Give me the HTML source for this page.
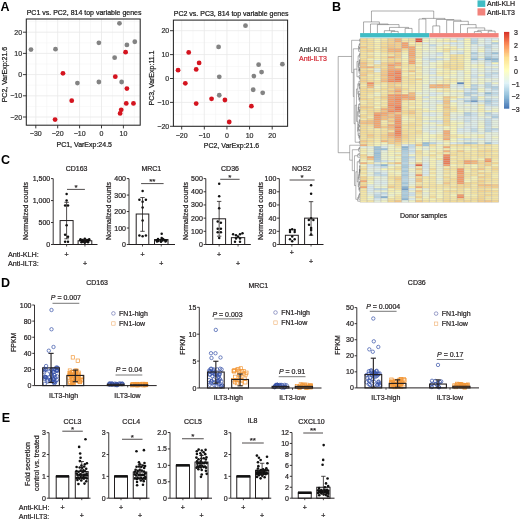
<!DOCTYPE html>
<html><head><meta charset="utf-8"><style>
html,body{margin:0;padding:0;background:#fff;}
svg{display:block;}
text{font-family:"Liberation Sans",Arial,sans-serif;stroke-width:0.22px;paint-order:stroke;}
</style></head><body>
<svg width="520" height="521" viewBox="0 0 520 521">
<rect width="520" height="521" fill="#fff"/>
<text x="0.5" y="11.4" font-size="12.5" text-anchor="start" fill="#000" stroke="#000" font-weight="bold" style="stroke-width:0">A</text>
<text x="332.1" y="10.8" font-size="12.5" text-anchor="start" fill="#000" stroke="#000" font-weight="bold" style="stroke-width:0">B</text>
<text x="0.9" y="163.8" font-size="12.5" text-anchor="start" fill="#000" stroke="#000" font-weight="bold" style="stroke-width:0">C</text>
<text x="0.9" y="286.5" font-size="12.5" text-anchor="start" fill="#000" stroke="#000" font-weight="bold" style="stroke-width:0">D</text>
<text x="1.7" y="421.6" font-size="12.5" text-anchor="start" fill="#000" stroke="#000" font-weight="bold" style="stroke-width:0">E</text>
<line x1="46.75" y1="19" x2="46.75" y2="125.2" stroke="#f2f2f2" stroke-width="0.5"/>
<line x1="68.65" y1="19" x2="68.65" y2="125.2" stroke="#f2f2f2" stroke-width="0.5"/>
<line x1="90.55" y1="19" x2="90.55" y2="125.2" stroke="#f2f2f2" stroke-width="0.5"/>
<line x1="112.45" y1="19" x2="112.45" y2="125.2" stroke="#f2f2f2" stroke-width="0.5"/>
<line x1="134.35" y1="19" x2="134.35" y2="125.2" stroke="#f2f2f2" stroke-width="0.5"/>
<line x1="26.3" y1="106.4" x2="140.2" y2="106.4" stroke="#f2f2f2" stroke-width="0.5"/>
<line x1="26.3" y1="85.2" x2="140.2" y2="85.2" stroke="#f2f2f2" stroke-width="0.5"/>
<line x1="26.3" y1="64" x2="140.2" y2="64" stroke="#f2f2f2" stroke-width="0.5"/>
<line x1="26.3" y1="42.8" x2="140.2" y2="42.8" stroke="#f2f2f2" stroke-width="0.5"/>
<line x1="26.3" y1="21.6" x2="140.2" y2="21.6" stroke="#f2f2f2" stroke-width="0.5"/>
<line x1="35.8" y1="19" x2="35.8" y2="125.2" stroke="#e8e8e8" stroke-width="0.8"/>
<line x1="57.7" y1="19" x2="57.7" y2="125.2" stroke="#e8e8e8" stroke-width="0.8"/>
<line x1="79.6" y1="19" x2="79.6" y2="125.2" stroke="#e8e8e8" stroke-width="0.8"/>
<line x1="101.5" y1="19" x2="101.5" y2="125.2" stroke="#e8e8e8" stroke-width="0.8"/>
<line x1="123.4" y1="19" x2="123.4" y2="125.2" stroke="#e8e8e8" stroke-width="0.8"/>
<line x1="26.3" y1="117" x2="140.2" y2="117" stroke="#e8e8e8" stroke-width="0.8"/>
<line x1="26.3" y1="95.8" x2="140.2" y2="95.8" stroke="#e8e8e8" stroke-width="0.8"/>
<line x1="26.3" y1="74.6" x2="140.2" y2="74.6" stroke="#e8e8e8" stroke-width="0.8"/>
<line x1="26.3" y1="53.4" x2="140.2" y2="53.4" stroke="#e8e8e8" stroke-width="0.8"/>
<line x1="26.3" y1="32.2" x2="140.2" y2="32.2" stroke="#e8e8e8" stroke-width="0.8"/>
<circle cx="30.98" cy="49.58" r="2.4" fill="#838383" stroke="none" stroke-width="1"/>
<circle cx="55.51" cy="49.16" r="2.4" fill="#838383" stroke="none" stroke-width="1"/>
<circle cx="77.41" cy="83.08" r="2.4" fill="#838383" stroke="none" stroke-width="1"/>
<circle cx="98.87" cy="42.8" r="2.4" fill="#838383" stroke="none" stroke-width="1"/>
<circle cx="98.87" cy="82.02" r="2.4" fill="#838383" stroke="none" stroke-width="1"/>
<circle cx="114.64" cy="57.64" r="2.4" fill="#838383" stroke="none" stroke-width="1"/>
<circle cx="119.46" cy="23.3" r="2.4" fill="#838383" stroke="none" stroke-width="1"/>
<circle cx="121.65" cy="82.02" r="2.4" fill="#838383" stroke="none" stroke-width="1"/>
<circle cx="126.9" cy="44.92" r="2.4" fill="#838383" stroke="none" stroke-width="1"/>
<circle cx="134.79" cy="41.74" r="2.4" fill="#838383" stroke="none" stroke-width="1"/>
<circle cx="55.07" cy="119.54" r="2.4" fill="#d4141f" stroke="none" stroke-width="1"/>
<circle cx="62.96" cy="73.33" r="2.4" fill="#d4141f" stroke="none" stroke-width="1"/>
<circle cx="71.72" cy="100.68" r="2.4" fill="#d4141f" stroke="none" stroke-width="1"/>
<circle cx="115.3" cy="76.72" r="2.4" fill="#d4141f" stroke="none" stroke-width="1"/>
<circle cx="125.59" cy="52.13" r="2.4" fill="#d4141f" stroke="none" stroke-width="1"/>
<circle cx="126.9" cy="88.59" r="2.4" fill="#d4141f" stroke="none" stroke-width="1"/>
<circle cx="126.25" cy="103.43" r="2.4" fill="#d4141f" stroke="none" stroke-width="1"/>
<circle cx="133.47" cy="103.43" r="2.4" fill="#d4141f" stroke="none" stroke-width="1"/>
<circle cx="121.21" cy="109.79" r="2.4" fill="#d4141f" stroke="none" stroke-width="1"/>
<circle cx="120.11" cy="113.4" r="2.4" fill="#d4141f" stroke="none" stroke-width="1"/>
<rect x="26.3" y="19" width="113.9" height="106.2" fill="none" stroke="#262626" stroke-width="1.05"/>
<line x1="35.8" y1="125.2" x2="35.8" y2="128.4" stroke="#262626" stroke-width="0.9"/>
<text x="35.8" y="136.4" font-size="7" text-anchor="middle" fill="#333" stroke="#333">−30</text>
<line x1="57.7" y1="125.2" x2="57.7" y2="128.4" stroke="#262626" stroke-width="0.9"/>
<text x="57.7" y="136.4" font-size="7" text-anchor="middle" fill="#333" stroke="#333">−20</text>
<line x1="79.6" y1="125.2" x2="79.6" y2="128.4" stroke="#262626" stroke-width="0.9"/>
<text x="79.6" y="136.4" font-size="7" text-anchor="middle" fill="#333" stroke="#333">−10</text>
<line x1="101.5" y1="125.2" x2="101.5" y2="128.4" stroke="#262626" stroke-width="0.9"/>
<text x="101.5" y="136.4" font-size="7" text-anchor="middle" fill="#333" stroke="#333">0</text>
<line x1="123.4" y1="125.2" x2="123.4" y2="128.4" stroke="#262626" stroke-width="0.9"/>
<text x="123.4" y="136.4" font-size="7" text-anchor="middle" fill="#333" stroke="#333">10</text>
<line x1="22.9" y1="117" x2="26.3" y2="117" stroke="#262626" stroke-width="0.9"/>
<text x="22.1" y="119.5" font-size="7" text-anchor="end" fill="#333" stroke="#333">−20</text>
<line x1="22.9" y1="95.8" x2="26.3" y2="95.8" stroke="#262626" stroke-width="0.9"/>
<text x="22.1" y="98.3" font-size="7" text-anchor="end" fill="#333" stroke="#333">−10</text>
<line x1="22.9" y1="74.6" x2="26.3" y2="74.6" stroke="#262626" stroke-width="0.9"/>
<text x="22.1" y="77.1" font-size="7" text-anchor="end" fill="#333" stroke="#333">0</text>
<line x1="22.9" y1="53.4" x2="26.3" y2="53.4" stroke="#262626" stroke-width="0.9"/>
<text x="22.1" y="55.9" font-size="7" text-anchor="end" fill="#333" stroke="#333">10</text>
<line x1="22.9" y1="32.2" x2="26.3" y2="32.2" stroke="#262626" stroke-width="0.9"/>
<text x="22.1" y="34.7" font-size="7" text-anchor="end" fill="#333" stroke="#333">20</text>
<text x="26.7" y="14.5" font-size="7" text-anchor="start" fill="#1a1a1a" stroke="#1a1a1a">PC1 vs. PC2, 814 top variable genes</text>
<text x="84.25" y="146.9" font-size="7" text-anchor="middle" fill="#1a1a1a" stroke="#1a1a1a">PC1, VarExp:24.5</text>
<text x="7.4" y="74.6" font-size="7" text-anchor="middle" fill="#1a1a1a" stroke="#1a1a1a" transform="rotate(-90 7.4 74.6)">PC2, VarExp:21.6</text>
<line x1="170.39" y1="20.1" x2="170.39" y2="126.3" stroke="#f2f2f2" stroke-width="0.5"/>
<line x1="193.01" y1="20.1" x2="193.01" y2="126.3" stroke="#f2f2f2" stroke-width="0.5"/>
<line x1="215.64" y1="20.1" x2="215.64" y2="126.3" stroke="#f2f2f2" stroke-width="0.5"/>
<line x1="238.26" y1="20.1" x2="238.26" y2="126.3" stroke="#f2f2f2" stroke-width="0.5"/>
<line x1="260.89" y1="20.1" x2="260.89" y2="126.3" stroke="#f2f2f2" stroke-width="0.5"/>
<line x1="283.51" y1="20.1" x2="283.51" y2="126.3" stroke="#f2f2f2" stroke-width="0.5"/>
<line x1="173.4" y1="114.35" x2="287.6" y2="114.35" stroke="#f2f2f2" stroke-width="0.5"/>
<line x1="173.4" y1="90.45" x2="287.6" y2="90.45" stroke="#f2f2f2" stroke-width="0.5"/>
<line x1="173.4" y1="66.55" x2="287.6" y2="66.55" stroke="#f2f2f2" stroke-width="0.5"/>
<line x1="173.4" y1="42.65" x2="287.6" y2="42.65" stroke="#f2f2f2" stroke-width="0.5"/>
<line x1="181.7" y1="20.1" x2="181.7" y2="126.3" stroke="#e8e8e8" stroke-width="0.8"/>
<line x1="204.32" y1="20.1" x2="204.32" y2="126.3" stroke="#e8e8e8" stroke-width="0.8"/>
<line x1="226.95" y1="20.1" x2="226.95" y2="126.3" stroke="#e8e8e8" stroke-width="0.8"/>
<line x1="249.57" y1="20.1" x2="249.57" y2="126.3" stroke="#e8e8e8" stroke-width="0.8"/>
<line x1="272.2" y1="20.1" x2="272.2" y2="126.3" stroke="#e8e8e8" stroke-width="0.8"/>
<line x1="173.4" y1="126.3" x2="287.6" y2="126.3" stroke="#e8e8e8" stroke-width="0.8"/>
<line x1="173.4" y1="102.4" x2="287.6" y2="102.4" stroke="#e8e8e8" stroke-width="0.8"/>
<line x1="173.4" y1="78.5" x2="287.6" y2="78.5" stroke="#e8e8e8" stroke-width="0.8"/>
<line x1="173.4" y1="54.6" x2="287.6" y2="54.6" stroke="#e8e8e8" stroke-width="0.8"/>
<line x1="173.4" y1="30.7" x2="287.6" y2="30.7" stroke="#e8e8e8" stroke-width="0.8"/>
<circle cx="245.5" cy="25.68" r="2.4" fill="#838383" stroke="none" stroke-width="1"/>
<circle cx="218.58" cy="46.95" r="2.4" fill="#838383" stroke="none" stroke-width="1"/>
<circle cx="219.26" cy="76.83" r="2.4" fill="#838383" stroke="none" stroke-width="1"/>
<circle cx="219.26" cy="95.23" r="2.4" fill="#838383" stroke="none" stroke-width="1"/>
<circle cx="253.87" cy="76.11" r="2.4" fill="#838383" stroke="none" stroke-width="1"/>
<circle cx="258.62" cy="64.64" r="2.4" fill="#838383" stroke="none" stroke-width="1"/>
<circle cx="261.57" cy="72.05" r="2.4" fill="#838383" stroke="none" stroke-width="1"/>
<circle cx="253.19" cy="89.73" r="2.4" fill="#838383" stroke="none" stroke-width="1"/>
<circle cx="262.7" cy="92.84" r="2.4" fill="#838383" stroke="none" stroke-width="1"/>
<circle cx="282.38" cy="64.16" r="2.4" fill="#838383" stroke="none" stroke-width="1"/>
<circle cx="188.71" cy="52.45" r="2.4" fill="#d4141f" stroke="none" stroke-width="1"/>
<circle cx="199.12" cy="62.97" r="2.4" fill="#d4141f" stroke="none" stroke-width="1"/>
<circle cx="178.08" cy="70.14" r="2.4" fill="#d4141f" stroke="none" stroke-width="1"/>
<circle cx="196.18" cy="69.42" r="2.4" fill="#d4141f" stroke="none" stroke-width="1"/>
<circle cx="185.32" cy="83.28" r="2.4" fill="#d4141f" stroke="none" stroke-width="1"/>
<circle cx="196.18" cy="103.59" r="2.4" fill="#d4141f" stroke="none" stroke-width="1"/>
<circle cx="211.56" cy="98.81" r="2.4" fill="#d4141f" stroke="none" stroke-width="1"/>
<circle cx="224.91" cy="100.01" r="2.4" fill="#d4141f" stroke="none" stroke-width="1"/>
<circle cx="229.21" cy="122" r="2.4" fill="#d4141f" stroke="none" stroke-width="1"/>
<circle cx="251.38" cy="106.22" r="2.4" fill="#d4141f" stroke="none" stroke-width="1"/>
<rect x="173.4" y="20.1" width="114.2" height="106.2" fill="none" stroke="#262626" stroke-width="1.05"/>
<line x1="181.7" y1="126.3" x2="181.7" y2="129.5" stroke="#262626" stroke-width="0.9"/>
<text x="181.7" y="137.6" font-size="7" text-anchor="middle" fill="#333" stroke="#333">−20</text>
<line x1="204.32" y1="126.3" x2="204.32" y2="129.5" stroke="#262626" stroke-width="0.9"/>
<text x="204.32" y="137.6" font-size="7" text-anchor="middle" fill="#333" stroke="#333">−10</text>
<line x1="226.95" y1="126.3" x2="226.95" y2="129.5" stroke="#262626" stroke-width="0.9"/>
<text x="226.95" y="137.6" font-size="7" text-anchor="middle" fill="#333" stroke="#333">0</text>
<line x1="249.57" y1="126.3" x2="249.57" y2="129.5" stroke="#262626" stroke-width="0.9"/>
<text x="249.57" y="137.6" font-size="7" text-anchor="middle" fill="#333" stroke="#333">10</text>
<line x1="272.2" y1="126.3" x2="272.2" y2="129.5" stroke="#262626" stroke-width="0.9"/>
<text x="272.2" y="137.6" font-size="7" text-anchor="middle" fill="#333" stroke="#333">20</text>
<line x1="170" y1="126.3" x2="173.4" y2="126.3" stroke="#262626" stroke-width="0.9"/>
<text x="169.2" y="128.8" font-size="7" text-anchor="end" fill="#333" stroke="#333">−20</text>
<line x1="170" y1="102.4" x2="173.4" y2="102.4" stroke="#262626" stroke-width="0.9"/>
<text x="169.2" y="104.9" font-size="7" text-anchor="end" fill="#333" stroke="#333">−10</text>
<line x1="170" y1="78.5" x2="173.4" y2="78.5" stroke="#262626" stroke-width="0.9"/>
<text x="169.2" y="81" font-size="7" text-anchor="end" fill="#333" stroke="#333">0</text>
<line x1="170" y1="54.6" x2="173.4" y2="54.6" stroke="#262626" stroke-width="0.9"/>
<text x="169.2" y="57.1" font-size="7" text-anchor="end" fill="#333" stroke="#333">10</text>
<line x1="170" y1="30.7" x2="173.4" y2="30.7" stroke="#262626" stroke-width="0.9"/>
<text x="169.2" y="33.2" font-size="7" text-anchor="end" fill="#333" stroke="#333">20</text>
<text x="173.8" y="16.3" font-size="7" text-anchor="start" fill="#1a1a1a" stroke="#1a1a1a">PC2 vs. PC3, 814 top variable genes</text>
<text x="231.5" y="148" font-size="7" text-anchor="middle" fill="#1a1a1a" stroke="#1a1a1a">PC2, VarExp:21.6</text>
<text x="153.6" y="78" font-size="7" text-anchor="middle" fill="#1a1a1a" stroke="#1a1a1a" transform="rotate(-90 153.6 78)">PC3, VarExp:11.1</text>
<text x="299" y="52.2" font-size="7" text-anchor="start" fill="#383838" stroke="#383838">Anti-KLH</text>
<text x="299" y="60.5" font-size="7" text-anchor="start" fill="#d42a35" stroke="#d42a35">Anti-ILT3</text>
<g><rect x="360.1" y="38.3" width="6.92" height="2" fill="#fee090"/><rect x="367.03" y="38.3" width="6.92" height="2" fill="#fee99e"/><rect x="373.95" y="38.3" width="6.92" height="2" fill="#fff8b4"/><rect x="380.88" y="38.3" width="6.92" height="2" fill="#feefa6"/><rect x="387.8" y="38.3" width="6.92" height="2" fill="#fed387"/><rect x="394.73" y="38.3" width="6.92" height="2" fill="#fdb372"/><rect x="401.65" y="38.3" width="6.92" height="2" fill="#feefa7"/><rect x="408.58" y="38.3" width="6.92" height="2" fill="#fee598"/><rect x="415.5" y="38.3" width="6.92" height="2" fill="#e5533a"/><rect x="422.43" y="38.3" width="6.92" height="2" fill="#f8fccb"/><rect x="429.35" y="38.3" width="6.92" height="2" fill="#f7fcce"/><rect x="436.28" y="38.3" width="6.92" height="2" fill="#f7fcce"/><rect x="443.2" y="38.3" width="6.92" height="2" fill="#fff8b4"/><rect x="450.12" y="38.3" width="6.92" height="2" fill="#e9f6e8"/><rect x="457.05" y="38.3" width="6.92" height="2" fill="#d2eaf3"/><rect x="463.98" y="38.3" width="6.92" height="2" fill="#fff9b6"/><rect x="470.9" y="38.3" width="6.92" height="2" fill="#c4e0ee"/><rect x="477.83" y="38.3" width="6.92" height="2" fill="#eaf7e6"/><rect x="484.75" y="38.3" width="6.92" height="2" fill="#ddf1f7"/><rect x="491.68" y="38.3" width="6.92" height="2" fill="#e2f4f4"/><rect x="360.1" y="40.3" width="6.92" height="2" fill="#fedc8e"/><rect x="367.03" y="40.3" width="6.92" height="2" fill="#fee89c"/><rect x="373.95" y="40.3" width="6.92" height="2" fill="#fffbb9"/><rect x="380.88" y="40.3" width="6.92" height="2" fill="#fee99e"/><rect x="387.8" y="40.3" width="6.92" height="2" fill="#fed78a"/><rect x="394.73" y="40.3" width="6.92" height="2" fill="#fdae6f"/><rect x="401.65" y="40.3" width="6.92" height="2" fill="#feeca2"/><rect x="408.58" y="40.3" width="6.92" height="2" fill="#fee99d"/><rect x="415.5" y="40.3" width="6.92" height="2" fill="#df4532"/><rect x="422.43" y="40.3" width="6.92" height="2" fill="#fffebd"/><rect x="429.35" y="40.3" width="6.92" height="2" fill="#f2fad7"/><rect x="436.28" y="40.3" width="6.92" height="2" fill="#fff9b5"/><rect x="443.2" y="40.3" width="6.92" height="2" fill="#fff7b3"/><rect x="450.12" y="40.3" width="6.92" height="2" fill="#fff2ab"/><rect x="457.05" y="40.3" width="6.92" height="2" fill="#eff9dc"/><rect x="463.98" y="40.3" width="6.92" height="2" fill="#fffebe"/><rect x="470.9" y="40.3" width="6.92" height="2" fill="#bcdceb"/><rect x="477.83" y="40.3" width="6.92" height="2" fill="#eff9dc"/><rect x="484.75" y="40.3" width="6.92" height="2" fill="#dcf0f6"/><rect x="491.68" y="40.3" width="6.92" height="2" fill="#fbfec6"/><rect x="360.1" y="42.3" width="6.92" height="2" fill="#fee395"/><rect x="367.03" y="42.3" width="6.92" height="2" fill="#fee79b"/><rect x="373.95" y="42.3" width="6.92" height="2" fill="#fff3ad"/><rect x="380.88" y="42.3" width="6.92" height="2" fill="#fee192"/><rect x="387.8" y="42.3" width="6.92" height="2" fill="#fed589"/><rect x="394.73" y="42.3" width="6.92" height="2" fill="#fed689"/><rect x="401.65" y="42.3" width="6.92" height="2" fill="#fca267"/><rect x="408.58" y="42.3" width="6.92" height="2" fill="#fff7b4"/><rect x="415.5" y="42.3" width="6.92" height="2" fill="#fff1aa"/><rect x="422.43" y="42.3" width="6.92" height="2" fill="#e4f4f1"/><rect x="429.35" y="42.3" width="6.92" height="2" fill="#f2fad7"/><rect x="436.28" y="42.3" width="6.92" height="2" fill="#f0f9db"/><rect x="443.2" y="42.3" width="6.92" height="2" fill="#e6f5ee"/><rect x="450.12" y="42.3" width="6.92" height="2" fill="#daeff6"/><rect x="457.05" y="42.3" width="6.92" height="2" fill="#d8eef5"/><rect x="463.98" y="42.3" width="6.92" height="2" fill="#fffdbc"/><rect x="470.9" y="42.3" width="6.92" height="2" fill="#b7d8e9"/><rect x="477.83" y="42.3" width="6.92" height="2" fill="#eaf7e6"/><rect x="484.75" y="42.3" width="6.92" height="2" fill="#e2f4f5"/><rect x="491.68" y="42.3" width="6.92" height="2" fill="#b5d7e8"/><rect x="360.1" y="44.3" width="6.92" height="2" fill="#fee89d"/><rect x="367.03" y="44.3" width="6.92" height="2" fill="#fee699"/><rect x="373.95" y="44.3" width="6.92" height="2" fill="#fff3ad"/><rect x="380.88" y="44.3" width="6.92" height="2" fill="#fee598"/><rect x="387.8" y="44.3" width="6.92" height="2" fill="#fecc83"/><rect x="394.73" y="44.3" width="6.92" height="2" fill="#fed488"/><rect x="401.65" y="44.3" width="6.92" height="2" fill="#fda267"/><rect x="408.58" y="44.3" width="6.92" height="2" fill="#fee598"/><rect x="415.5" y="44.3" width="6.92" height="2" fill="#feefa7"/><rect x="422.43" y="44.3" width="6.92" height="2" fill="#f6fbd0"/><rect x="429.35" y="44.3" width="6.92" height="2" fill="#c8e3ef"/><rect x="436.28" y="44.3" width="6.92" height="2" fill="#eff9dd"/><rect x="443.2" y="44.3" width="6.92" height="2" fill="#fff4af"/><rect x="450.12" y="44.3" width="6.92" height="2" fill="#e9f6e8"/><rect x="457.05" y="44.3" width="6.92" height="2" fill="#e7f6ea"/><rect x="463.98" y="44.3" width="6.92" height="2" fill="#fdfec2"/><rect x="470.9" y="44.3" width="6.92" height="2" fill="#e8f6ea"/><rect x="477.83" y="44.3" width="6.92" height="2" fill="#e1f3f7"/><rect x="484.75" y="44.3" width="6.92" height="2" fill="#c0deec"/><rect x="491.68" y="44.3" width="6.92" height="2" fill="#e2f4f5"/><rect x="360.1" y="46.3" width="6.92" height="2" fill="#fecf85"/><rect x="367.03" y="46.3" width="6.92" height="2" fill="#feeba0"/><rect x="373.95" y="46.3" width="6.92" height="2" fill="#fff7b3"/><rect x="380.88" y="46.3" width="6.92" height="2" fill="#feda8c"/><rect x="387.8" y="46.3" width="6.92" height="2" fill="#fdc981"/><rect x="394.73" y="46.3" width="6.92" height="2" fill="#fed88b"/><rect x="401.65" y="46.3" width="6.92" height="2" fill="#fc9f65"/><rect x="408.58" y="46.3" width="6.92" height="2" fill="#fdaa6c"/><rect x="415.5" y="46.3" width="6.92" height="2" fill="#fffebd"/><rect x="422.43" y="46.3" width="6.92" height="2" fill="#f2fad7"/><rect x="429.35" y="46.3" width="6.92" height="2" fill="#e7f6ec"/><rect x="436.28" y="46.3" width="6.92" height="2" fill="#fffcbb"/><rect x="443.2" y="46.3" width="6.92" height="2" fill="#ffffc0"/><rect x="450.12" y="46.3" width="6.92" height="2" fill="#fffab8"/><rect x="457.05" y="46.3" width="6.92" height="2" fill="#e2f4f4"/><rect x="463.98" y="46.3" width="6.92" height="2" fill="#fafdc8"/><rect x="470.9" y="46.3" width="6.92" height="2" fill="#e2f4f5"/><rect x="477.83" y="46.3" width="6.92" height="2" fill="#eff9dc"/><rect x="484.75" y="46.3" width="6.92" height="2" fill="#bbdaea"/><rect x="491.68" y="46.3" width="6.92" height="2" fill="#e2f4f3"/><rect x="360.1" y="48.29" width="6.92" height="2" fill="#fee293"/><rect x="367.03" y="48.29" width="6.92" height="2" fill="#fee292"/><rect x="373.95" y="48.29" width="6.92" height="2" fill="#feeda4"/><rect x="380.88" y="48.29" width="6.92" height="2" fill="#fee496"/><rect x="387.8" y="48.29" width="6.92" height="2" fill="#fdb573"/><rect x="394.73" y="48.29" width="6.92" height="2" fill="#fdb573"/><rect x="401.65" y="48.29" width="6.92" height="2" fill="#fedd8e"/><rect x="408.58" y="48.29" width="6.92" height="2" fill="#fdaa6c"/><rect x="415.5" y="48.29" width="6.92" height="2" fill="#fff0a8"/><rect x="422.43" y="48.29" width="6.92" height="2" fill="#fafdc8"/><rect x="429.35" y="48.29" width="6.92" height="2" fill="#eaf7e6"/><rect x="436.28" y="48.29" width="6.92" height="2" fill="#fffcba"/><rect x="443.2" y="48.29" width="6.92" height="2" fill="#fee89c"/><rect x="450.12" y="48.29" width="6.92" height="2" fill="#fff4af"/><rect x="457.05" y="48.29" width="6.92" height="2" fill="#fafdc9"/><rect x="463.98" y="48.29" width="6.92" height="2" fill="#ffffbf"/><rect x="470.9" y="48.29" width="6.92" height="2" fill="#e5f5ef"/><rect x="477.83" y="48.29" width="6.92" height="2" fill="#f8fccd"/><rect x="484.75" y="48.29" width="6.92" height="2" fill="#d3eaf3"/><rect x="491.68" y="48.29" width="6.92" height="2" fill="#ebf7e3"/><rect x="360.1" y="50.29" width="6.92" height="2" fill="#fee192"/><rect x="367.03" y="50.29" width="6.92" height="2" fill="#fed78a"/><rect x="373.95" y="50.29" width="6.92" height="2" fill="#fff7b2"/><rect x="380.88" y="50.29" width="6.92" height="2" fill="#fee090"/><rect x="387.8" y="50.29" width="6.92" height="2" fill="#fdb574"/><rect x="394.73" y="50.29" width="6.92" height="2" fill="#fdad6e"/><rect x="401.65" y="50.29" width="6.92" height="2" fill="#feefa7"/><rect x="408.58" y="50.29" width="6.92" height="2" fill="#fda86b"/><rect x="415.5" y="50.29" width="6.92" height="2" fill="#fff7b3"/><rect x="422.43" y="50.29" width="6.92" height="2" fill="#f3fad6"/><rect x="429.35" y="50.29" width="6.92" height="2" fill="#f0f9da"/><rect x="436.28" y="50.29" width="6.92" height="2" fill="#fefec2"/><rect x="443.2" y="50.29" width="6.92" height="2" fill="#feeca2"/><rect x="450.12" y="50.29" width="6.92" height="2" fill="#edf8e0"/><rect x="457.05" y="50.29" width="6.92" height="2" fill="#e9f7e7"/><rect x="463.98" y="50.29" width="6.92" height="2" fill="#fffbb9"/><rect x="470.9" y="50.29" width="6.92" height="2" fill="#e1f4f5"/><rect x="477.83" y="50.29" width="6.92" height="2" fill="#fffebe"/><rect x="484.75" y="50.29" width="6.92" height="2" fill="#d0e8f2"/><rect x="491.68" y="50.29" width="6.92" height="2" fill="#e6f5ed"/><rect x="360.1" y="52.29" width="6.92" height="2" fill="#feeba1"/><rect x="367.03" y="52.29" width="6.92" height="2" fill="#fff3ad"/><rect x="373.95" y="52.29" width="6.92" height="2" fill="#fbfdc6"/><rect x="380.88" y="52.29" width="6.92" height="2" fill="#feefa6"/><rect x="387.8" y="52.29" width="6.92" height="2" fill="#fedb8c"/><rect x="394.73" y="52.29" width="6.92" height="2" fill="#feda8c"/><rect x="401.65" y="52.29" width="6.92" height="2" fill="#fffab7"/><rect x="408.58" y="52.29" width="6.92" height="2" fill="#fda86b"/><rect x="415.5" y="52.29" width="6.92" height="2" fill="#fff5b0"/><rect x="422.43" y="52.29" width="6.92" height="2" fill="#e9f6e8"/><rect x="429.35" y="52.29" width="6.92" height="2" fill="#eaf7e5"/><rect x="436.28" y="52.29" width="6.92" height="2" fill="#d1e9f2"/><rect x="443.2" y="52.29" width="6.92" height="2" fill="#f9fdc9"/><rect x="450.12" y="52.29" width="6.92" height="2" fill="#e4f5f1"/><rect x="457.05" y="52.29" width="6.92" height="2" fill="#cee7f2"/><rect x="463.98" y="52.29" width="6.92" height="2" fill="#fbfec6"/><rect x="470.9" y="52.29" width="6.92" height="2" fill="#acd1e5"/><rect x="477.83" y="52.29" width="6.92" height="2" fill="#e7f6eb"/><rect x="484.75" y="52.29" width="6.92" height="2" fill="#bfddec"/><rect x="491.68" y="52.29" width="6.92" height="2" fill="#9ac5de"/><rect x="360.1" y="54.29" width="6.92" height="2" fill="#fee89c"/><rect x="367.03" y="54.29" width="6.92" height="2" fill="#feeba1"/><rect x="373.95" y="54.29" width="6.92" height="2" fill="#fffebd"/><rect x="380.88" y="54.29" width="6.92" height="2" fill="#fff6b1"/><rect x="387.8" y="54.29" width="6.92" height="2" fill="#feeda4"/><rect x="394.73" y="54.29" width="6.92" height="2" fill="#fed186"/><rect x="401.65" y="54.29" width="6.92" height="2" fill="#fafdc8"/><rect x="408.58" y="54.29" width="6.92" height="2" fill="#fda569"/><rect x="415.5" y="54.29" width="6.92" height="2" fill="#fffbb9"/><rect x="422.43" y="54.29" width="6.92" height="2" fill="#eff9dc"/><rect x="429.35" y="54.29" width="6.92" height="2" fill="#e4f5f0"/><rect x="436.28" y="54.29" width="6.92" height="2" fill="#e0f3f8"/><rect x="443.2" y="54.29" width="6.92" height="2" fill="#fafdc8"/><rect x="450.12" y="54.29" width="6.92" height="2" fill="#feeaa0"/><rect x="457.05" y="54.29" width="6.92" height="2" fill="#feeea5"/><rect x="463.98" y="54.29" width="6.92" height="2" fill="#fffbb9"/><rect x="470.9" y="54.29" width="6.92" height="2" fill="#cfe8f2"/><rect x="477.83" y="54.29" width="6.92" height="2" fill="#e9f6e8"/><rect x="484.75" y="54.29" width="6.92" height="2" fill="#c6e2ee"/><rect x="491.68" y="54.29" width="6.92" height="2" fill="#d5ecf4"/><rect x="360.1" y="56.29" width="6.92" height="2" fill="#feea9f"/><rect x="367.03" y="56.29" width="6.92" height="2" fill="#fede8e"/><rect x="373.95" y="56.29" width="6.92" height="2" fill="#fff4ae"/><rect x="380.88" y="56.29" width="6.92" height="2" fill="#fee699"/><rect x="387.8" y="56.29" width="6.92" height="2" fill="#fdb070"/><rect x="394.73" y="56.29" width="6.92" height="2" fill="#fecf85"/><rect x="401.65" y="56.29" width="6.92" height="2" fill="#fafdc8"/><rect x="408.58" y="56.29" width="6.92" height="2" fill="#fdb070"/><rect x="415.5" y="56.29" width="6.92" height="2" fill="#feeca3"/><rect x="422.43" y="56.29" width="6.92" height="2" fill="#e7f6ea"/><rect x="429.35" y="56.29" width="6.92" height="2" fill="#e7f6eb"/><rect x="436.28" y="56.29" width="6.92" height="2" fill="#f9fdc9"/><rect x="443.2" y="56.29" width="6.92" height="2" fill="#fffcbb"/><rect x="450.12" y="56.29" width="6.92" height="2" fill="#fee598"/><rect x="457.05" y="56.29" width="6.92" height="2" fill="#feeea5"/><rect x="463.98" y="56.29" width="6.92" height="2" fill="#fffab7"/><rect x="470.9" y="56.29" width="6.92" height="2" fill="#c2dfed"/><rect x="477.83" y="56.29" width="6.92" height="2" fill="#f4fbd3"/><rect x="484.75" y="56.29" width="6.92" height="2" fill="#a6cde3"/><rect x="491.68" y="56.29" width="6.92" height="2" fill="#c6e2ee"/><rect x="360.1" y="58.29" width="6.92" height="2" fill="#fee395"/><rect x="367.03" y="58.29" width="6.92" height="2" fill="#fff8b5"/><rect x="373.95" y="58.29" width="6.92" height="2" fill="#fffdbc"/><rect x="380.88" y="58.29" width="6.92" height="2" fill="#fff0a9"/><rect x="387.8" y="58.29" width="6.92" height="2" fill="#fee192"/><rect x="394.73" y="58.29" width="6.92" height="2" fill="#fee496"/><rect x="401.65" y="58.29" width="6.92" height="2" fill="#fff8b4"/><rect x="408.58" y="58.29" width="6.92" height="2" fill="#fdb976"/><rect x="415.5" y="58.29" width="6.92" height="2" fill="#fffebd"/><rect x="422.43" y="58.29" width="6.92" height="2" fill="#daeff6"/><rect x="429.35" y="58.29" width="6.92" height="2" fill="#c3e0ed"/><rect x="436.28" y="58.29" width="6.92" height="2" fill="#d1e9f2"/><rect x="443.2" y="58.29" width="6.92" height="2" fill="#eef8df"/><rect x="450.12" y="58.29" width="6.92" height="2" fill="#fee394"/><rect x="457.05" y="58.29" width="6.92" height="2" fill="#feeea6"/><rect x="463.98" y="58.29" width="6.92" height="2" fill="#fcfec4"/><rect x="470.9" y="58.29" width="6.92" height="2" fill="#98c4de"/><rect x="477.83" y="58.29" width="6.92" height="2" fill="#d5ebf4"/><rect x="484.75" y="58.29" width="6.92" height="2" fill="#83b2d4"/><rect x="491.68" y="58.29" width="6.92" height="2" fill="#8bb9d8"/><rect x="360.1" y="60.29" width="6.92" height="2" fill="#fedd8e"/><rect x="367.03" y="60.29" width="6.92" height="2" fill="#feeda4"/><rect x="373.95" y="60.29" width="6.92" height="2" fill="#e6f5ec"/><rect x="380.88" y="60.29" width="6.92" height="2" fill="#feefa7"/><rect x="387.8" y="60.29" width="6.92" height="2" fill="#fedb8c"/><rect x="394.73" y="60.29" width="6.92" height="2" fill="#fee192"/><rect x="401.65" y="60.29" width="6.92" height="2" fill="#fffcbb"/><rect x="408.58" y="60.29" width="6.92" height="2" fill="#fca065"/><rect x="415.5" y="60.29" width="6.92" height="2" fill="#fffdbd"/><rect x="422.43" y="60.29" width="6.92" height="2" fill="#ecf8e3"/><rect x="429.35" y="60.29" width="6.92" height="2" fill="#e0f3f8"/><rect x="436.28" y="60.29" width="6.92" height="2" fill="#f9fdcb"/><rect x="443.2" y="60.29" width="6.92" height="2" fill="#fff2ab"/><rect x="450.12" y="60.29" width="6.92" height="2" fill="#feeba0"/><rect x="457.05" y="60.29" width="6.92" height="2" fill="#feefa6"/><rect x="463.98" y="60.29" width="6.92" height="2" fill="#fcfec5"/><rect x="470.9" y="60.29" width="6.92" height="2" fill="#ddf1f7"/><rect x="477.83" y="60.29" width="6.92" height="2" fill="#eef8df"/><rect x="484.75" y="60.29" width="6.92" height="2" fill="#c7e3ef"/><rect x="491.68" y="60.29" width="6.92" height="2" fill="#a5cce2"/><rect x="360.1" y="62.29" width="6.92" height="2" fill="#fdc37d"/><rect x="367.03" y="62.29" width="6.92" height="2" fill="#fee597"/><rect x="373.95" y="62.29" width="6.92" height="2" fill="#ebf7e4"/><rect x="380.88" y="62.29" width="6.92" height="2" fill="#fed88b"/><rect x="387.8" y="62.29" width="6.92" height="2" fill="#fdc47d"/><rect x="394.73" y="62.29" width="6.92" height="2" fill="#fda96b"/><rect x="401.65" y="62.29" width="6.92" height="2" fill="#feefa7"/><rect x="408.58" y="62.29" width="6.92" height="2" fill="#fda368"/><rect x="415.5" y="62.29" width="6.92" height="2" fill="#fff0a8"/><rect x="422.43" y="62.29" width="6.92" height="2" fill="#e6f5ec"/><rect x="429.35" y="62.29" width="6.92" height="2" fill="#f8fccb"/><rect x="436.28" y="62.29" width="6.92" height="2" fill="#fdfec3"/><rect x="443.2" y="62.29" width="6.92" height="2" fill="#feeba0"/><rect x="450.12" y="62.29" width="6.92" height="2" fill="#feeca2"/><rect x="457.05" y="62.29" width="6.92" height="2" fill="#fee99d"/><rect x="463.98" y="62.29" width="6.92" height="2" fill="#fdfec3"/><rect x="470.9" y="62.29" width="6.92" height="2" fill="#e6f5ee"/><rect x="477.83" y="62.29" width="6.92" height="2" fill="#f3fad6"/><rect x="484.75" y="62.29" width="6.92" height="2" fill="#d8eef5"/><rect x="491.68" y="62.29" width="6.92" height="2" fill="#feffc0"/><rect x="360.1" y="64.28" width="6.92" height="2" fill="#fece84"/><rect x="367.03" y="64.28" width="6.92" height="2" fill="#fff5b0"/><rect x="373.95" y="64.28" width="6.92" height="2" fill="#feeaa0"/><rect x="380.88" y="64.28" width="6.92" height="2" fill="#fed98c"/><rect x="387.8" y="64.28" width="6.92" height="2" fill="#fc9b62"/><rect x="394.73" y="64.28" width="6.92" height="2" fill="#fdb171"/><rect x="401.65" y="64.28" width="6.92" height="2" fill="#feeda3"/><rect x="408.58" y="64.28" width="6.92" height="2" fill="#fee395"/><rect x="415.5" y="64.28" width="6.92" height="2" fill="#feffc1"/><rect x="422.43" y="64.28" width="6.92" height="2" fill="#eaf7e5"/><rect x="429.35" y="64.28" width="6.92" height="2" fill="#f4fbd3"/><rect x="436.28" y="64.28" width="6.92" height="2" fill="#fff8b4"/><rect x="443.2" y="64.28" width="6.92" height="2" fill="#fee495"/><rect x="450.12" y="64.28" width="6.92" height="2" fill="#fee496"/><rect x="457.05" y="64.28" width="6.92" height="2" fill="#fee79b"/><rect x="463.98" y="64.28" width="6.92" height="2" fill="#feffc1"/><rect x="470.9" y="64.28" width="6.92" height="2" fill="#f8fccc"/><rect x="477.83" y="64.28" width="6.92" height="2" fill="#fffab8"/><rect x="484.75" y="64.28" width="6.92" height="2" fill="#d8eef5"/><rect x="491.68" y="64.28" width="6.92" height="2" fill="#e2f4f4"/><rect x="360.1" y="66.28" width="6.92" height="2" fill="#fdc07b"/><rect x="367.03" y="66.28" width="6.92" height="2" fill="#fdb775"/><rect x="373.95" y="66.28" width="6.92" height="2" fill="#fee69a"/><rect x="380.88" y="66.28" width="6.92" height="2" fill="#fee698"/><rect x="387.8" y="66.28" width="6.92" height="2" fill="#fdb272"/><rect x="394.73" y="66.28" width="6.92" height="2" fill="#fee090"/><rect x="401.65" y="66.28" width="6.92" height="2" fill="#feefa7"/><rect x="408.58" y="66.28" width="6.92" height="2" fill="#fee598"/><rect x="415.5" y="66.28" width="6.92" height="2" fill="#feeaa0"/><rect x="422.43" y="66.28" width="6.92" height="2" fill="#f4fbd3"/><rect x="429.35" y="66.28" width="6.92" height="2" fill="#f9fdca"/><rect x="436.28" y="66.28" width="6.92" height="2" fill="#fff2ac"/><rect x="443.2" y="66.28" width="6.92" height="2" fill="#fee395"/><rect x="450.12" y="66.28" width="6.92" height="2" fill="#fee698"/><rect x="457.05" y="66.28" width="6.92" height="2" fill="#fee699"/><rect x="463.98" y="66.28" width="6.92" height="2" fill="#fbfdc6"/><rect x="470.9" y="66.28" width="6.92" height="2" fill="#f7fcce"/><rect x="477.83" y="66.28" width="6.92" height="2" fill="#fffdbc"/><rect x="484.75" y="66.28" width="6.92" height="2" fill="#edf8df"/><rect x="491.68" y="66.28" width="6.92" height="2" fill="#f2fad6"/><rect x="360.1" y="68.28" width="6.92" height="2" fill="#fee395"/><rect x="367.03" y="68.28" width="6.92" height="2" fill="#feefa7"/><rect x="373.95" y="68.28" width="6.92" height="2" fill="#ecf7e3"/><rect x="380.88" y="68.28" width="6.92" height="2" fill="#fed98b"/><rect x="387.8" y="68.28" width="6.92" height="2" fill="#fdab6d"/><rect x="394.73" y="68.28" width="6.92" height="2" fill="#fdad6e"/><rect x="401.65" y="68.28" width="6.92" height="2" fill="#fff9b5"/><rect x="408.58" y="68.28" width="6.92" height="2" fill="#fee89c"/><rect x="415.5" y="68.28" width="6.92" height="2" fill="#fff1aa"/><rect x="422.43" y="68.28" width="6.92" height="2" fill="#edf8e1"/><rect x="429.35" y="68.28" width="6.92" height="2" fill="#dbeff6"/><rect x="436.28" y="68.28" width="6.92" height="2" fill="#f7fcce"/><rect x="443.2" y="68.28" width="6.92" height="2" fill="#fff0a8"/><rect x="450.12" y="68.28" width="6.92" height="2" fill="#fee191"/><rect x="457.05" y="68.28" width="6.92" height="2" fill="#feeba1"/><rect x="463.98" y="68.28" width="6.92" height="2" fill="#f9fdc9"/><rect x="470.9" y="68.28" width="6.92" height="2" fill="#def2f7"/><rect x="477.83" y="68.28" width="6.92" height="2" fill="#f4fbd4"/><rect x="484.75" y="68.28" width="6.92" height="2" fill="#d4ebf4"/><rect x="491.68" y="68.28" width="6.92" height="2" fill="#d6ecf4"/><rect x="360.1" y="70.28" width="6.92" height="2" fill="#fede8f"/><rect x="367.03" y="70.28" width="6.92" height="2" fill="#fed78a"/><rect x="373.95" y="70.28" width="6.92" height="2" fill="#e8f6e9"/><rect x="380.88" y="70.28" width="6.92" height="2" fill="#fece84"/><rect x="387.8" y="70.28" width="6.92" height="2" fill="#fc975f"/><rect x="394.73" y="70.28" width="6.92" height="2" fill="#fc8d59"/><rect x="401.65" y="70.28" width="6.92" height="2" fill="#fee99e"/><rect x="408.58" y="70.28" width="6.92" height="2" fill="#fdc980"/><rect x="415.5" y="70.28" width="6.92" height="2" fill="#fffab7"/><rect x="422.43" y="70.28" width="6.92" height="2" fill="#eef8de"/><rect x="429.35" y="70.28" width="6.92" height="2" fill="#e8f6e9"/><rect x="436.28" y="70.28" width="6.92" height="2" fill="#ffffc0"/><rect x="443.2" y="70.28" width="6.92" height="2" fill="#fff8b4"/><rect x="450.12" y="70.28" width="6.92" height="2" fill="#fbfdc6"/><rect x="457.05" y="70.28" width="6.92" height="2" fill="#edf8df"/><rect x="463.98" y="70.28" width="6.92" height="2" fill="#ffffbf"/><rect x="470.9" y="70.28" width="6.92" height="2" fill="#e4f4f1"/><rect x="477.83" y="70.28" width="6.92" height="2" fill="#f5fbd2"/><rect x="484.75" y="70.28" width="6.92" height="2" fill="#e5f5ef"/><rect x="491.68" y="70.28" width="6.92" height="2" fill="#e8f6e8"/><rect x="360.1" y="72.28" width="6.92" height="2" fill="#fed68a"/><rect x="367.03" y="72.28" width="6.92" height="2" fill="#fee293"/><rect x="373.95" y="72.28" width="6.92" height="2" fill="#fff2ac"/><rect x="380.88" y="72.28" width="6.92" height="2" fill="#fece84"/><rect x="387.8" y="72.28" width="6.92" height="2" fill="#fc945e"/><rect x="394.73" y="72.28" width="6.92" height="2" fill="#f57a4f"/><rect x="401.65" y="72.28" width="6.92" height="2" fill="#fff8b4"/><rect x="408.58" y="72.28" width="6.92" height="2" fill="#fff7b2"/><rect x="415.5" y="72.28" width="6.92" height="2" fill="#fff0a8"/><rect x="422.43" y="72.28" width="6.92" height="2" fill="#edf8df"/><rect x="429.35" y="72.28" width="6.92" height="2" fill="#daeff6"/><rect x="436.28" y="72.28" width="6.92" height="2" fill="#fff4af"/><rect x="443.2" y="72.28" width="6.92" height="2" fill="#fff1aa"/><rect x="450.12" y="72.28" width="6.92" height="2" fill="#fffbb9"/><rect x="457.05" y="72.28" width="6.92" height="2" fill="#eaf7e6"/><rect x="463.98" y="72.28" width="6.92" height="2" fill="#fffbb9"/><rect x="470.9" y="72.28" width="6.92" height="2" fill="#e4f5f0"/><rect x="477.83" y="72.28" width="6.92" height="2" fill="#e9f6e8"/><rect x="484.75" y="72.28" width="6.92" height="2" fill="#cde7f1"/><rect x="491.68" y="72.28" width="6.92" height="2" fill="#bddceb"/><rect x="360.1" y="74.28" width="6.92" height="2" fill="#fecc83"/><rect x="367.03" y="74.28" width="6.92" height="2" fill="#fff2ab"/><rect x="373.95" y="74.28" width="6.92" height="2" fill="#fff1aa"/><rect x="380.88" y="74.28" width="6.92" height="2" fill="#fdc47e"/><rect x="387.8" y="74.28" width="6.92" height="2" fill="#fa8856"/><rect x="394.73" y="74.28" width="6.92" height="2" fill="#fc8e59"/><rect x="401.65" y="74.28" width="6.92" height="2" fill="#fff9b5"/><rect x="408.58" y="74.28" width="6.92" height="2" fill="#fee598"/><rect x="415.5" y="74.28" width="6.92" height="2" fill="#fff2ab"/><rect x="422.43" y="74.28" width="6.92" height="2" fill="#f4fbd4"/><rect x="429.35" y="74.28" width="6.92" height="2" fill="#f3fad5"/><rect x="436.28" y="74.28" width="6.92" height="2" fill="#fffbb9"/><rect x="443.2" y="74.28" width="6.92" height="2" fill="#fff9b6"/><rect x="450.12" y="74.28" width="6.92" height="2" fill="#fafdc9"/><rect x="457.05" y="74.28" width="6.92" height="2" fill="#ebf7e3"/><rect x="463.98" y="74.28" width="6.92" height="2" fill="#f9fdca"/><rect x="470.9" y="74.28" width="6.92" height="2" fill="#d5ecf4"/><rect x="477.83" y="74.28" width="6.92" height="2" fill="#fcfec5"/><rect x="484.75" y="74.28" width="6.92" height="2" fill="#c6e2ef"/><rect x="491.68" y="74.28" width="6.92" height="2" fill="#ddf1f7"/><rect x="360.1" y="76.28" width="6.92" height="2" fill="#fee597"/><rect x="367.03" y="76.28" width="6.92" height="2" fill="#fee99d"/><rect x="373.95" y="76.28" width="6.92" height="2" fill="#fff5af"/><rect x="380.88" y="76.28" width="6.92" height="2" fill="#fed589"/><rect x="387.8" y="76.28" width="6.92" height="2" fill="#fc9f65"/><rect x="394.73" y="76.28" width="6.92" height="2" fill="#f57b4f"/><rect x="401.65" y="76.28" width="6.92" height="2" fill="#fee89c"/><rect x="408.58" y="76.28" width="6.92" height="2" fill="#feeea5"/><rect x="415.5" y="76.28" width="6.92" height="2" fill="#fffcbb"/><rect x="422.43" y="76.28" width="6.92" height="2" fill="#f8fccb"/><rect x="429.35" y="76.28" width="6.92" height="2" fill="#e2f4f4"/><rect x="436.28" y="76.28" width="6.92" height="2" fill="#e9f7e7"/><rect x="443.2" y="76.28" width="6.92" height="2" fill="#fdfec3"/><rect x="450.12" y="76.28" width="6.92" height="2" fill="#f1fad9"/><rect x="457.05" y="76.28" width="6.92" height="2" fill="#eef9dd"/><rect x="463.98" y="76.28" width="6.92" height="2" fill="#fcfec5"/><rect x="470.9" y="76.28" width="6.92" height="2" fill="#d3eaf3"/><rect x="477.83" y="76.28" width="6.92" height="2" fill="#e9f6e8"/><rect x="484.75" y="76.28" width="6.92" height="2" fill="#cde6f1"/><rect x="491.68" y="76.28" width="6.92" height="2" fill="#def2f7"/><rect x="360.1" y="78.28" width="6.92" height="2" fill="#feda8c"/><rect x="367.03" y="78.28" width="6.92" height="2" fill="#fee99d"/><rect x="373.95" y="78.28" width="6.92" height="2" fill="#fffbba"/><rect x="380.88" y="78.28" width="6.92" height="2" fill="#fdc77f"/><rect x="387.8" y="78.28" width="6.92" height="2" fill="#fc965f"/><rect x="394.73" y="78.28" width="6.92" height="2" fill="#f2754c"/><rect x="401.65" y="78.28" width="6.92" height="2" fill="#feeda4"/><rect x="408.58" y="78.28" width="6.92" height="2" fill="#fee294"/><rect x="415.5" y="78.28" width="6.92" height="2" fill="#fedb8d"/><rect x="422.43" y="78.28" width="6.92" height="2" fill="#f7fccd"/><rect x="429.35" y="78.28" width="6.92" height="2" fill="#eff9dc"/><rect x="436.28" y="78.28" width="6.92" height="2" fill="#f0f9db"/><rect x="443.2" y="78.28" width="6.92" height="2" fill="#feeda4"/><rect x="450.12" y="78.28" width="6.92" height="2" fill="#fff5b0"/><rect x="457.05" y="78.28" width="6.92" height="2" fill="#f1fad8"/><rect x="463.98" y="78.28" width="6.92" height="2" fill="#fff9b7"/><rect x="470.9" y="78.28" width="6.92" height="2" fill="#e9f6e8"/><rect x="477.83" y="78.28" width="6.92" height="2" fill="#fafdc8"/><rect x="484.75" y="78.28" width="6.92" height="2" fill="#ecf8e3"/><rect x="491.68" y="78.28" width="6.92" height="2" fill="#eef8de"/><rect x="360.1" y="80.27" width="6.92" height="2" fill="#fed387"/><rect x="367.03" y="80.27" width="6.92" height="2" fill="#fee395"/><rect x="373.95" y="80.27" width="6.92" height="2" fill="#feeca2"/><rect x="380.88" y="80.27" width="6.92" height="2" fill="#fdba77"/><rect x="387.8" y="80.27" width="6.92" height="2" fill="#fa8856"/><rect x="394.73" y="80.27" width="6.92" height="2" fill="#f98454"/><rect x="401.65" y="80.27" width="6.92" height="2" fill="#feeca3"/><rect x="408.58" y="80.27" width="6.92" height="2" fill="#fee89c"/><rect x="415.5" y="80.27" width="6.92" height="2" fill="#fffab8"/><rect x="422.43" y="80.27" width="6.92" height="2" fill="#f7fccd"/><rect x="429.35" y="80.27" width="6.92" height="2" fill="#f1f9d9"/><rect x="436.28" y="80.27" width="6.92" height="2" fill="#fffab7"/><rect x="443.2" y="80.27" width="6.92" height="2" fill="#fff2ac"/><rect x="450.12" y="80.27" width="6.92" height="2" fill="#fff5b0"/><rect x="457.05" y="80.27" width="6.92" height="2" fill="#f5fbd1"/><rect x="463.98" y="80.27" width="6.92" height="2" fill="#fffcba"/><rect x="470.9" y="80.27" width="6.92" height="2" fill="#e8f6ea"/><rect x="477.83" y="80.27" width="6.92" height="2" fill="#f6fccf"/><rect x="484.75" y="80.27" width="6.92" height="2" fill="#eff9dc"/><rect x="491.68" y="80.27" width="6.92" height="2" fill="#e5f5ef"/><rect x="360.1" y="82.27" width="6.92" height="2" fill="#fee496"/><rect x="367.03" y="82.27" width="6.92" height="2" fill="#fc8d59"/><rect x="373.95" y="82.27" width="6.92" height="2" fill="#feeca2"/><rect x="380.88" y="82.27" width="6.92" height="2" fill="#fee99e"/><rect x="387.8" y="82.27" width="6.92" height="2" fill="#fece84"/><rect x="394.73" y="82.27" width="6.92" height="2" fill="#fece84"/><rect x="401.65" y="82.27" width="6.92" height="2" fill="#feeba1"/><rect x="408.58" y="82.27" width="6.92" height="2" fill="#fee699"/><rect x="415.5" y="82.27" width="6.92" height="2" fill="#fff2ab"/><rect x="422.43" y="82.27" width="6.92" height="2" fill="#f9fdca"/><rect x="429.35" y="82.27" width="6.92" height="2" fill="#eaf7e6"/><rect x="436.28" y="82.27" width="6.92" height="2" fill="#fffcba"/><rect x="443.2" y="82.27" width="6.92" height="2" fill="#fff4ae"/><rect x="450.12" y="82.27" width="6.92" height="2" fill="#ffffbf"/><rect x="457.05" y="82.27" width="6.92" height="2" fill="#5a89bf"/><rect x="463.98" y="82.27" width="6.92" height="2" fill="#fffab8"/><rect x="470.9" y="82.27" width="6.92" height="2" fill="#f1f9da"/><rect x="477.83" y="82.27" width="6.92" height="2" fill="#fbfdc6"/><rect x="484.75" y="82.27" width="6.92" height="2" fill="#c9e4f0"/><rect x="491.68" y="82.27" width="6.92" height="2" fill="#f7fcce"/><rect x="360.1" y="84.27" width="6.92" height="2" fill="#fff4af"/><rect x="367.03" y="84.27" width="6.92" height="2" fill="#fdad6e"/><rect x="373.95" y="84.27" width="6.92" height="2" fill="#fffab8"/><rect x="380.88" y="84.27" width="6.92" height="2" fill="#fff4ae"/><rect x="387.8" y="84.27" width="6.92" height="2" fill="#fed98b"/><rect x="394.73" y="84.27" width="6.92" height="2" fill="#fee79b"/><rect x="401.65" y="84.27" width="6.92" height="2" fill="#fff7b3"/><rect x="408.58" y="84.27" width="6.92" height="2" fill="#feefa7"/><rect x="415.5" y="84.27" width="6.92" height="2" fill="#fff7b4"/><rect x="422.43" y="84.27" width="6.92" height="2" fill="#ebf7e3"/><rect x="429.35" y="84.27" width="6.92" height="2" fill="#fdbd79"/><rect x="436.28" y="84.27" width="6.92" height="2" fill="#fdaf6f"/><rect x="443.2" y="84.27" width="6.92" height="2" fill="#fdba77"/><rect x="450.12" y="84.27" width="6.92" height="2" fill="#ebf7e5"/><rect x="457.05" y="84.27" width="6.92" height="2" fill="#d2eaf3"/><rect x="463.98" y="84.27" width="6.92" height="2" fill="#fefec1"/><rect x="470.9" y="84.27" width="6.92" height="2" fill="#b8d9e9"/><rect x="477.83" y="84.27" width="6.92" height="2" fill="#e6f5ed"/><rect x="484.75" y="84.27" width="6.92" height="2" fill="#b9daea"/><rect x="491.68" y="84.27" width="6.92" height="2" fill="#e3f4f3"/><rect x="360.1" y="86.27" width="6.92" height="2" fill="#fee699"/><rect x="367.03" y="86.27" width="6.92" height="2" fill="#fdbf7a"/><rect x="373.95" y="86.27" width="6.92" height="2" fill="#f8fccb"/><rect x="380.88" y="86.27" width="6.92" height="2" fill="#feeda4"/><rect x="387.8" y="86.27" width="6.92" height="2" fill="#fed085"/><rect x="394.73" y="86.27" width="6.92" height="2" fill="#fecc83"/><rect x="401.65" y="86.27" width="6.92" height="2" fill="#fff1aa"/><rect x="408.58" y="86.27" width="6.92" height="2" fill="#fff1aa"/><rect x="415.5" y="86.27" width="6.92" height="2" fill="#fff6b1"/><rect x="422.43" y="86.27" width="6.92" height="2" fill="#f0f9db"/><rect x="429.35" y="86.27" width="6.92" height="2" fill="#fdb473"/><rect x="436.28" y="86.27" width="6.92" height="2" fill="#fdb976"/><rect x="443.2" y="86.27" width="6.92" height="2" fill="#fdc27c"/><rect x="450.12" y="86.27" width="6.92" height="2" fill="#eaf7e6"/><rect x="457.05" y="86.27" width="6.92" height="2" fill="#e2f4f4"/><rect x="463.98" y="86.27" width="6.92" height="2" fill="#fcfec4"/><rect x="470.9" y="86.27" width="6.92" height="2" fill="#c7e2ef"/><rect x="477.83" y="86.27" width="6.92" height="2" fill="#ecf8e2"/><rect x="484.75" y="86.27" width="6.92" height="2" fill="#bbdaea"/><rect x="491.68" y="86.27" width="6.92" height="2" fill="#b1d4e7"/><rect x="360.1" y="88.27" width="6.92" height="2" fill="#fedf8f"/><rect x="367.03" y="88.27" width="6.92" height="2" fill="#feeaa0"/><rect x="373.95" y="88.27" width="6.92" height="2" fill="#fff5b0"/><rect x="380.88" y="88.27" width="6.92" height="2" fill="#fee191"/><rect x="387.8" y="88.27" width="6.92" height="2" fill="#fede8f"/><rect x="394.73" y="88.27" width="6.92" height="2" fill="#fdba77"/><rect x="401.65" y="88.27" width="6.92" height="2" fill="#fee394"/><rect x="408.58" y="88.27" width="6.92" height="2" fill="#fff1aa"/><rect x="415.5" y="88.27" width="6.92" height="2" fill="#fff5af"/><rect x="422.43" y="88.27" width="6.92" height="2" fill="#f1fad8"/><rect x="429.35" y="88.27" width="6.92" height="2" fill="#f3fad4"/><rect x="436.28" y="88.27" width="6.92" height="2" fill="#f8fccc"/><rect x="443.2" y="88.27" width="6.92" height="2" fill="#fff2ac"/><rect x="450.12" y="88.27" width="6.92" height="2" fill="#f3fad5"/><rect x="457.05" y="88.27" width="6.92" height="2" fill="#eaf7e5"/><rect x="463.98" y="88.27" width="6.92" height="2" fill="#d7edf5"/><rect x="470.9" y="88.27" width="6.92" height="2" fill="#b0d4e6"/><rect x="477.83" y="88.27" width="6.92" height="2" fill="#fafdc8"/><rect x="484.75" y="88.27" width="6.92" height="2" fill="#e0f3f7"/><rect x="491.68" y="88.27" width="6.92" height="2" fill="#bddceb"/><rect x="360.1" y="90.27" width="6.92" height="2" fill="#fee191"/><rect x="367.03" y="90.27" width="6.92" height="2" fill="#fedf8f"/><rect x="373.95" y="90.27" width="6.92" height="2" fill="#feeea5"/><rect x="380.88" y="90.27" width="6.92" height="2" fill="#feefa6"/><rect x="387.8" y="90.27" width="6.92" height="2" fill="#fdc77f"/><rect x="394.73" y="90.27" width="6.92" height="2" fill="#fc9f65"/><rect x="401.65" y="90.27" width="6.92" height="2" fill="#fff2ac"/><rect x="408.58" y="90.27" width="6.92" height="2" fill="#fff1aa"/><rect x="415.5" y="90.27" width="6.92" height="2" fill="#fffdbc"/><rect x="422.43" y="90.27" width="6.92" height="2" fill="#ecf8e1"/><rect x="429.35" y="90.27" width="6.92" height="2" fill="#f2fad6"/><rect x="436.28" y="90.27" width="6.92" height="2" fill="#fff3ad"/><rect x="443.2" y="90.27" width="6.92" height="2" fill="#feeda4"/><rect x="450.12" y="90.27" width="6.92" height="2" fill="#fffbb9"/><rect x="457.05" y="90.27" width="6.92" height="2" fill="#fffab7"/><rect x="463.98" y="90.27" width="6.92" height="2" fill="#e1f3f6"/><rect x="470.9" y="90.27" width="6.92" height="2" fill="#dbf0f6"/><rect x="477.83" y="90.27" width="6.92" height="2" fill="#fcfec5"/><rect x="484.75" y="90.27" width="6.92" height="2" fill="#e6f5ed"/><rect x="491.68" y="90.27" width="6.92" height="2" fill="#e0f3f8"/><rect x="360.1" y="92.27" width="6.92" height="2" fill="#fee699"/><rect x="367.03" y="92.27" width="6.92" height="2" fill="#fee99e"/><rect x="373.95" y="92.27" width="6.92" height="2" fill="#fbfdc7"/><rect x="380.88" y="92.27" width="6.92" height="2" fill="#feeda3"/><rect x="387.8" y="92.27" width="6.92" height="2" fill="#fee292"/><rect x="394.73" y="92.27" width="6.92" height="2" fill="#fdcb82"/><rect x="401.65" y="92.27" width="6.92" height="2" fill="#fff7b3"/><rect x="408.58" y="92.27" width="6.92" height="2" fill="#fdbd79"/><rect x="415.5" y="92.27" width="6.92" height="2" fill="#f0f9da"/><rect x="422.43" y="92.27" width="6.92" height="2" fill="#ebf7e4"/><rect x="429.35" y="92.27" width="6.92" height="2" fill="#e2f4f5"/><rect x="436.28" y="92.27" width="6.92" height="2" fill="#e3f4f2"/><rect x="443.2" y="92.27" width="6.92" height="2" fill="#f9fdca"/><rect x="450.12" y="92.27" width="6.92" height="2" fill="#f2fad7"/><rect x="457.05" y="92.27" width="6.92" height="2" fill="#eaf7e6"/><rect x="463.98" y="92.27" width="6.92" height="2" fill="#b0d4e6"/><rect x="470.9" y="92.27" width="6.92" height="2" fill="#b2d5e7"/><rect x="477.83" y="92.27" width="6.92" height="2" fill="#e4f5f0"/><rect x="484.75" y="92.27" width="6.92" height="2" fill="#92c0db"/><rect x="491.68" y="92.27" width="6.92" height="2" fill="#c0deec"/><rect x="360.1" y="94.27" width="6.92" height="2" fill="#fee395"/><rect x="367.03" y="94.27" width="6.92" height="2" fill="#fff2ab"/><rect x="373.95" y="94.27" width="6.92" height="2" fill="#f8fccd"/><rect x="380.88" y="94.27" width="6.92" height="2" fill="#fee99d"/><rect x="387.8" y="94.27" width="6.92" height="2" fill="#fc9b62"/><rect x="394.73" y="94.27" width="6.92" height="2" fill="#fc8f5a"/><rect x="401.65" y="94.27" width="6.92" height="2" fill="#fda468"/><rect x="408.58" y="94.27" width="6.92" height="2" fill="#fdc07b"/><rect x="415.5" y="94.27" width="6.92" height="2" fill="#fcfec4"/><rect x="422.43" y="94.27" width="6.92" height="2" fill="#f6fccf"/><rect x="429.35" y="94.27" width="6.92" height="2" fill="#def2f7"/><rect x="436.28" y="94.27" width="6.92" height="2" fill="#f1f9d9"/><rect x="443.2" y="94.27" width="6.92" height="2" fill="#f9fdca"/><rect x="450.12" y="94.27" width="6.92" height="2" fill="#f4fbd4"/><rect x="457.05" y="94.27" width="6.92" height="2" fill="#f0f9da"/><rect x="463.98" y="94.27" width="6.92" height="2" fill="#b8d9e9"/><rect x="470.9" y="94.27" width="6.92" height="2" fill="#e6f5ec"/><rect x="477.83" y="94.27" width="6.92" height="2" fill="#e3f4f2"/><rect x="484.75" y="94.27" width="6.92" height="2" fill="#beddeb"/><rect x="491.68" y="94.27" width="6.92" height="2" fill="#d1e9f2"/><rect x="360.1" y="96.26" width="6.92" height="2" fill="#fee89c"/><rect x="367.03" y="96.26" width="6.92" height="2" fill="#fff2ab"/><rect x="373.95" y="96.26" width="6.92" height="2" fill="#feeba1"/><rect x="380.88" y="96.26" width="6.92" height="2" fill="#fed488"/><rect x="387.8" y="96.26" width="6.92" height="2" fill="#fca166"/><rect x="394.73" y="96.26" width="6.92" height="2" fill="#fc945d"/><rect x="401.65" y="96.26" width="6.92" height="2" fill="#fca166"/><rect x="408.58" y="96.26" width="6.92" height="2" fill="#fdaa6c"/><rect x="415.5" y="96.26" width="6.92" height="2" fill="#fff4af"/><rect x="422.43" y="96.26" width="6.92" height="2" fill="#d7edf5"/><rect x="429.35" y="96.26" width="6.92" height="2" fill="#f9fdca"/><rect x="436.28" y="96.26" width="6.92" height="2" fill="#feffc1"/><rect x="443.2" y="96.26" width="6.92" height="2" fill="#fecb82"/><rect x="450.12" y="96.26" width="6.92" height="2" fill="#fee99e"/><rect x="457.05" y="96.26" width="6.92" height="2" fill="#fffdbc"/><rect x="463.98" y="96.26" width="6.92" height="2" fill="#eaf7e5"/><rect x="470.9" y="96.26" width="6.92" height="2" fill="#bbdbea"/><rect x="477.83" y="96.26" width="6.92" height="2" fill="#fffebe"/><rect x="484.75" y="96.26" width="6.92" height="2" fill="#e5f5ee"/><rect x="491.68" y="96.26" width="6.92" height="2" fill="#ecf8e3"/><rect x="360.1" y="98.26" width="6.92" height="2" fill="#fed78a"/><rect x="367.03" y="98.26" width="6.92" height="2" fill="#fee395"/><rect x="373.95" y="98.26" width="6.92" height="2" fill="#fff6b1"/><rect x="380.88" y="98.26" width="6.92" height="2" fill="#fee293"/><rect x="387.8" y="98.26" width="6.92" height="2" fill="#fc9a62"/><rect x="394.73" y="98.26" width="6.92" height="2" fill="#f98655"/><rect x="401.65" y="98.26" width="6.92" height="2" fill="#fdbd79"/><rect x="408.58" y="98.26" width="6.92" height="2" fill="#fda96b"/><rect x="415.5" y="98.26" width="6.92" height="2" fill="#fff5b0"/><rect x="422.43" y="98.26" width="6.92" height="2" fill="#f4fbd2"/><rect x="429.35" y="98.26" width="6.92" height="2" fill="#edf8e1"/><rect x="436.28" y="98.26" width="6.92" height="2" fill="#f5fbd1"/><rect x="443.2" y="98.26" width="6.92" height="2" fill="#fed78a"/><rect x="450.12" y="98.26" width="6.92" height="2" fill="#fcfec5"/><rect x="457.05" y="98.26" width="6.92" height="2" fill="#d8eef5"/><rect x="463.98" y="98.26" width="6.92" height="2" fill="#d8eef5"/><rect x="470.9" y="98.26" width="6.92" height="2" fill="#b3d5e7"/><rect x="477.83" y="98.26" width="6.92" height="2" fill="#f3fad5"/><rect x="484.75" y="98.26" width="6.92" height="2" fill="#c4e1ee"/><rect x="491.68" y="98.26" width="6.92" height="2" fill="#daeff6"/><rect x="360.1" y="100.26" width="6.92" height="2" fill="#fff0a8"/><rect x="367.03" y="100.26" width="6.92" height="2" fill="#feeaa0"/><rect x="373.95" y="100.26" width="6.92" height="2" fill="#fff3ad"/><rect x="380.88" y="100.26" width="6.92" height="2" fill="#fff2ac"/><rect x="387.8" y="100.26" width="6.92" height="2" fill="#fc9b63"/><rect x="394.73" y="100.26" width="6.92" height="2" fill="#fc8c58"/><rect x="401.65" y="100.26" width="6.92" height="2" fill="#feeda4"/><rect x="408.58" y="100.26" width="6.92" height="2" fill="#fff5b0"/><rect x="415.5" y="100.26" width="6.92" height="2" fill="#fff5b1"/><rect x="422.43" y="100.26" width="6.92" height="2" fill="#e4f4f1"/><rect x="429.35" y="100.26" width="6.92" height="2" fill="#e9f7e7"/><rect x="436.28" y="100.26" width="6.92" height="2" fill="#dbeff6"/><rect x="443.2" y="100.26" width="6.92" height="2" fill="#fdc47e"/><rect x="450.12" y="100.26" width="6.92" height="2" fill="#e5f5f0"/><rect x="457.05" y="100.26" width="6.92" height="2" fill="#ecf7e3"/><rect x="463.98" y="100.26" width="6.92" height="2" fill="#a7cde3"/><rect x="470.9" y="100.26" width="6.92" height="2" fill="#6d9cc9"/><rect x="477.83" y="100.26" width="6.92" height="2" fill="#cee7f1"/><rect x="484.75" y="100.26" width="6.92" height="2" fill="#a4cbe2"/><rect x="491.68" y="100.26" width="6.92" height="2" fill="#c5e1ee"/><rect x="360.1" y="102.26" width="6.92" height="2" fill="#fff2ab"/><rect x="367.03" y="102.26" width="6.92" height="2" fill="#fee598"/><rect x="373.95" y="102.26" width="6.92" height="2" fill="#ffffbf"/><rect x="380.88" y="102.26" width="6.92" height="2" fill="#feea9f"/><rect x="387.8" y="102.26" width="6.92" height="2" fill="#fc9a62"/><rect x="394.73" y="102.26" width="6.92" height="2" fill="#fc8f5a"/><rect x="401.65" y="102.26" width="6.92" height="2" fill="#fff5af"/><rect x="408.58" y="102.26" width="6.92" height="2" fill="#feeda4"/><rect x="415.5" y="102.26" width="6.92" height="2" fill="#fffcbb"/><rect x="422.43" y="102.26" width="6.92" height="2" fill="#f4fbd3"/><rect x="429.35" y="102.26" width="6.92" height="2" fill="#edf8e0"/><rect x="436.28" y="102.26" width="6.92" height="2" fill="#eaf7e5"/><rect x="443.2" y="102.26" width="6.92" height="2" fill="#fdc77f"/><rect x="450.12" y="102.26" width="6.92" height="2" fill="#fdfec2"/><rect x="457.05" y="102.26" width="6.92" height="2" fill="#e7f6eb"/><rect x="463.98" y="102.26" width="6.92" height="2" fill="#e3f4f3"/><rect x="470.9" y="102.26" width="6.92" height="2" fill="#def1f7"/><rect x="477.83" y="102.26" width="6.92" height="2" fill="#ecf8e2"/><rect x="484.75" y="102.26" width="6.92" height="2" fill="#b8d8e9"/><rect x="491.68" y="102.26" width="6.92" height="2" fill="#def2f7"/><rect x="360.1" y="104.26" width="6.92" height="2" fill="#fee79b"/><rect x="367.03" y="104.26" width="6.92" height="2" fill="#feea9f"/><rect x="373.95" y="104.26" width="6.92" height="2" fill="#fff0a8"/><rect x="380.88" y="104.26" width="6.92" height="2" fill="#fff1a9"/><rect x="387.8" y="104.26" width="6.92" height="2" fill="#fb8a57"/><rect x="394.73" y="104.26" width="6.92" height="2" fill="#fb8b58"/><rect x="401.65" y="104.26" width="6.92" height="2" fill="#fff3ad"/><rect x="408.58" y="104.26" width="6.92" height="2" fill="#feeba1"/><rect x="415.5" y="104.26" width="6.92" height="2" fill="#fff2ab"/><rect x="422.43" y="104.26" width="6.92" height="2" fill="#f2fad7"/><rect x="429.35" y="104.26" width="6.92" height="2" fill="#e8f6e9"/><rect x="436.28" y="104.26" width="6.92" height="2" fill="#fff7b3"/><rect x="443.2" y="104.26" width="6.92" height="2" fill="#fed98c"/><rect x="450.12" y="104.26" width="6.92" height="2" fill="#fdfec2"/><rect x="457.05" y="104.26" width="6.92" height="2" fill="#ecf8e1"/><rect x="463.98" y="104.26" width="6.92" height="2" fill="#f7fcce"/><rect x="470.9" y="104.26" width="6.92" height="2" fill="#e8f6e9"/><rect x="477.83" y="104.26" width="6.92" height="2" fill="#fff5b0"/><rect x="484.75" y="104.26" width="6.92" height="2" fill="#cae5f0"/><rect x="491.68" y="104.26" width="6.92" height="2" fill="#cbe5f0"/><rect x="360.1" y="106.26" width="6.92" height="2" fill="#fed085"/><rect x="367.03" y="106.26" width="6.92" height="2" fill="#fed589"/><rect x="373.95" y="106.26" width="6.92" height="2" fill="#fffebd"/><rect x="380.88" y="106.26" width="6.92" height="2" fill="#fee091"/><rect x="387.8" y="106.26" width="6.92" height="2" fill="#fc9c63"/><rect x="394.73" y="106.26" width="6.92" height="2" fill="#f1724b"/><rect x="401.65" y="106.26" width="6.92" height="2" fill="#feea9f"/><rect x="408.58" y="106.26" width="6.92" height="2" fill="#fff8b4"/><rect x="415.5" y="106.26" width="6.92" height="2" fill="#fffbb8"/><rect x="422.43" y="106.26" width="6.92" height="2" fill="#ecf8e2"/><rect x="429.35" y="106.26" width="6.92" height="2" fill="#ecf8e2"/><rect x="436.28" y="106.26" width="6.92" height="2" fill="#ffffc0"/><rect x="443.2" y="106.26" width="6.92" height="2" fill="#fdc57e"/><rect x="450.12" y="106.26" width="6.92" height="2" fill="#fff3ad"/><rect x="457.05" y="106.26" width="6.92" height="2" fill="#eef8de"/><rect x="463.98" y="106.26" width="6.92" height="2" fill="#e8f6e9"/><rect x="470.9" y="106.26" width="6.92" height="2" fill="#ecf8e1"/><rect x="477.83" y="106.26" width="6.92" height="2" fill="#fdfec3"/><rect x="484.75" y="106.26" width="6.92" height="2" fill="#e8f6ea"/><rect x="491.68" y="106.26" width="6.92" height="2" fill="#eaf7e6"/><rect x="360.1" y="108.26" width="6.92" height="2" fill="#fee090"/><rect x="367.03" y="108.26" width="6.92" height="2" fill="#fee597"/><rect x="373.95" y="108.26" width="6.92" height="2" fill="#fee79b"/><rect x="380.88" y="108.26" width="6.92" height="2" fill="#fdb171"/><rect x="387.8" y="108.26" width="6.92" height="2" fill="#fc9f65"/><rect x="394.73" y="108.26" width="6.92" height="2" fill="#f4794e"/><rect x="401.65" y="108.26" width="6.92" height="2" fill="#feeea5"/><rect x="408.58" y="108.26" width="6.92" height="2" fill="#fee79b"/><rect x="415.5" y="108.26" width="6.92" height="2" fill="#feea9f"/><rect x="422.43" y="108.26" width="6.92" height="2" fill="#fdfec3"/><rect x="429.35" y="108.26" width="6.92" height="2" fill="#e7f6eb"/><rect x="436.28" y="108.26" width="6.92" height="2" fill="#fffdbc"/><rect x="443.2" y="108.26" width="6.92" height="2" fill="#fed78a"/><rect x="450.12" y="108.26" width="6.92" height="2" fill="#feeca3"/><rect x="457.05" y="108.26" width="6.92" height="2" fill="#f2fad7"/><rect x="463.98" y="108.26" width="6.92" height="2" fill="#f2fad7"/><rect x="470.9" y="108.26" width="6.92" height="2" fill="#e6f5ed"/><rect x="477.83" y="108.26" width="6.92" height="2" fill="#fff7b2"/><rect x="484.75" y="108.26" width="6.92" height="2" fill="#e3f4f2"/><rect x="491.68" y="108.26" width="6.92" height="2" fill="#f5fbd1"/><rect x="360.1" y="110.26" width="6.92" height="2" fill="#feeda4"/><rect x="367.03" y="110.26" width="6.92" height="2" fill="#fee090"/><rect x="373.95" y="110.26" width="6.92" height="2" fill="#fee79a"/><rect x="380.88" y="110.26" width="6.92" height="2" fill="#fdc77f"/><rect x="387.8" y="110.26" width="6.92" height="2" fill="#fa8756"/><rect x="394.73" y="110.26" width="6.92" height="2" fill="#fa8756"/><rect x="401.65" y="110.26" width="6.92" height="2" fill="#fee191"/><rect x="408.58" y="110.26" width="6.92" height="2" fill="#fed287"/><rect x="415.5" y="110.26" width="6.92" height="2" fill="#fff2ab"/><rect x="422.43" y="110.26" width="6.92" height="2" fill="#fff8b4"/><rect x="429.35" y="110.26" width="6.92" height="2" fill="#fffdbc"/><rect x="436.28" y="110.26" width="6.92" height="2" fill="#fffbb9"/><rect x="443.2" y="110.26" width="6.92" height="2" fill="#fee091"/><rect x="450.12" y="110.26" width="6.92" height="2" fill="#fff2ac"/><rect x="457.05" y="110.26" width="6.92" height="2" fill="#feffc1"/><rect x="463.98" y="110.26" width="6.92" height="2" fill="#f1f9d9"/><rect x="470.9" y="110.26" width="6.92" height="2" fill="#f3fad5"/><rect x="477.83" y="110.26" width="6.92" height="2" fill="#fff8b5"/><rect x="484.75" y="110.26" width="6.92" height="2" fill="#fbfdc6"/><rect x="491.68" y="110.26" width="6.92" height="2" fill="#fbfec6"/><rect x="360.1" y="112.25" width="6.92" height="2" fill="#fff2ab"/><rect x="367.03" y="112.25" width="6.92" height="2" fill="#fee69a"/><rect x="373.95" y="112.25" width="6.92" height="2" fill="#fdaa6c"/><rect x="380.88" y="112.25" width="6.92" height="2" fill="#fda86b"/><rect x="387.8" y="112.25" width="6.92" height="2" fill="#fdb674"/><rect x="394.73" y="112.25" width="6.92" height="2" fill="#fecd84"/><rect x="401.65" y="112.25" width="6.92" height="2" fill="#fee192"/><rect x="408.58" y="112.25" width="6.92" height="2" fill="#fdcb82"/><rect x="415.5" y="112.25" width="6.92" height="2" fill="#feeea5"/><rect x="422.43" y="112.25" width="6.92" height="2" fill="#ecf7e3"/><rect x="429.35" y="112.25" width="6.92" height="2" fill="#e7f6ea"/><rect x="436.28" y="112.25" width="6.92" height="2" fill="#eff9dc"/><rect x="443.2" y="112.25" width="6.92" height="2" fill="#fed78a"/><rect x="450.12" y="112.25" width="6.92" height="2" fill="#f1fad9"/><rect x="457.05" y="112.25" width="6.92" height="2" fill="#f1fad9"/><rect x="463.98" y="112.25" width="6.92" height="2" fill="#b4d6e8"/><rect x="470.9" y="112.25" width="6.92" height="2" fill="#d4ebf4"/><rect x="477.83" y="112.25" width="6.92" height="2" fill="#f2fad7"/><rect x="484.75" y="112.25" width="6.92" height="2" fill="#b7d8e9"/><rect x="491.68" y="112.25" width="6.92" height="2" fill="#e3f4f2"/><rect x="360.1" y="114.25" width="6.92" height="2" fill="#fee293"/><rect x="367.03" y="114.25" width="6.92" height="2" fill="#fee89c"/><rect x="373.95" y="114.25" width="6.92" height="2" fill="#fc905b"/><rect x="380.88" y="114.25" width="6.92" height="2" fill="#fdae6f"/><rect x="387.8" y="114.25" width="6.92" height="2" fill="#fdc981"/><rect x="394.73" y="114.25" width="6.92" height="2" fill="#fda569"/><rect x="401.65" y="114.25" width="6.92" height="2" fill="#feefa7"/><rect x="408.58" y="114.25" width="6.92" height="2" fill="#fee69a"/><rect x="415.5" y="114.25" width="6.92" height="2" fill="#fff0a9"/><rect x="422.43" y="114.25" width="6.92" height="2" fill="#e7f6ec"/><rect x="429.35" y="114.25" width="6.92" height="2" fill="#e0f3f8"/><rect x="436.28" y="114.25" width="6.92" height="2" fill="#eff9dd"/><rect x="443.2" y="114.25" width="6.92" height="2" fill="#fed186"/><rect x="450.12" y="114.25" width="6.92" height="2" fill="#ebf7e5"/><rect x="457.05" y="114.25" width="6.92" height="2" fill="#ecf8e2"/><rect x="463.98" y="114.25" width="6.92" height="2" fill="#badaea"/><rect x="470.9" y="114.25" width="6.92" height="2" fill="#d1e9f2"/><rect x="477.83" y="114.25" width="6.92" height="2" fill="#f6fcd0"/><rect x="484.75" y="114.25" width="6.92" height="2" fill="#cae4f0"/><rect x="491.68" y="114.25" width="6.92" height="2" fill="#c7e3ef"/><rect x="360.1" y="116.25" width="6.92" height="2" fill="#fee293"/><rect x="367.03" y="116.25" width="6.92" height="2" fill="#fff3ad"/><rect x="373.95" y="116.25" width="6.92" height="2" fill="#fc9e65"/><rect x="380.88" y="116.25" width="6.92" height="2" fill="#fdc47d"/><rect x="387.8" y="116.25" width="6.92" height="2" fill="#fdbb78"/><rect x="394.73" y="116.25" width="6.92" height="2" fill="#fc9b62"/><rect x="401.65" y="116.25" width="6.92" height="2" fill="#fff9b7"/><rect x="408.58" y="116.25" width="6.92" height="2" fill="#fee99d"/><rect x="415.5" y="116.25" width="6.92" height="2" fill="#feeba0"/><rect x="422.43" y="116.25" width="6.92" height="2" fill="#f6fbd0"/><rect x="429.35" y="116.25" width="6.92" height="2" fill="#f3fad5"/><rect x="436.28" y="116.25" width="6.92" height="2" fill="#fcfec4"/><rect x="443.2" y="116.25" width="6.92" height="2" fill="#fee191"/><rect x="450.12" y="116.25" width="6.92" height="2" fill="#f0f9da"/><rect x="457.05" y="116.25" width="6.92" height="2" fill="#e4f4f1"/><rect x="463.98" y="116.25" width="6.92" height="2" fill="#d9eef5"/><rect x="470.9" y="116.25" width="6.92" height="2" fill="#e0f3f8"/><rect x="477.83" y="116.25" width="6.92" height="2" fill="#eff9dd"/><rect x="484.75" y="116.25" width="6.92" height="2" fill="#eaf7e5"/><rect x="491.68" y="116.25" width="6.92" height="2" fill="#aed2e6"/><rect x="360.1" y="118.25" width="6.92" height="2" fill="#fff2ac"/><rect x="367.03" y="118.25" width="6.92" height="2" fill="#fedf8f"/><rect x="373.95" y="118.25" width="6.92" height="2" fill="#fc9e64"/><rect x="380.88" y="118.25" width="6.92" height="2" fill="#fdc27c"/><rect x="387.8" y="118.25" width="6.92" height="2" fill="#feda8c"/><rect x="394.73" y="118.25" width="6.92" height="2" fill="#fc9b63"/><rect x="401.65" y="118.25" width="6.92" height="2" fill="#fbfdc7"/><rect x="408.58" y="118.25" width="6.92" height="2" fill="#fff5b0"/><rect x="415.5" y="118.25" width="6.92" height="2" fill="#feeca2"/><rect x="422.43" y="118.25" width="6.92" height="2" fill="#fbfdc7"/><rect x="429.35" y="118.25" width="6.92" height="2" fill="#f3fbd4"/><rect x="436.28" y="118.25" width="6.92" height="2" fill="#f1fad8"/><rect x="443.2" y="118.25" width="6.92" height="2" fill="#fedf90"/><rect x="450.12" y="118.25" width="6.92" height="2" fill="#e5f5ef"/><rect x="457.05" y="118.25" width="6.92" height="2" fill="#e8f6e9"/><rect x="463.98" y="118.25" width="6.92" height="2" fill="#d6edf4"/><rect x="470.9" y="118.25" width="6.92" height="2" fill="#ddf1f7"/><rect x="477.83" y="118.25" width="6.92" height="2" fill="#e6f6ec"/><rect x="484.75" y="118.25" width="6.92" height="2" fill="#cae4f0"/><rect x="491.68" y="118.25" width="6.92" height="2" fill="#e3f4f3"/><rect x="360.1" y="120.25" width="6.92" height="2" fill="#fecd83"/><rect x="367.03" y="120.25" width="6.92" height="2" fill="#fdc67e"/><rect x="373.95" y="120.25" width="6.92" height="2" fill="#fda96b"/><rect x="380.88" y="120.25" width="6.92" height="2" fill="#fff4af"/><rect x="387.8" y="120.25" width="6.92" height="2" fill="#fdc780"/><rect x="394.73" y="120.25" width="6.92" height="2" fill="#fc8c58"/><rect x="401.65" y="120.25" width="6.92" height="2" fill="#fff5b0"/><rect x="408.58" y="120.25" width="6.92" height="2" fill="#fff1aa"/><rect x="415.5" y="120.25" width="6.92" height="2" fill="#feeea6"/><rect x="422.43" y="120.25" width="6.92" height="2" fill="#ecf8e2"/><rect x="429.35" y="120.25" width="6.92" height="2" fill="#d4ebf4"/><rect x="436.28" y="120.25" width="6.92" height="2" fill="#dbf0f6"/><rect x="443.2" y="120.25" width="6.92" height="2" fill="#fed78a"/><rect x="450.12" y="120.25" width="6.92" height="2" fill="#fafdc8"/><rect x="457.05" y="120.25" width="6.92" height="2" fill="#eef9de"/><rect x="463.98" y="120.25" width="6.92" height="2" fill="#cde7f1"/><rect x="470.9" y="120.25" width="6.92" height="2" fill="#e7f6eb"/><rect x="477.83" y="120.25" width="6.92" height="2" fill="#f0f9da"/><rect x="484.75" y="120.25" width="6.92" height="2" fill="#c6e2ef"/><rect x="491.68" y="120.25" width="6.92" height="2" fill="#ecf8e2"/><rect x="360.1" y="122.25" width="6.92" height="2" fill="#fdc17c"/><rect x="367.03" y="122.25" width="6.92" height="2" fill="#fdc37d"/><rect x="373.95" y="122.25" width="6.92" height="2" fill="#fda669"/><rect x="380.88" y="122.25" width="6.92" height="2" fill="#fff1aa"/><rect x="387.8" y="122.25" width="6.92" height="2" fill="#fee699"/><rect x="394.73" y="122.25" width="6.92" height="2" fill="#fc935d"/><rect x="401.65" y="122.25" width="6.92" height="2" fill="#fff4ae"/><rect x="408.58" y="122.25" width="6.92" height="2" fill="#fee79b"/><rect x="415.5" y="122.25" width="6.92" height="2" fill="#fff2ac"/><rect x="422.43" y="122.25" width="6.92" height="2" fill="#fcfec4"/><rect x="429.35" y="122.25" width="6.92" height="2" fill="#f8fccb"/><rect x="436.28" y="122.25" width="6.92" height="2" fill="#e8f6e9"/><rect x="443.2" y="122.25" width="6.92" height="2" fill="#fee090"/><rect x="450.12" y="122.25" width="6.92" height="2" fill="#fffcba"/><rect x="457.05" y="122.25" width="6.92" height="2" fill="#feffc1"/><rect x="463.98" y="122.25" width="6.92" height="2" fill="#e5f5ee"/><rect x="470.9" y="122.25" width="6.92" height="2" fill="#e3f4f2"/><rect x="477.83" y="122.25" width="6.92" height="2" fill="#f5fbd1"/><rect x="484.75" y="122.25" width="6.92" height="2" fill="#c4e0ee"/><rect x="491.68" y="122.25" width="6.92" height="2" fill="#eaf7e6"/><rect x="360.1" y="124.25" width="6.92" height="2" fill="#fee293"/><rect x="367.03" y="124.25" width="6.92" height="2" fill="#fee395"/><rect x="373.95" y="124.25" width="6.92" height="2" fill="#fdaa6c"/><rect x="380.88" y="124.25" width="6.92" height="2" fill="#fee79a"/><rect x="387.8" y="124.25" width="6.92" height="2" fill="#fdae6f"/><rect x="394.73" y="124.25" width="6.92" height="2" fill="#fc9961"/><rect x="401.65" y="124.25" width="6.92" height="2" fill="#fee293"/><rect x="408.58" y="124.25" width="6.92" height="2" fill="#fee091"/><rect x="415.5" y="124.25" width="6.92" height="2" fill="#fee79a"/><rect x="422.43" y="124.25" width="6.92" height="2" fill="#eef9dd"/><rect x="429.35" y="124.25" width="6.92" height="2" fill="#f1fad9"/><rect x="436.28" y="124.25" width="6.92" height="2" fill="#fff7b2"/><rect x="443.2" y="124.25" width="6.92" height="2" fill="#fedf8f"/><rect x="450.12" y="124.25" width="6.92" height="2" fill="#fff6b2"/><rect x="457.05" y="124.25" width="6.92" height="2" fill="#f2fad6"/><rect x="463.98" y="124.25" width="6.92" height="2" fill="#e8f6e9"/><rect x="470.9" y="124.25" width="6.92" height="2" fill="#e4f5f0"/><rect x="477.83" y="124.25" width="6.92" height="2" fill="#f7fcce"/><rect x="484.75" y="124.25" width="6.92" height="2" fill="#c0deec"/><rect x="491.68" y="124.25" width="6.92" height="2" fill="#e9f7e7"/><rect x="360.1" y="126.25" width="6.92" height="2" fill="#fee395"/><rect x="367.03" y="126.25" width="6.92" height="2" fill="#feeda4"/><rect x="373.95" y="126.25" width="6.92" height="2" fill="#fda66a"/><rect x="380.88" y="126.25" width="6.92" height="2" fill="#fecc83"/><rect x="387.8" y="126.25" width="6.92" height="2" fill="#fdbb78"/><rect x="394.73" y="126.25" width="6.92" height="2" fill="#f57d50"/><rect x="401.65" y="126.25" width="6.92" height="2" fill="#feefa7"/><rect x="408.58" y="126.25" width="6.92" height="2" fill="#fee89c"/><rect x="415.5" y="126.25" width="6.92" height="2" fill="#fff1a9"/><rect x="422.43" y="126.25" width="6.92" height="2" fill="#ecf8e1"/><rect x="429.35" y="126.25" width="6.92" height="2" fill="#e5f5ef"/><rect x="436.28" y="126.25" width="6.92" height="2" fill="#eff9dc"/><rect x="443.2" y="126.25" width="6.92" height="2" fill="#fdfec3"/><rect x="450.12" y="126.25" width="6.92" height="2" fill="#ffffc0"/><rect x="457.05" y="126.25" width="6.92" height="2" fill="#f3fbd4"/><rect x="463.98" y="126.25" width="6.92" height="2" fill="#ddf1f7"/><rect x="470.9" y="126.25" width="6.92" height="2" fill="#e0f3f7"/><rect x="477.83" y="126.25" width="6.92" height="2" fill="#fdfec3"/><rect x="484.75" y="126.25" width="6.92" height="2" fill="#cfe8f2"/><rect x="491.68" y="126.25" width="6.92" height="2" fill="#f2fad8"/><rect x="360.1" y="128.25" width="6.92" height="2" fill="#fee395"/><rect x="367.03" y="128.25" width="6.92" height="2" fill="#feefa6"/><rect x="373.95" y="128.25" width="6.92" height="2" fill="#fff4af"/><rect x="380.88" y="128.25" width="6.92" height="2" fill="#feeea6"/><rect x="387.8" y="128.25" width="6.92" height="2" fill="#fdc981"/><rect x="394.73" y="128.25" width="6.92" height="2" fill="#fc965f"/><rect x="401.65" y="128.25" width="6.92" height="2" fill="#feea9f"/><rect x="408.58" y="128.25" width="6.92" height="2" fill="#feeaa0"/><rect x="415.5" y="128.25" width="6.92" height="2" fill="#fff5b0"/><rect x="422.43" y="128.25" width="6.92" height="2" fill="#e7f6eb"/><rect x="429.35" y="128.25" width="6.92" height="2" fill="#eff9dc"/><rect x="436.28" y="128.25" width="6.92" height="2" fill="#ecf8e1"/><rect x="443.2" y="128.25" width="6.92" height="2" fill="#fff9b6"/><rect x="450.12" y="128.25" width="6.92" height="2" fill="#fffbb8"/><rect x="457.05" y="128.25" width="6.92" height="2" fill="#def2f7"/><rect x="463.98" y="128.25" width="6.92" height="2" fill="#e3f4f2"/><rect x="470.9" y="128.25" width="6.92" height="2" fill="#c7e3ef"/><rect x="477.83" y="128.25" width="6.92" height="2" fill="#eff9dc"/><rect x="484.75" y="128.25" width="6.92" height="2" fill="#bfdeec"/><rect x="491.68" y="128.25" width="6.92" height="2" fill="#badaea"/><rect x="360.1" y="130.24" width="6.92" height="2" fill="#fee395"/><rect x="367.03" y="130.24" width="6.92" height="2" fill="#fee699"/><rect x="373.95" y="130.24" width="6.92" height="2" fill="#feeea5"/><rect x="380.88" y="130.24" width="6.92" height="2" fill="#fee69a"/><rect x="387.8" y="130.24" width="6.92" height="2" fill="#feeaa0"/><rect x="394.73" y="130.24" width="6.92" height="2" fill="#f67f51"/><rect x="401.65" y="130.24" width="6.92" height="2" fill="#fee293"/><rect x="408.58" y="130.24" width="6.92" height="2" fill="#feeba0"/><rect x="415.5" y="130.24" width="6.92" height="2" fill="#fee496"/><rect x="422.43" y="130.24" width="6.92" height="2" fill="#ebf7e4"/><rect x="429.35" y="130.24" width="6.92" height="2" fill="#e0f3f7"/><rect x="436.28" y="130.24" width="6.92" height="2" fill="#ecf8e2"/><rect x="443.2" y="130.24" width="6.92" height="2" fill="#fdaf70"/><rect x="450.12" y="130.24" width="6.92" height="2" fill="#fffdbd"/><rect x="457.05" y="130.24" width="6.92" height="2" fill="#e2f4f4"/><rect x="463.98" y="130.24" width="6.92" height="2" fill="#e3f4f2"/><rect x="470.9" y="130.24" width="6.92" height="2" fill="#c7e3ef"/><rect x="477.83" y="130.24" width="6.92" height="2" fill="#eff9dc"/><rect x="484.75" y="130.24" width="6.92" height="2" fill="#badaea"/><rect x="491.68" y="130.24" width="6.92" height="2" fill="#dff2f8"/><rect x="360.1" y="132.24" width="6.92" height="2" fill="#fee394"/><rect x="367.03" y="132.24" width="6.92" height="2" fill="#fee698"/><rect x="373.95" y="132.24" width="6.92" height="2" fill="#feeea5"/><rect x="380.88" y="132.24" width="6.92" height="2" fill="#fee699"/><rect x="387.8" y="132.24" width="6.92" height="2" fill="#fdba77"/><rect x="394.73" y="132.24" width="6.92" height="2" fill="#f67d50"/><rect x="401.65" y="132.24" width="6.92" height="2" fill="#fee699"/><rect x="408.58" y="132.24" width="6.92" height="2" fill="#fee699"/><rect x="415.5" y="132.24" width="6.92" height="2" fill="#fee79b"/><rect x="422.43" y="132.24" width="6.92" height="2" fill="#f8fccb"/><rect x="429.35" y="132.24" width="6.92" height="2" fill="#e7f6ec"/><rect x="436.28" y="132.24" width="6.92" height="2" fill="#f4fbd4"/><rect x="443.2" y="132.24" width="6.92" height="2" fill="#fdab6d"/><rect x="450.12" y="132.24" width="6.92" height="2" fill="#fdfec3"/><rect x="457.05" y="132.24" width="6.92" height="2" fill="#e9f6e8"/><rect x="463.98" y="132.24" width="6.92" height="2" fill="#eff9dd"/><rect x="470.9" y="132.24" width="6.92" height="2" fill="#e9f7e7"/><rect x="477.83" y="132.24" width="6.92" height="2" fill="#e8f6ea"/><rect x="484.75" y="132.24" width="6.92" height="2" fill="#eff9dc"/><rect x="491.68" y="132.24" width="6.92" height="2" fill="#edf8e0"/><rect x="360.1" y="134.24" width="6.92" height="2" fill="#fee496"/><rect x="367.03" y="134.24" width="6.92" height="2" fill="#fece84"/><rect x="373.95" y="134.24" width="6.92" height="2" fill="#fee89c"/><rect x="380.88" y="134.24" width="6.92" height="2" fill="#fed488"/><rect x="387.8" y="134.24" width="6.92" height="2" fill="#fdb070"/><rect x="394.73" y="134.24" width="6.92" height="2" fill="#fa8856"/><rect x="401.65" y="134.24" width="6.92" height="2" fill="#fed589"/><rect x="408.58" y="134.24" width="6.92" height="2" fill="#fee89c"/><rect x="415.5" y="134.24" width="6.92" height="2" fill="#fff1aa"/><rect x="422.43" y="134.24" width="6.92" height="2" fill="#feffc0"/><rect x="429.35" y="134.24" width="6.92" height="2" fill="#fffebd"/><rect x="436.28" y="134.24" width="6.92" height="2" fill="#fff2ab"/><rect x="443.2" y="134.24" width="6.92" height="2" fill="#fdb473"/><rect x="450.12" y="134.24" width="6.92" height="2" fill="#fff0a9"/><rect x="457.05" y="134.24" width="6.92" height="2" fill="#fffcba"/><rect x="463.98" y="134.24" width="6.92" height="2" fill="#f3fad5"/><rect x="470.9" y="134.24" width="6.92" height="2" fill="#f8fccc"/><rect x="477.83" y="134.24" width="6.92" height="2" fill="#fffab7"/><rect x="484.75" y="134.24" width="6.92" height="2" fill="#e9f6e8"/><rect x="491.68" y="134.24" width="6.92" height="2" fill="#eef8df"/><rect x="360.1" y="136.24" width="6.92" height="2" fill="#fee89c"/><rect x="367.03" y="136.24" width="6.92" height="2" fill="#fed78a"/><rect x="373.95" y="136.24" width="6.92" height="2" fill="#feeba1"/><rect x="380.88" y="136.24" width="6.92" height="2" fill="#fed98b"/><rect x="387.8" y="136.24" width="6.92" height="2" fill="#fdc37d"/><rect x="394.73" y="136.24" width="6.92" height="2" fill="#fca066"/><rect x="401.65" y="136.24" width="6.92" height="2" fill="#fed98b"/><rect x="408.58" y="136.24" width="6.92" height="2" fill="#fee99e"/><rect x="415.5" y="136.24" width="6.92" height="2" fill="#fff1aa"/><rect x="422.43" y="136.24" width="6.92" height="2" fill="#fbfec6"/><rect x="429.35" y="136.24" width="6.92" height="2" fill="#fffbb9"/><rect x="436.28" y="136.24" width="6.92" height="2" fill="#fff2ab"/><rect x="443.2" y="136.24" width="6.92" height="2" fill="#fdbf7a"/><rect x="450.12" y="136.24" width="6.92" height="2" fill="#fff0a9"/><rect x="457.05" y="136.24" width="6.92" height="2" fill="#fff6b1"/><rect x="463.98" y="136.24" width="6.92" height="2" fill="#fffbb9"/><rect x="470.9" y="136.24" width="6.92" height="2" fill="#f5fbd1"/><rect x="477.83" y="136.24" width="6.92" height="2" fill="#fff5b0"/><rect x="484.75" y="136.24" width="6.92" height="2" fill="#eaf7e6"/><rect x="491.68" y="136.24" width="6.92" height="2" fill="#fafdc9"/><rect x="360.1" y="138.24" width="6.92" height="2" fill="#fee79b"/><rect x="367.03" y="138.24" width="6.92" height="2" fill="#feeda3"/><rect x="373.95" y="138.24" width="6.92" height="2" fill="#fff3ad"/><rect x="380.88" y="138.24" width="6.92" height="2" fill="#fee294"/><rect x="387.8" y="138.24" width="6.92" height="2" fill="#fed78a"/><rect x="394.73" y="138.24" width="6.92" height="2" fill="#fdb574"/><rect x="401.65" y="138.24" width="6.92" height="2" fill="#fee495"/><rect x="408.58" y="138.24" width="6.92" height="2" fill="#feeea6"/><rect x="415.5" y="138.24" width="6.92" height="2" fill="#fffebd"/><rect x="422.43" y="138.24" width="6.92" height="2" fill="#fcfec5"/><rect x="429.35" y="138.24" width="6.92" height="2" fill="#f1f9d9"/><rect x="436.28" y="138.24" width="6.92" height="2" fill="#fffab8"/><rect x="443.2" y="138.24" width="6.92" height="2" fill="#fda86b"/><rect x="450.12" y="138.24" width="6.92" height="2" fill="#fdfec2"/><rect x="457.05" y="138.24" width="6.92" height="2" fill="#e2f4f4"/><rect x="463.98" y="138.24" width="6.92" height="2" fill="#d1e9f2"/><rect x="470.9" y="138.24" width="6.92" height="2" fill="#e4f4f1"/><rect x="477.83" y="138.24" width="6.92" height="2" fill="#e5f5ef"/><rect x="484.75" y="138.24" width="6.92" height="2" fill="#e6f5ed"/><rect x="491.68" y="138.24" width="6.92" height="2" fill="#f0f9db"/><rect x="360.1" y="140.24" width="6.92" height="2" fill="#fece84"/><rect x="367.03" y="140.24" width="6.92" height="2" fill="#fee191"/><rect x="373.95" y="140.24" width="6.92" height="2" fill="#fff1aa"/><rect x="380.88" y="140.24" width="6.92" height="2" fill="#fdb875"/><rect x="387.8" y="140.24" width="6.92" height="2" fill="#fed387"/><rect x="394.73" y="140.24" width="6.92" height="2" fill="#fdbb77"/><rect x="401.65" y="140.24" width="6.92" height="2" fill="#fee89c"/><rect x="408.58" y="140.24" width="6.92" height="2" fill="#feeba1"/><rect x="415.5" y="140.24" width="6.92" height="2" fill="#fffab8"/><rect x="422.43" y="140.24" width="6.92" height="2" fill="#fafdc9"/><rect x="429.35" y="140.24" width="6.92" height="2" fill="#f4fbd4"/><rect x="436.28" y="140.24" width="6.92" height="2" fill="#f4fbd2"/><rect x="443.2" y="140.24" width="6.92" height="2" fill="#fff1aa"/><rect x="450.12" y="140.24" width="6.92" height="2" fill="#ffffbf"/><rect x="457.05" y="140.24" width="6.92" height="2" fill="#f4fbd2"/><rect x="463.98" y="140.24" width="6.92" height="2" fill="#edf8e1"/><rect x="470.9" y="140.24" width="6.92" height="2" fill="#edf8df"/><rect x="477.83" y="140.24" width="6.92" height="2" fill="#f2fad7"/><rect x="484.75" y="140.24" width="6.92" height="2" fill="#e5f5ee"/><rect x="491.68" y="140.24" width="6.92" height="2" fill="#e7f6eb"/><rect x="360.1" y="142.24" width="6.92" height="2" fill="#fee598"/><rect x="367.03" y="142.24" width="6.92" height="2" fill="#fff1a9"/><rect x="373.95" y="142.24" width="6.92" height="2" fill="#fffdbc"/><rect x="380.88" y="142.24" width="6.92" height="2" fill="#fffdbc"/><rect x="387.8" y="142.24" width="6.92" height="2" fill="#fed488"/><rect x="394.73" y="142.24" width="6.92" height="2" fill="#fed98b"/><rect x="401.65" y="142.24" width="6.92" height="2" fill="#fff3ad"/><rect x="408.58" y="142.24" width="6.92" height="2" fill="#fff7b3"/><rect x="415.5" y="142.24" width="6.92" height="2" fill="#fff1aa"/><rect x="422.43" y="142.24" width="6.92" height="2" fill="#96c2dd"/><rect x="429.35" y="142.24" width="6.92" height="2" fill="#beddec"/><rect x="436.28" y="142.24" width="6.92" height="2" fill="#e4f5f0"/><rect x="443.2" y="142.24" width="6.92" height="2" fill="#fbfdc7"/><rect x="450.12" y="142.24" width="6.92" height="2" fill="#e3f4f3"/><rect x="457.05" y="142.24" width="6.92" height="2" fill="#cee7f1"/><rect x="463.98" y="142.24" width="6.92" height="2" fill="#a6cde3"/><rect x="470.9" y="142.24" width="6.92" height="2" fill="#b3d6e8"/><rect x="477.83" y="142.24" width="6.92" height="2" fill="#ebf7e5"/><rect x="484.75" y="142.24" width="6.92" height="2" fill="#9fc8e0"/><rect x="491.68" y="142.24" width="6.92" height="2" fill="#dcf1f7"/><rect x="360.1" y="144.24" width="6.92" height="2" fill="#fdb473"/><rect x="367.03" y="144.24" width="6.92" height="2" fill="#feeda4"/><rect x="373.95" y="144.24" width="6.92" height="2" fill="#fffdbb"/><rect x="380.88" y="144.24" width="6.92" height="2" fill="#f2fad6"/><rect x="387.8" y="144.24" width="6.92" height="2" fill="#f5fbd1"/><rect x="394.73" y="144.24" width="6.92" height="2" fill="#fee496"/><rect x="401.65" y="144.24" width="6.92" height="2" fill="#e2f4f5"/><rect x="408.58" y="144.24" width="6.92" height="2" fill="#c7e2ef"/><rect x="415.5" y="144.24" width="6.92" height="2" fill="#fdc880"/><rect x="422.43" y="144.24" width="6.92" height="2" fill="#9ec7e0"/><rect x="429.35" y="144.24" width="6.92" height="2" fill="#fee699"/><rect x="436.28" y="144.24" width="6.92" height="2" fill="#fffbb8"/><rect x="443.2" y="144.24" width="6.92" height="2" fill="#feeea5"/><rect x="450.12" y="144.24" width="6.92" height="2" fill="#fee699"/><rect x="457.05" y="144.24" width="6.92" height="2" fill="#fee496"/><rect x="463.98" y="144.24" width="6.92" height="2" fill="#fee597"/><rect x="470.9" y="144.24" width="6.92" height="2" fill="#feeca2"/><rect x="477.83" y="144.24" width="6.92" height="2" fill="#fee497"/><rect x="484.75" y="144.24" width="6.92" height="2" fill="#fee191"/><rect x="491.68" y="144.24" width="6.92" height="2" fill="#fff4ae"/><rect x="360.1" y="146.23" width="6.92" height="2" fill="#ecf8e1"/><rect x="367.03" y="146.23" width="6.92" height="2" fill="#eaf7e5"/><rect x="373.95" y="146.23" width="6.92" height="2" fill="#a0c9e0"/><rect x="380.88" y="146.23" width="6.92" height="2" fill="#e0f3f8"/><rect x="387.8" y="146.23" width="6.92" height="2" fill="#fbfec6"/><rect x="394.73" y="146.23" width="6.92" height="2" fill="#fff2ac"/><rect x="401.65" y="146.23" width="6.92" height="2" fill="#88b6d6"/><rect x="408.58" y="146.23" width="6.92" height="2" fill="#cae5f0"/><rect x="415.5" y="146.23" width="6.92" height="2" fill="#fffab7"/><rect x="422.43" y="146.23" width="6.92" height="2" fill="#f0f9db"/><rect x="429.35" y="146.23" width="6.92" height="2" fill="#fff7b3"/><rect x="436.28" y="146.23" width="6.92" height="2" fill="#f7fccd"/><rect x="443.2" y="146.23" width="6.92" height="2" fill="#fdaf70"/><rect x="450.12" y="146.23" width="6.92" height="2" fill="#fff6b1"/><rect x="457.05" y="146.23" width="6.92" height="2" fill="#fff0a8"/><rect x="463.98" y="146.23" width="6.92" height="2" fill="#fff9b6"/><rect x="470.9" y="146.23" width="6.92" height="2" fill="#feeea5"/><rect x="477.83" y="146.23" width="6.92" height="2" fill="#fff1aa"/><rect x="484.75" y="146.23" width="6.92" height="2" fill="#fff1aa"/><rect x="491.68" y="146.23" width="6.92" height="2" fill="#fff7b2"/><rect x="360.1" y="148.23" width="6.92" height="2" fill="#fff8b4"/><rect x="367.03" y="148.23" width="6.92" height="2" fill="#f0f9db"/><rect x="373.95" y="148.23" width="6.92" height="2" fill="#99c4de"/><rect x="380.88" y="148.23" width="6.92" height="2" fill="#9cc6df"/><rect x="387.8" y="148.23" width="6.92" height="2" fill="#f9fdc9"/><rect x="394.73" y="148.23" width="6.92" height="2" fill="#fbfdc6"/><rect x="401.65" y="148.23" width="6.92" height="2" fill="#9ac5de"/><rect x="408.58" y="148.23" width="6.92" height="2" fill="#def2f7"/><rect x="415.5" y="148.23" width="6.92" height="2" fill="#feffc1"/><rect x="422.43" y="148.23" width="6.92" height="2" fill="#e8f6e9"/><rect x="429.35" y="148.23" width="6.92" height="2" fill="#fdfec3"/><rect x="436.28" y="148.23" width="6.92" height="2" fill="#fbfdc6"/><rect x="443.2" y="148.23" width="6.92" height="2" fill="#fff4af"/><rect x="450.12" y="148.23" width="6.92" height="2" fill="#fffebe"/><rect x="457.05" y="148.23" width="6.92" height="2" fill="#fff8b5"/><rect x="463.98" y="148.23" width="6.92" height="2" fill="#fdfec2"/><rect x="470.9" y="148.23" width="6.92" height="2" fill="#fffdbc"/><rect x="477.83" y="148.23" width="6.92" height="2" fill="#fff0a9"/><rect x="484.75" y="148.23" width="6.92" height="2" fill="#feea9f"/><rect x="491.68" y="148.23" width="6.92" height="2" fill="#fff4ae"/><rect x="360.1" y="150.23" width="6.92" height="2" fill="#fff2ab"/><rect x="367.03" y="150.23" width="6.92" height="2" fill="#f8fccc"/><rect x="373.95" y="150.23" width="6.92" height="2" fill="#a8cee4"/><rect x="380.88" y="150.23" width="6.92" height="2" fill="#edf8e1"/><rect x="387.8" y="150.23" width="6.92" height="2" fill="#fff8b4"/><rect x="394.73" y="150.23" width="6.92" height="2" fill="#fff2ab"/><rect x="401.65" y="150.23" width="6.92" height="2" fill="#aed2e6"/><rect x="408.58" y="150.23" width="6.92" height="2" fill="#cce6f0"/><rect x="415.5" y="150.23" width="6.92" height="2" fill="#fee597"/><rect x="422.43" y="150.23" width="6.92" height="2" fill="#fafdc8"/><rect x="429.35" y="150.23" width="6.92" height="2" fill="#feeca2"/><rect x="436.28" y="150.23" width="6.92" height="2" fill="#fff8b5"/><rect x="443.2" y="150.23" width="6.92" height="2" fill="#fdb674"/><rect x="450.12" y="150.23" width="6.92" height="2" fill="#feeba1"/><rect x="457.05" y="150.23" width="6.92" height="2" fill="#fed186"/><rect x="463.98" y="150.23" width="6.92" height="2" fill="#fff2ac"/><rect x="470.9" y="150.23" width="6.92" height="2" fill="#feeba0"/><rect x="477.83" y="150.23" width="6.92" height="2" fill="#fedd8e"/><rect x="484.75" y="150.23" width="6.92" height="2" fill="#fedb8d"/><rect x="491.68" y="150.23" width="6.92" height="2" fill="#fee79b"/><rect x="360.1" y="152.23" width="6.92" height="2" fill="#fffebe"/><rect x="367.03" y="152.23" width="6.92" height="2" fill="#eff9dc"/><rect x="373.95" y="152.23" width="6.92" height="2" fill="#94c1dc"/><rect x="380.88" y="152.23" width="6.92" height="2" fill="#f1fad8"/><rect x="387.8" y="152.23" width="6.92" height="2" fill="#fffebe"/><rect x="394.73" y="152.23" width="6.92" height="2" fill="#f6fccf"/><rect x="401.65" y="152.23" width="6.92" height="2" fill="#b2d5e7"/><rect x="408.58" y="152.23" width="6.92" height="2" fill="#e2f4f3"/><rect x="415.5" y="152.23" width="6.92" height="2" fill="#feea9f"/><rect x="422.43" y="152.23" width="6.92" height="2" fill="#fbfdc6"/><rect x="429.35" y="152.23" width="6.92" height="2" fill="#fffebe"/><rect x="436.28" y="152.23" width="6.92" height="2" fill="#feefa7"/><rect x="443.2" y="152.23" width="6.92" height="2" fill="#fff0a8"/><rect x="450.12" y="152.23" width="6.92" height="2" fill="#feeba0"/><rect x="457.05" y="152.23" width="6.92" height="2" fill="#feeca2"/><rect x="463.98" y="152.23" width="6.92" height="2" fill="#feea9f"/><rect x="470.9" y="152.23" width="6.92" height="2" fill="#fff2ab"/><rect x="477.83" y="152.23" width="6.92" height="2" fill="#feeba1"/><rect x="484.75" y="152.23" width="6.92" height="2" fill="#feeda4"/><rect x="491.68" y="152.23" width="6.92" height="2" fill="#fff5b0"/><rect x="360.1" y="154.23" width="6.92" height="2" fill="#fede8f"/><rect x="367.03" y="154.23" width="6.92" height="2" fill="#f4fbd3"/><rect x="373.95" y="154.23" width="6.92" height="2" fill="#9dc7df"/><rect x="380.88" y="154.23" width="6.92" height="2" fill="#f5fbd2"/><rect x="387.8" y="154.23" width="6.92" height="2" fill="#fffcba"/><rect x="394.73" y="154.23" width="6.92" height="2" fill="#feeaa0"/><rect x="401.65" y="154.23" width="6.92" height="2" fill="#bbdbea"/><rect x="408.58" y="154.23" width="6.92" height="2" fill="#fbfdc6"/><rect x="415.5" y="154.23" width="6.92" height="2" fill="#feeda4"/><rect x="422.43" y="154.23" width="6.92" height="2" fill="#fff5b0"/><rect x="429.35" y="154.23" width="6.92" height="2" fill="#fee496"/><rect x="436.28" y="154.23" width="6.92" height="2" fill="#fff6b2"/><rect x="443.2" y="154.23" width="6.92" height="2" fill="#fc8d59"/><rect x="450.12" y="154.23" width="6.92" height="2" fill="#fee192"/><rect x="457.05" y="154.23" width="6.92" height="2" fill="#fee99e"/><rect x="463.98" y="154.23" width="6.92" height="2" fill="#feeca3"/><rect x="470.9" y="154.23" width="6.92" height="2" fill="#fee99d"/><rect x="477.83" y="154.23" width="6.92" height="2" fill="#fee394"/><rect x="484.75" y="154.23" width="6.92" height="2" fill="#fee293"/><rect x="491.68" y="154.23" width="6.92" height="2" fill="#fee89c"/><rect x="360.1" y="156.23" width="6.92" height="2" fill="#fee69a"/><rect x="367.03" y="156.23" width="6.92" height="2" fill="#fdad6e"/><rect x="373.95" y="156.23" width="6.92" height="2" fill="#9cc6df"/><rect x="380.88" y="156.23" width="6.92" height="2" fill="#f3fad5"/><rect x="387.8" y="156.23" width="6.92" height="2" fill="#f6fccf"/><rect x="394.73" y="156.23" width="6.92" height="2" fill="#f9fdc9"/><rect x="401.65" y="156.23" width="6.92" height="2" fill="#a7cee3"/><rect x="408.58" y="156.23" width="6.92" height="2" fill="#cae4f0"/><rect x="415.5" y="156.23" width="6.92" height="2" fill="#fff3ad"/><rect x="422.43" y="156.23" width="6.92" height="2" fill="#ecf8e2"/><rect x="429.35" y="156.23" width="6.92" height="2" fill="#fff4ae"/><rect x="436.28" y="156.23" width="6.92" height="2" fill="#fcfec4"/><rect x="443.2" y="156.23" width="6.92" height="2" fill="#f88354"/><rect x="450.12" y="156.23" width="6.92" height="2" fill="#fff7b3"/><rect x="457.05" y="156.23" width="6.92" height="2" fill="#feea9f"/><rect x="463.98" y="156.23" width="6.92" height="2" fill="#feeca2"/><rect x="470.9" y="156.23" width="6.92" height="2" fill="#fff3ad"/><rect x="477.83" y="156.23" width="6.92" height="2" fill="#feea9f"/><rect x="484.75" y="156.23" width="6.92" height="2" fill="#feeea6"/><rect x="491.68" y="156.23" width="6.92" height="2" fill="#feeca3"/><rect x="360.1" y="158.23" width="6.92" height="2" fill="#fff2ac"/><rect x="367.03" y="158.23" width="6.92" height="2" fill="#fdc77f"/><rect x="373.95" y="158.23" width="6.92" height="2" fill="#a4cbe2"/><rect x="380.88" y="158.23" width="6.92" height="2" fill="#f2fad8"/><rect x="387.8" y="158.23" width="6.92" height="2" fill="#fefec2"/><rect x="394.73" y="158.23" width="6.92" height="2" fill="#fff5b0"/><rect x="401.65" y="158.23" width="6.92" height="2" fill="#aed2e6"/><rect x="408.58" y="158.23" width="6.92" height="2" fill="#e6f5ed"/><rect x="415.5" y="158.23" width="6.92" height="2" fill="#fff4ae"/><rect x="422.43" y="158.23" width="6.92" height="2" fill="#ebf7e4"/><rect x="429.35" y="158.23" width="6.92" height="2" fill="#fffdbc"/><rect x="436.28" y="158.23" width="6.92" height="2" fill="#fff0a9"/><rect x="443.2" y="158.23" width="6.92" height="2" fill="#f2744b"/><rect x="450.12" y="158.23" width="6.92" height="2" fill="#feeba1"/><rect x="457.05" y="158.23" width="6.92" height="2" fill="#feeea6"/><rect x="463.98" y="158.23" width="6.92" height="2" fill="#fee89d"/><rect x="470.9" y="158.23" width="6.92" height="2" fill="#fff3ac"/><rect x="477.83" y="158.23" width="6.92" height="2" fill="#fffcba"/><rect x="484.75" y="158.23" width="6.92" height="2" fill="#fdad6e"/><rect x="491.68" y="158.23" width="6.92" height="2" fill="#fff1a9"/><rect x="360.1" y="160.23" width="6.92" height="2" fill="#fffdbc"/><rect x="367.03" y="160.23" width="6.92" height="2" fill="#fafdc8"/><rect x="373.95" y="160.23" width="6.92" height="2" fill="#b3d5e7"/><rect x="380.88" y="160.23" width="6.92" height="2" fill="#d3eaf3"/><rect x="387.8" y="160.23" width="6.92" height="2" fill="#ecf8e1"/><rect x="394.73" y="160.23" width="6.92" height="2" fill="#fffdbd"/><rect x="401.65" y="160.23" width="6.92" height="2" fill="#aed2e6"/><rect x="408.58" y="160.23" width="6.92" height="2" fill="#e9f6e8"/><rect x="415.5" y="160.23" width="6.92" height="2" fill="#fbfec6"/><rect x="422.43" y="160.23" width="6.92" height="2" fill="#ebf7e3"/><rect x="429.35" y="160.23" width="6.92" height="2" fill="#fff9b6"/><rect x="436.28" y="160.23" width="6.92" height="2" fill="#eef9de"/><rect x="443.2" y="160.23" width="6.92" height="2" fill="#f57a4f"/><rect x="450.12" y="160.23" width="6.92" height="2" fill="#fff3ac"/><rect x="457.05" y="160.23" width="6.92" height="2" fill="#fee192"/><rect x="463.98" y="160.23" width="6.92" height="2" fill="#fda569"/><rect x="470.9" y="160.23" width="6.92" height="2" fill="#fdb573"/><rect x="477.83" y="160.23" width="6.92" height="2" fill="#fee699"/><rect x="484.75" y="160.23" width="6.92" height="2" fill="#fc945e"/><rect x="491.68" y="160.23" width="6.92" height="2" fill="#fff5b0"/><rect x="360.1" y="162.22" width="6.92" height="2" fill="#fdbb78"/><rect x="367.03" y="162.22" width="6.92" height="2" fill="#feea9f"/><rect x="373.95" y="162.22" width="6.92" height="2" fill="#eef8df"/><rect x="380.88" y="162.22" width="6.92" height="2" fill="#fafdc8"/><rect x="387.8" y="162.22" width="6.92" height="2" fill="#fee394"/><rect x="394.73" y="162.22" width="6.92" height="2" fill="#fdc77f"/><rect x="401.65" y="162.22" width="6.92" height="2" fill="#beddeb"/><rect x="408.58" y="162.22" width="6.92" height="2" fill="#f8fccd"/><rect x="415.5" y="162.22" width="6.92" height="2" fill="#fed78a"/><rect x="422.43" y="162.22" width="6.92" height="2" fill="#e4f5f0"/><rect x="429.35" y="162.22" width="6.92" height="2" fill="#fff9b6"/><rect x="436.28" y="162.22" width="6.92" height="2" fill="#f2fad7"/><rect x="443.2" y="162.22" width="6.92" height="2" fill="#f3774d"/><rect x="450.12" y="162.22" width="6.92" height="2" fill="#fee89c"/><rect x="457.05" y="162.22" width="6.92" height="2" fill="#fee497"/><rect x="463.98" y="162.22" width="6.92" height="2" fill="#fda569"/><rect x="470.9" y="162.22" width="6.92" height="2" fill="#fdbb78"/><rect x="477.83" y="162.22" width="6.92" height="2" fill="#fedc8d"/><rect x="484.75" y="162.22" width="6.92" height="2" fill="#fed98c"/><rect x="491.68" y="162.22" width="6.92" height="2" fill="#fee090"/><rect x="360.1" y="164.22" width="6.92" height="2" fill="#fcfec5"/><rect x="367.03" y="164.22" width="6.92" height="2" fill="#dbf0f6"/><rect x="373.95" y="164.22" width="6.92" height="2" fill="#bbdaea"/><rect x="380.88" y="164.22" width="6.92" height="2" fill="#8cbbd9"/><rect x="387.8" y="164.22" width="6.92" height="2" fill="#ebf7e4"/><rect x="394.73" y="164.22" width="6.92" height="2" fill="#f8fccd"/><rect x="401.65" y="164.22" width="6.92" height="2" fill="#abd0e4"/><rect x="408.58" y="164.22" width="6.92" height="2" fill="#dff2f7"/><rect x="415.5" y="164.22" width="6.92" height="2" fill="#ea6141"/><rect x="422.43" y="164.22" width="6.92" height="2" fill="#daeff6"/><rect x="429.35" y="164.22" width="6.92" height="2" fill="#fffbb9"/><rect x="436.28" y="164.22" width="6.92" height="2" fill="#ebf7e4"/><rect x="443.2" y="164.22" width="6.92" height="2" fill="#fca066"/><rect x="450.12" y="164.22" width="6.92" height="2" fill="#ffffc0"/><rect x="457.05" y="164.22" width="6.92" height="2" fill="#fff1aa"/><rect x="463.98" y="164.22" width="6.92" height="2" fill="#fff5b1"/><rect x="470.9" y="164.22" width="6.92" height="2" fill="#fffebd"/><rect x="477.83" y="164.22" width="6.92" height="2" fill="#fee99e"/><rect x="484.75" y="164.22" width="6.92" height="2" fill="#fed488"/><rect x="491.68" y="164.22" width="6.92" height="2" fill="#fffbb9"/><rect x="360.1" y="166.22" width="6.92" height="2" fill="#fff0a8"/><rect x="367.03" y="166.22" width="6.92" height="2" fill="#e3f4f3"/><rect x="373.95" y="166.22" width="6.92" height="2" fill="#ddf1f7"/><rect x="380.88" y="166.22" width="6.92" height="2" fill="#cee7f1"/><rect x="387.8" y="166.22" width="6.92" height="2" fill="#feffc0"/><rect x="394.73" y="166.22" width="6.92" height="2" fill="#feeca2"/><rect x="401.65" y="166.22" width="6.92" height="2" fill="#a5cce2"/><rect x="408.58" y="166.22" width="6.92" height="2" fill="#e8f6ea"/><rect x="415.5" y="166.22" width="6.92" height="2" fill="#fff2ab"/><rect x="422.43" y="166.22" width="6.92" height="2" fill="#d9eef5"/><rect x="429.35" y="166.22" width="6.92" height="2" fill="#fff7b3"/><rect x="436.28" y="166.22" width="6.92" height="2" fill="#f2fad6"/><rect x="443.2" y="166.22" width="6.92" height="2" fill="#fff3ad"/><rect x="450.12" y="166.22" width="6.92" height="2" fill="#fff0a8"/><rect x="457.05" y="166.22" width="6.92" height="2" fill="#fee89d"/><rect x="463.98" y="166.22" width="6.92" height="2" fill="#feefa7"/><rect x="470.9" y="166.22" width="6.92" height="2" fill="#fffdbc"/><rect x="477.83" y="166.22" width="6.92" height="2" fill="#fee394"/><rect x="484.75" y="166.22" width="6.92" height="2" fill="#fff5af"/><rect x="491.68" y="166.22" width="6.92" height="2" fill="#fee497"/><rect x="360.1" y="168.22" width="6.92" height="2" fill="#fee191"/><rect x="367.03" y="168.22" width="6.92" height="2" fill="#ecf7e3"/><rect x="373.95" y="168.22" width="6.92" height="2" fill="#eaf7e5"/><rect x="380.88" y="168.22" width="6.92" height="2" fill="#ffffbf"/><rect x="387.8" y="168.22" width="6.92" height="2" fill="#feeea6"/><rect x="394.73" y="168.22" width="6.92" height="2" fill="#fee699"/><rect x="401.65" y="168.22" width="6.92" height="2" fill="#bbdaea"/><rect x="408.58" y="168.22" width="6.92" height="2" fill="#f8fccb"/><rect x="415.5" y="168.22" width="6.92" height="2" fill="#fecc83"/><rect x="422.43" y="168.22" width="6.92" height="2" fill="#e6f5ed"/><rect x="429.35" y="168.22" width="6.92" height="2" fill="#fee597"/><rect x="436.28" y="168.22" width="6.92" height="2" fill="#eff9dc"/><rect x="443.2" y="168.22" width="6.92" height="2" fill="#fede8f"/><rect x="450.12" y="168.22" width="6.92" height="2" fill="#fee79a"/><rect x="457.05" y="168.22" width="6.92" height="2" fill="#fc9860"/><rect x="463.98" y="168.22" width="6.92" height="2" fill="#feeda4"/><rect x="470.9" y="168.22" width="6.92" height="2" fill="#fee191"/><rect x="477.83" y="168.22" width="6.92" height="2" fill="#fdcb82"/><rect x="484.75" y="168.22" width="6.92" height="2" fill="#feeaa0"/><rect x="491.68" y="168.22" width="6.92" height="2" fill="#feda8c"/><rect x="360.1" y="170.22" width="6.92" height="2" fill="#fff4ae"/><rect x="367.03" y="170.22" width="6.92" height="2" fill="#eaf7e6"/><rect x="373.95" y="170.22" width="6.92" height="2" fill="#e4f5f0"/><rect x="380.88" y="170.22" width="6.92" height="2" fill="#e8f6e9"/><rect x="387.8" y="170.22" width="6.92" height="2" fill="#fcfec5"/><rect x="394.73" y="170.22" width="6.92" height="2" fill="#fffab7"/><rect x="401.65" y="170.22" width="6.92" height="2" fill="#a3cbe2"/><rect x="408.58" y="170.22" width="6.92" height="2" fill="#f4fbd4"/><rect x="415.5" y="170.22" width="6.92" height="2" fill="#fff0a8"/><rect x="422.43" y="170.22" width="6.92" height="2" fill="#e4f5f0"/><rect x="429.35" y="170.22" width="6.92" height="2" fill="#fff9b6"/><rect x="436.28" y="170.22" width="6.92" height="2" fill="#f1f9d9"/><rect x="443.2" y="170.22" width="6.92" height="2" fill="#feeea6"/><rect x="450.12" y="170.22" width="6.92" height="2" fill="#fff2ac"/><rect x="457.05" y="170.22" width="6.92" height="2" fill="#fc915b"/><rect x="463.98" y="170.22" width="6.92" height="2" fill="#fff8b4"/><rect x="470.9" y="170.22" width="6.92" height="2" fill="#fee79b"/><rect x="477.83" y="170.22" width="6.92" height="2" fill="#fff7b2"/><rect x="484.75" y="170.22" width="6.92" height="2" fill="#fff3ad"/><rect x="491.68" y="170.22" width="6.92" height="2" fill="#feea9f"/><rect x="360.1" y="172.22" width="6.92" height="2" fill="#fee89d"/><rect x="367.03" y="172.22" width="6.92" height="2" fill="#f4fbd4"/><rect x="373.95" y="172.22" width="6.92" height="2" fill="#bcdbeb"/><rect x="380.88" y="172.22" width="6.92" height="2" fill="#dff2f8"/><rect x="387.8" y="172.22" width="6.92" height="2" fill="#fff7b4"/><rect x="394.73" y="172.22" width="6.92" height="2" fill="#fafdc7"/><rect x="401.65" y="172.22" width="6.92" height="2" fill="#badaea"/><rect x="408.58" y="172.22" width="6.92" height="2" fill="#ebf7e4"/><rect x="415.5" y="172.22" width="6.92" height="2" fill="#fee89c"/><rect x="422.43" y="172.22" width="6.92" height="2" fill="#e0f3f7"/><rect x="429.35" y="172.22" width="6.92" height="2" fill="#feeaa0"/><rect x="436.28" y="172.22" width="6.92" height="2" fill="#f2fad7"/><rect x="443.2" y="172.22" width="6.92" height="2" fill="#fee69a"/><rect x="450.12" y="172.22" width="6.92" height="2" fill="#fff3ad"/><rect x="457.05" y="172.22" width="6.92" height="2" fill="#fc945d"/><rect x="463.98" y="172.22" width="6.92" height="2" fill="#feeba0"/><rect x="470.9" y="172.22" width="6.92" height="2" fill="#feeca2"/><rect x="477.83" y="172.22" width="6.92" height="2" fill="#fed98b"/><rect x="484.75" y="172.22" width="6.92" height="2" fill="#fee497"/><rect x="491.68" y="172.22" width="6.92" height="2" fill="#feefa7"/><rect x="360.1" y="174.22" width="6.92" height="2" fill="#fffab8"/><rect x="367.03" y="174.22" width="6.92" height="2" fill="#eaf7e6"/><rect x="373.95" y="174.22" width="6.92" height="2" fill="#cae5f0"/><rect x="380.88" y="174.22" width="6.92" height="2" fill="#c6e2ef"/><rect x="387.8" y="174.22" width="6.92" height="2" fill="#fff6b1"/><rect x="394.73" y="174.22" width="6.92" height="2" fill="#fff7b3"/><rect x="401.65" y="174.22" width="6.92" height="2" fill="#a4cbe2"/><rect x="408.58" y="174.22" width="6.92" height="2" fill="#e7f6ea"/><rect x="415.5" y="174.22" width="6.92" height="2" fill="#fc965f"/><rect x="422.43" y="174.22" width="6.92" height="2" fill="#e4f4f1"/><rect x="429.35" y="174.22" width="6.92" height="2" fill="#fffdbb"/><rect x="436.28" y="174.22" width="6.92" height="2" fill="#eff9dc"/><rect x="443.2" y="174.22" width="6.92" height="2" fill="#fff5af"/><rect x="450.12" y="174.22" width="6.92" height="2" fill="#fff6b1"/><rect x="457.05" y="174.22" width="6.92" height="2" fill="#fda86b"/><rect x="463.98" y="174.22" width="6.92" height="2" fill="#feeca3"/><rect x="470.9" y="174.22" width="6.92" height="2" fill="#fee79a"/><rect x="477.83" y="174.22" width="6.92" height="2" fill="#fff2ab"/><rect x="484.75" y="174.22" width="6.92" height="2" fill="#fee496"/><rect x="491.68" y="174.22" width="6.92" height="2" fill="#fff6b1"/><rect x="360.1" y="176.22" width="6.92" height="2" fill="#fed98b"/><rect x="367.03" y="176.22" width="6.92" height="2" fill="#fff9b5"/><rect x="373.95" y="176.22" width="6.92" height="2" fill="#f2fad7"/><rect x="380.88" y="176.22" width="6.92" height="2" fill="#eaf7e5"/><rect x="387.8" y="176.22" width="6.92" height="2" fill="#fee698"/><rect x="394.73" y="176.22" width="6.92" height="2" fill="#fedb8d"/><rect x="401.65" y="176.22" width="6.92" height="2" fill="#b4d6e8"/><rect x="408.58" y="176.22" width="6.92" height="2" fill="#f3fad6"/><rect x="415.5" y="176.22" width="6.92" height="2" fill="#fee496"/><rect x="422.43" y="176.22" width="6.92" height="2" fill="#fff0a8"/><rect x="429.35" y="176.22" width="6.92" height="2" fill="#feeaa0"/><rect x="436.28" y="176.22" width="6.92" height="2" fill="#f6fbd0"/><rect x="443.2" y="176.22" width="6.92" height="2" fill="#fee090"/><rect x="450.12" y="176.22" width="6.92" height="2" fill="#fff0a8"/><rect x="457.05" y="176.22" width="6.92" height="2" fill="#fc945e"/><rect x="463.98" y="176.22" width="6.92" height="2" fill="#feeca2"/><rect x="470.9" y="176.22" width="6.92" height="2" fill="#fffab8"/><rect x="477.83" y="176.22" width="6.92" height="2" fill="#fed287"/><rect x="484.75" y="176.22" width="6.92" height="2" fill="#fee292"/><rect x="491.68" y="176.22" width="6.92" height="2" fill="#fff5af"/><rect x="360.1" y="178.21" width="6.92" height="2" fill="#fedf8f"/><rect x="367.03" y="178.21" width="6.92" height="2" fill="#fff5b0"/><rect x="373.95" y="178.21" width="6.92" height="2" fill="#ecf8e1"/><rect x="380.88" y="178.21" width="6.92" height="2" fill="#edf8e1"/><rect x="387.8" y="178.21" width="6.92" height="2" fill="#feeba0"/><rect x="394.73" y="178.21" width="6.92" height="2" fill="#fed287"/><rect x="401.65" y="178.21" width="6.92" height="2" fill="#bcdceb"/><rect x="408.58" y="178.21" width="6.92" height="2" fill="#e5f5ee"/><rect x="415.5" y="178.21" width="6.92" height="2" fill="#fece84"/><rect x="422.43" y="178.21" width="6.92" height="2" fill="#fff5af"/><rect x="429.35" y="178.21" width="6.92" height="2" fill="#feeea5"/><rect x="436.28" y="178.21" width="6.92" height="2" fill="#ebf7e4"/><rect x="443.2" y="178.21" width="6.92" height="2" fill="#feeba0"/><rect x="450.12" y="178.21" width="6.92" height="2" fill="#fee395"/><rect x="457.05" y="178.21" width="6.92" height="2" fill="#fc9b63"/><rect x="463.98" y="178.21" width="6.92" height="2" fill="#fff5b1"/><rect x="470.9" y="178.21" width="6.92" height="2" fill="#fff8b5"/><rect x="477.83" y="178.21" width="6.92" height="2" fill="#fee79a"/><rect x="484.75" y="178.21" width="6.92" height="2" fill="#feea9f"/><rect x="491.68" y="178.21" width="6.92" height="2" fill="#feeaa0"/><rect x="360.1" y="180.21" width="6.92" height="2" fill="#fdac6e"/><rect x="367.03" y="180.21" width="6.92" height="2" fill="#f9fdca"/><rect x="373.95" y="180.21" width="6.92" height="2" fill="#e6f5ee"/><rect x="380.88" y="180.21" width="6.92" height="2" fill="#e7f6eb"/><rect x="387.8" y="180.21" width="6.92" height="2" fill="#fff4ae"/><rect x="394.73" y="180.21" width="6.92" height="2" fill="#fee395"/><rect x="401.65" y="180.21" width="6.92" height="2" fill="#bbdbeb"/><rect x="408.58" y="180.21" width="6.92" height="2" fill="#e8f6e9"/><rect x="415.5" y="180.21" width="6.92" height="2" fill="#fdc880"/><rect x="422.43" y="180.21" width="6.92" height="2" fill="#fff9b6"/><rect x="429.35" y="180.21" width="6.92" height="2" fill="#fff1ab"/><rect x="436.28" y="180.21" width="6.92" height="2" fill="#f6fbd0"/><rect x="443.2" y="180.21" width="6.92" height="2" fill="#fee497"/><rect x="450.12" y="180.21" width="6.92" height="2" fill="#feea9f"/><rect x="457.05" y="180.21" width="6.92" height="2" fill="#fc9860"/><rect x="463.98" y="180.21" width="6.92" height="2" fill="#fffebd"/><rect x="470.9" y="180.21" width="6.92" height="2" fill="#feefa6"/><rect x="477.83" y="180.21" width="6.92" height="2" fill="#fed488"/><rect x="484.75" y="180.21" width="6.92" height="2" fill="#fee598"/><rect x="491.68" y="180.21" width="6.92" height="2" fill="#feeca2"/><rect x="360.1" y="182.21" width="6.92" height="2" fill="#fee597"/><rect x="367.03" y="182.21" width="6.92" height="2" fill="#feffc0"/><rect x="373.95" y="182.21" width="6.92" height="2" fill="#e6f5ee"/><rect x="380.88" y="182.21" width="6.92" height="2" fill="#e2f4f4"/><rect x="387.8" y="182.21" width="6.92" height="2" fill="#fff4af"/><rect x="394.73" y="182.21" width="6.92" height="2" fill="#fee99d"/><rect x="401.65" y="182.21" width="6.92" height="2" fill="#a1cae1"/><rect x="408.58" y="182.21" width="6.92" height="2" fill="#ebf7e4"/><rect x="415.5" y="182.21" width="6.92" height="2" fill="#feefa7"/><rect x="422.43" y="182.21" width="6.92" height="2" fill="#fff1aa"/><rect x="429.35" y="182.21" width="6.92" height="2" fill="#feeda4"/><rect x="436.28" y="182.21" width="6.92" height="2" fill="#f4fbd3"/><rect x="443.2" y="182.21" width="6.92" height="2" fill="#fecd84"/><rect x="450.12" y="182.21" width="6.92" height="2" fill="#feeba0"/><rect x="457.05" y="182.21" width="6.92" height="2" fill="#fc9f65"/><rect x="463.98" y="182.21" width="6.92" height="2" fill="#fede8f"/><rect x="470.9" y="182.21" width="6.92" height="2" fill="#fee496"/><rect x="477.83" y="182.21" width="6.92" height="2" fill="#fee293"/><rect x="484.75" y="182.21" width="6.92" height="2" fill="#fff1aa"/><rect x="491.68" y="182.21" width="6.92" height="2" fill="#fff2ab"/><rect x="360.1" y="184.21" width="6.92" height="2" fill="#fede8f"/><rect x="367.03" y="184.21" width="6.92" height="2" fill="#e8f6ea"/><rect x="373.95" y="184.21" width="6.92" height="2" fill="#e9f7e7"/><rect x="380.88" y="184.21" width="6.92" height="2" fill="#eaf7e5"/><rect x="387.8" y="184.21" width="6.92" height="2" fill="#fee79b"/><rect x="394.73" y="184.21" width="6.92" height="2" fill="#fee598"/><rect x="401.65" y="184.21" width="6.92" height="2" fill="#bcdceb"/><rect x="408.58" y="184.21" width="6.92" height="2" fill="#f1fad9"/><rect x="415.5" y="184.21" width="6.92" height="2" fill="#fee496"/><rect x="422.43" y="184.21" width="6.92" height="2" fill="#fff4af"/><rect x="429.35" y="184.21" width="6.92" height="2" fill="#feeba1"/><rect x="436.28" y="184.21" width="6.92" height="2" fill="#feefa7"/><rect x="443.2" y="184.21" width="6.92" height="2" fill="#fee497"/><rect x="450.12" y="184.21" width="6.92" height="2" fill="#fff1aa"/><rect x="457.05" y="184.21" width="6.92" height="2" fill="#fee191"/><rect x="463.98" y="184.21" width="6.92" height="2" fill="#fee395"/><rect x="470.9" y="184.21" width="6.92" height="2" fill="#fff2ac"/><rect x="477.83" y="184.21" width="6.92" height="2" fill="#fdc57e"/><rect x="484.75" y="184.21" width="6.92" height="2" fill="#fdc27c"/><rect x="491.68" y="184.21" width="6.92" height="2" fill="#fed085"/><rect x="360.1" y="186.21" width="6.92" height="2" fill="#fda76a"/><rect x="367.03" y="186.21" width="6.92" height="2" fill="#e0f3f7"/><rect x="373.95" y="186.21" width="6.92" height="2" fill="#f4fbd3"/><rect x="380.88" y="186.21" width="6.92" height="2" fill="#f8fccb"/><rect x="387.8" y="186.21" width="6.92" height="2" fill="#fed287"/><rect x="394.73" y="186.21" width="6.92" height="2" fill="#fee69a"/><rect x="401.65" y="186.21" width="6.92" height="2" fill="#87b5d6"/><rect x="408.58" y="186.21" width="6.92" height="2" fill="#fff4ae"/><rect x="415.5" y="186.21" width="6.92" height="2" fill="#fdad6e"/><rect x="422.43" y="186.21" width="6.92" height="2" fill="#fee79b"/><rect x="429.35" y="186.21" width="6.92" height="2" fill="#fee89d"/><rect x="436.28" y="186.21" width="6.92" height="2" fill="#feeea5"/><rect x="443.2" y="186.21" width="6.92" height="2" fill="#fee79b"/><rect x="450.12" y="186.21" width="6.92" height="2" fill="#fee294"/><rect x="457.05" y="186.21" width="6.92" height="2" fill="#feda8c"/><rect x="463.98" y="186.21" width="6.92" height="2" fill="#fee192"/><rect x="470.9" y="186.21" width="6.92" height="2" fill="#feeaa0"/><rect x="477.83" y="186.21" width="6.92" height="2" fill="#fed98b"/><rect x="484.75" y="186.21" width="6.92" height="2" fill="#fed88b"/><rect x="491.68" y="186.21" width="6.92" height="2" fill="#fed589"/><rect x="360.1" y="188.21" width="6.92" height="2" fill="#feeea6"/><rect x="367.03" y="188.21" width="6.92" height="2" fill="#dff2f8"/><rect x="373.95" y="188.21" width="6.92" height="2" fill="#c1deed"/><rect x="380.88" y="188.21" width="6.92" height="2" fill="#c6e2ee"/><rect x="387.8" y="188.21" width="6.92" height="2" fill="#fffcba"/><rect x="394.73" y="188.21" width="6.92" height="2" fill="#feeca2"/><rect x="401.65" y="188.21" width="6.92" height="2" fill="#6e9dc9"/><rect x="408.58" y="188.21" width="6.92" height="2" fill="#ddf1f7"/><rect x="415.5" y="188.21" width="6.92" height="2" fill="#fff9b6"/><rect x="422.43" y="188.21" width="6.92" height="2" fill="#eef8df"/><rect x="429.35" y="188.21" width="6.92" height="2" fill="#fff5b0"/><rect x="436.28" y="188.21" width="6.92" height="2" fill="#fff5b0"/><rect x="443.2" y="188.21" width="6.92" height="2" fill="#fff7b3"/><rect x="450.12" y="188.21" width="6.92" height="2" fill="#fff9b6"/><rect x="457.05" y="188.21" width="6.92" height="2" fill="#fee79b"/><rect x="463.98" y="188.21" width="6.92" height="2" fill="#fffbb8"/><rect x="470.9" y="188.21" width="6.92" height="2" fill="#fff0a9"/><rect x="477.83" y="188.21" width="6.92" height="2" fill="#fee89c"/><rect x="484.75" y="188.21" width="6.92" height="2" fill="#feeca2"/><rect x="491.68" y="188.21" width="6.92" height="2" fill="#fff6b1"/><rect x="360.1" y="190.21" width="6.92" height="2" fill="#feeca2"/><rect x="367.03" y="190.21" width="6.92" height="2" fill="#e3f4f2"/><rect x="373.95" y="190.21" width="6.92" height="2" fill="#eff9dc"/><rect x="380.88" y="190.21" width="6.92" height="2" fill="#f3fbd4"/><rect x="387.8" y="190.21" width="6.92" height="2" fill="#fff5af"/><rect x="394.73" y="190.21" width="6.92" height="2" fill="#fffdbb"/><rect x="401.65" y="190.21" width="6.92" height="2" fill="#a9cfe4"/><rect x="408.58" y="190.21" width="6.92" height="2" fill="#f5fbd2"/><rect x="415.5" y="190.21" width="6.92" height="2" fill="#fece84"/><rect x="422.43" y="190.21" width="6.92" height="2" fill="#fbfec6"/><rect x="429.35" y="190.21" width="6.92" height="2" fill="#feeca3"/><rect x="436.28" y="190.21" width="6.92" height="2" fill="#fffdbc"/><rect x="443.2" y="190.21" width="6.92" height="2" fill="#fee293"/><rect x="450.12" y="190.21" width="6.92" height="2" fill="#fee395"/><rect x="457.05" y="190.21" width="6.92" height="2" fill="#fee699"/><rect x="463.98" y="190.21" width="6.92" height="2" fill="#fff5b1"/><rect x="470.9" y="190.21" width="6.92" height="2" fill="#feea9e"/><rect x="477.83" y="190.21" width="6.92" height="2" fill="#fed98c"/><rect x="484.75" y="190.21" width="6.92" height="2" fill="#fedb8c"/><rect x="491.68" y="190.21" width="6.92" height="2" fill="#fee395"/><rect x="360.1" y="192.21" width="6.92" height="2" fill="#fff1aa"/><rect x="367.03" y="192.21" width="6.92" height="2" fill="#e9f7e7"/><rect x="373.95" y="192.21" width="6.92" height="2" fill="#daeff6"/><rect x="380.88" y="192.21" width="6.92" height="2" fill="#c4e1ee"/><rect x="387.8" y="192.21" width="6.92" height="2" fill="#fdfec2"/><rect x="394.73" y="192.21" width="6.92" height="2" fill="#fbfec6"/><rect x="401.65" y="192.21" width="6.92" height="2" fill="#b2d5e7"/><rect x="408.58" y="192.21" width="6.92" height="2" fill="#d3eaf3"/><rect x="415.5" y="192.21" width="6.92" height="2" fill="#fee699"/><rect x="422.43" y="192.21" width="6.92" height="2" fill="#eef8df"/><rect x="429.35" y="192.21" width="6.92" height="2" fill="#fff7b2"/><rect x="436.28" y="192.21" width="6.92" height="2" fill="#fff9b6"/><rect x="443.2" y="192.21" width="6.92" height="2" fill="#feeda3"/><rect x="450.12" y="192.21" width="6.92" height="2" fill="#fff1a9"/><rect x="457.05" y="192.21" width="6.92" height="2" fill="#feeda4"/><rect x="463.98" y="192.21" width="6.92" height="2" fill="#fff6b1"/><rect x="470.9" y="192.21" width="6.92" height="2" fill="#feeaa0"/><rect x="477.83" y="192.21" width="6.92" height="2" fill="#fee79b"/><rect x="484.75" y="192.21" width="6.92" height="2" fill="#feeea5"/><rect x="491.68" y="192.21" width="6.92" height="2" fill="#fff0a8"/><rect x="360.1" y="194.2" width="6.92" height="2" fill="#feefa7"/><rect x="367.03" y="194.2" width="6.92" height="2" fill="#eff9dc"/><rect x="373.95" y="194.2" width="6.92" height="2" fill="#c2dfed"/><rect x="380.88" y="194.2" width="6.92" height="2" fill="#e0f3f8"/><rect x="387.8" y="194.2" width="6.92" height="2" fill="#f4fbd4"/><rect x="394.73" y="194.2" width="6.92" height="2" fill="#fff4af"/><rect x="401.65" y="194.2" width="6.92" height="2" fill="#a6cde3"/><rect x="408.58" y="194.2" width="6.92" height="2" fill="#d3eaf3"/><rect x="415.5" y="194.2" width="6.92" height="2" fill="#fff1aa"/><rect x="422.43" y="194.2" width="6.92" height="2" fill="#f3fad6"/><rect x="429.35" y="194.2" width="6.92" height="2" fill="#fff0a9"/><rect x="436.28" y="194.2" width="6.92" height="2" fill="#fffebd"/><rect x="443.2" y="194.2" width="6.92" height="2" fill="#feeca2"/><rect x="450.12" y="194.2" width="6.92" height="2" fill="#fffebd"/><rect x="457.05" y="194.2" width="6.92" height="2" fill="#fca166"/><rect x="463.98" y="194.2" width="6.92" height="2" fill="#fffdbb"/><rect x="470.9" y="194.2" width="6.92" height="2" fill="#fff7b2"/><rect x="477.83" y="194.2" width="6.92" height="2" fill="#fee395"/><rect x="484.75" y="194.2" width="6.92" height="2" fill="#fedc8d"/><rect x="491.68" y="194.2" width="6.92" height="2" fill="#fee79a"/><rect x="360.1" y="196.2" width="6.92" height="2" fill="#feefa7"/><rect x="367.03" y="196.2" width="6.92" height="2" fill="#ffffbf"/><rect x="373.95" y="196.2" width="6.92" height="2" fill="#b8d9e9"/><rect x="380.88" y="196.2" width="6.92" height="2" fill="#83b1d4"/><rect x="387.8" y="196.2" width="6.92" height="2" fill="#fffdbc"/><rect x="394.73" y="196.2" width="6.92" height="2" fill="#feeca2"/><rect x="401.65" y="196.2" width="6.92" height="2" fill="#abd0e5"/><rect x="408.58" y="196.2" width="6.92" height="2" fill="#f3fad6"/><rect x="415.5" y="196.2" width="6.92" height="2" fill="#fed68a"/><rect x="422.43" y="196.2" width="6.92" height="2" fill="#f9fdca"/><rect x="429.35" y="196.2" width="6.92" height="2" fill="#fee598"/><rect x="436.28" y="196.2" width="6.92" height="2" fill="#ffffbf"/><rect x="443.2" y="196.2" width="6.92" height="2" fill="#fee99e"/><rect x="450.12" y="196.2" width="6.92" height="2" fill="#fff0a8"/><rect x="457.05" y="196.2" width="6.92" height="2" fill="#f98655"/><rect x="463.98" y="196.2" width="6.92" height="2" fill="#fff0a9"/><rect x="470.9" y="196.2" width="6.92" height="2" fill="#feeea5"/><rect x="477.83" y="196.2" width="6.92" height="2" fill="#fedf90"/><rect x="484.75" y="196.2" width="6.92" height="2" fill="#feeda3"/><rect x="491.68" y="196.2" width="6.92" height="2" fill="#fff0a9"/><rect x="360.1" y="198.2" width="6.92" height="2" fill="#fff0a9"/><rect x="367.03" y="198.2" width="6.92" height="2" fill="#f6fccf"/><rect x="373.95" y="198.2" width="6.92" height="2" fill="#ddf1f7"/><rect x="380.88" y="198.2" width="6.92" height="2" fill="#ecf8e2"/><rect x="387.8" y="198.2" width="6.92" height="2" fill="#feea9f"/><rect x="394.73" y="198.2" width="6.92" height="2" fill="#feeda4"/><rect x="401.65" y="198.2" width="6.92" height="2" fill="#89b7d7"/><rect x="408.58" y="198.2" width="6.92" height="2" fill="#e2f4f4"/><rect x="415.5" y="198.2" width="6.92" height="2" fill="#fff5af"/><rect x="422.43" y="198.2" width="6.92" height="2" fill="#fff7b3"/><rect x="429.35" y="198.2" width="6.92" height="2" fill="#fffcba"/><rect x="436.28" y="198.2" width="6.92" height="2" fill="#feeca3"/><rect x="443.2" y="198.2" width="6.92" height="2" fill="#fee99d"/><rect x="450.12" y="198.2" width="6.92" height="2" fill="#feefa7"/><rect x="457.05" y="198.2" width="6.92" height="2" fill="#fed689"/><rect x="463.98" y="198.2" width="6.92" height="2" fill="#feefa7"/><rect x="470.9" y="198.2" width="6.92" height="2" fill="#fee497"/><rect x="477.83" y="198.2" width="6.92" height="2" fill="#fedb8d"/><rect x="484.75" y="198.2" width="6.92" height="2" fill="#feeda3"/><rect x="491.68" y="198.2" width="6.92" height="2" fill="#feeba1"/><rect x="360.1" y="200.2" width="6.92" height="2" fill="#fff2ab"/><rect x="367.03" y="200.2" width="6.92" height="2" fill="#feeda4"/><rect x="373.95" y="200.2" width="6.92" height="2" fill="#ecf8e1"/><rect x="380.88" y="200.2" width="6.92" height="2" fill="#fbfdc7"/><rect x="387.8" y="200.2" width="6.92" height="2" fill="#fee191"/><rect x="394.73" y="200.2" width="6.92" height="2" fill="#fdcb82"/><rect x="401.65" y="200.2" width="6.92" height="2" fill="#eaf7e6"/><rect x="408.58" y="200.2" width="6.92" height="2" fill="#fafdc8"/><rect x="415.5" y="200.2" width="6.92" height="2" fill="#fed085"/><rect x="422.43" y="200.2" width="6.92" height="2" fill="#fee99e"/><rect x="429.35" y="200.2" width="6.92" height="2" fill="#feefa6"/><rect x="436.28" y="200.2" width="6.92" height="2" fill="#fff1aa"/><rect x="443.2" y="200.2" width="6.92" height="2" fill="#fee192"/><rect x="450.12" y="200.2" width="6.92" height="2" fill="#fee496"/><rect x="457.05" y="200.2" width="6.92" height="2" fill="#fee395"/><rect x="463.98" y="200.2" width="6.92" height="2" fill="#fedf8f"/><rect x="470.9" y="200.2" width="6.92" height="2" fill="#fee99d"/><rect x="477.83" y="200.2" width="6.92" height="2" fill="#fed388"/><rect x="484.75" y="200.2" width="6.92" height="2" fill="#fecc83"/><rect x="491.68" y="200.2" width="6.92" height="2" fill="#fedd8e"/></g>
<path d="M360.1 38.3H498.6M360.1 40.3H498.6M360.1 42.3H498.6M360.1 44.3H498.6M360.1 46.3H498.6M360.1 48.29H498.6M360.1 50.29H498.6M360.1 52.29H498.6M360.1 54.29H498.6M360.1 56.29H498.6M360.1 58.29H498.6M360.1 60.29H498.6M360.1 62.29H498.6M360.1 64.28H498.6M360.1 66.28H498.6M360.1 68.28H498.6M360.1 70.28H498.6M360.1 72.28H498.6M360.1 74.28H498.6M360.1 76.28H498.6M360.1 78.28H498.6M360.1 80.27H498.6M360.1 82.27H498.6M360.1 84.27H498.6M360.1 86.27H498.6M360.1 88.27H498.6M360.1 90.27H498.6M360.1 92.27H498.6M360.1 94.27H498.6M360.1 96.26H498.6M360.1 98.26H498.6M360.1 100.26H498.6M360.1 102.26H498.6M360.1 104.26H498.6M360.1 106.26H498.6M360.1 108.26H498.6M360.1 110.26H498.6M360.1 112.25H498.6M360.1 114.25H498.6M360.1 116.25H498.6M360.1 118.25H498.6M360.1 120.25H498.6M360.1 122.25H498.6M360.1 124.25H498.6M360.1 126.25H498.6M360.1 128.25H498.6M360.1 130.24H498.6M360.1 132.24H498.6M360.1 134.24H498.6M360.1 136.24H498.6M360.1 138.24H498.6M360.1 140.24H498.6M360.1 142.24H498.6M360.1 144.24H498.6M360.1 146.23H498.6M360.1 148.23H498.6M360.1 150.23H498.6M360.1 152.23H498.6M360.1 154.23H498.6M360.1 156.23H498.6M360.1 158.23H498.6M360.1 160.23H498.6M360.1 162.22H498.6M360.1 164.22H498.6M360.1 166.22H498.6M360.1 168.22H498.6M360.1 170.22H498.6M360.1 172.22H498.6M360.1 174.22H498.6M360.1 176.22H498.6M360.1 178.21H498.6M360.1 180.21H498.6M360.1 182.21H498.6M360.1 184.21H498.6M360.1 186.21H498.6M360.1 188.21H498.6M360.1 190.21H498.6M360.1 192.21H498.6M360.1 194.2H498.6M360.1 196.2H498.6M360.1 198.2H498.6M360.1 200.2H498.6M360.1 202.2H498.6M360.1 38.3V202.2M367.03 38.3V202.2M373.95 38.3V202.2M380.88 38.3V202.2M387.8 38.3V202.2M394.73 38.3V202.2M401.65 38.3V202.2M408.58 38.3V202.2M415.5 38.3V202.2M422.43 38.3V202.2M429.35 38.3V202.2M436.28 38.3V202.2M443.2 38.3V202.2M450.12 38.3V202.2M457.05 38.3V202.2M463.98 38.3V202.2M470.9 38.3V202.2M477.83 38.3V202.2M484.75 38.3V202.2M491.68 38.3V202.2M498.6 38.3V202.2" stroke="#a0a0a0" stroke-width="0.4" fill="none"/>
<rect x="360.1" y="33.1" width="69.25" height="4.3" fill="#3fbcc4" stroke="none" stroke-width="1"/>
<rect x="429.35" y="33.1" width="69.25" height="4.3" fill="#f2827b" stroke="none" stroke-width="1"/>
<rect x="477.5" y="0.4" width="7.8" height="6.5" fill="#3fbcc4" stroke="none" stroke-width="1"/>
<rect x="477.5" y="8.3" width="7.8" height="7.2" fill="#f2827b" stroke="none" stroke-width="1"/>
<text x="487" y="6.1" font-size="7" text-anchor="start" fill="#231f20" stroke="#231f20">Anti-KLH</text>
<text x="487" y="14.6" font-size="7" text-anchor="start" fill="#231f20" stroke="#231f20">Anti-ILT3</text>
<defs><linearGradient id="cb" x1="0" y1="0" x2="0" y2="1"><stop offset="0" stop-color="#d73027"/><stop offset="0.02" stop-color="#db392c"/><stop offset="0.03" stop-color="#de4331"/><stop offset="0.05" stop-color="#e24c36"/><stop offset="0.07" stop-color="#e6553b"/><stop offset="0.08" stop-color="#ea5e40"/><stop offset="0.1" stop-color="#ed6845"/><stop offset="0.12" stop-color="#f1714a"/><stop offset="0.13" stop-color="#f57a4f"/><stop offset="0.15" stop-color="#f88454"/><stop offset="0.17" stop-color="#fc8d59"/><stop offset="0.18" stop-color="#fc955e"/><stop offset="0.2" stop-color="#fc9e64"/><stop offset="0.22" stop-color="#fda66a"/><stop offset="0.23" stop-color="#fdae6f"/><stop offset="0.25" stop-color="#fdb674"/><stop offset="0.27" stop-color="#fdbf7a"/><stop offset="0.28" stop-color="#fdc780"/><stop offset="0.3" stop-color="#fecf85"/><stop offset="0.32" stop-color="#fed88a"/><stop offset="0.33" stop-color="#fee090"/><stop offset="0.35" stop-color="#fee395"/><stop offset="0.37" stop-color="#fee699"/><stop offset="0.38" stop-color="#fee99e"/><stop offset="0.4" stop-color="#feeca3"/><stop offset="0.42" stop-color="#fef0a8"/><stop offset="0.43" stop-color="#fff3ac"/><stop offset="0.45" stop-color="#fff6b1"/><stop offset="0.47" stop-color="#fff9b6"/><stop offset="0.48" stop-color="#fffcba"/><stop offset="0.5" stop-color="#ffffbf"/><stop offset="0.52" stop-color="#fcfec5"/><stop offset="0.53" stop-color="#f9fdca"/><stop offset="0.55" stop-color="#f6fbd0"/><stop offset="0.57" stop-color="#f3fad6"/><stop offset="0.58" stop-color="#f0f9dc"/><stop offset="0.6" stop-color="#ecf8e1"/><stop offset="0.62" stop-color="#e9f7e7"/><stop offset="0.63" stop-color="#e6f5ed"/><stop offset="0.65" stop-color="#e3f4f2"/><stop offset="0.67" stop-color="#e0f3f8"/><stop offset="0.68" stop-color="#d8eef5"/><stop offset="0.7" stop-color="#d0e9f2"/><stop offset="0.72" stop-color="#c8e3ef"/><stop offset="0.73" stop-color="#c0deec"/><stop offset="0.75" stop-color="#b8d9ea"/><stop offset="0.77" stop-color="#b1d4e7"/><stop offset="0.78" stop-color="#a9cfe4"/><stop offset="0.8" stop-color="#a1c9e1"/><stop offset="0.82" stop-color="#99c4de"/><stop offset="0.83" stop-color="#91bfdb"/><stop offset="0.85" stop-color="#89b8d7"/><stop offset="0.87" stop-color="#82b0d3"/><stop offset="0.88" stop-color="#7aa9cf"/><stop offset="0.9" stop-color="#73a1cb"/><stop offset="0.92" stop-color="#6b9ac8"/><stop offset="0.93" stop-color="#6393c4"/><stop offset="0.95" stop-color="#5c8bc0"/><stop offset="0.97" stop-color="#5484bc"/><stop offset="0.98" stop-color="#4d7cb8"/><stop offset="1" stop-color="#4575b4"/></linearGradient></defs>
<rect x="504" y="31.9" width="5.3" height="76.8" fill="url(#cb)" stroke="none" stroke-width="1"/>
<text x="514" y="34.9" font-size="7" text-anchor="start" fill="#231f20" stroke="#231f20">3</text>
<text x="514" y="47.8" font-size="7" text-anchor="start" fill="#231f20" stroke="#231f20">2</text>
<text x="514" y="60.7" font-size="7" text-anchor="start" fill="#231f20" stroke="#231f20">1</text>
<text x="514" y="73.6" font-size="7" text-anchor="start" fill="#231f20" stroke="#231f20">0</text>
<text x="511.6" y="86.5" font-size="7" text-anchor="start" fill="#231f20" stroke="#231f20">−1</text>
<text x="511.6" y="99.4" font-size="7" text-anchor="start" fill="#231f20" stroke="#231f20">−2</text>
<text x="511.6" y="112.3" font-size="7" text-anchor="start" fill="#231f20" stroke="#231f20">−3</text>
<text x="423.5" y="217.8" font-size="7" text-anchor="middle" fill="#231f20" stroke="#231f20">Donor samples</text>
<path d="M391.26 33.1V31.4H398.19V33.1" stroke="#5a5a5a" stroke-width="0.5" fill="none"/>
<path d="M384.34 33.1V30.7H394.73V31.4" stroke="#5a5a5a" stroke-width="0.5" fill="none"/>
<path d="M405.11 33.1V28.4H412.04V33.1" stroke="#5a5a5a" stroke-width="0.5" fill="none"/>
<path d="M389.53 30.7V27.4H408.58V28.4" stroke="#5a5a5a" stroke-width="0.5" fill="none"/>
<path d="M377.41 33.1V24.6H399.05V27.4" stroke="#5a5a5a" stroke-width="0.5" fill="none"/>
<path d="M370.49 33.1V24H388.23V24.6" stroke="#5a5a5a" stroke-width="0.5" fill="none"/>
<path d="M363.56 33.1V21.9H379.36V24" stroke="#5a5a5a" stroke-width="0.5" fill="none"/>
<path d="M432.81 33.1V25.9H439.74V33.1" stroke="#5a5a5a" stroke-width="0.5" fill="none"/>
<path d="M488.21 33.1V31.1H495.14V33.1" stroke="#5a5a5a" stroke-width="0.5" fill="none"/>
<path d="M474.36 33.1V31.6H481.29V33.1" stroke="#5a5a5a" stroke-width="0.5" fill="none"/>
<path d="M477.83 31.6V30.3H491.68V31.1" stroke="#5a5a5a" stroke-width="0.5" fill="none"/>
<path d="M467.44 33.1V27.9H484.75V30.3" stroke="#5a5a5a" stroke-width="0.5" fill="none"/>
<path d="M460.51 33.1V24.6H476.09V27.9" stroke="#5a5a5a" stroke-width="0.5" fill="none"/>
<path d="M453.59 33.1V21.3H468.3V24.6" stroke="#5a5a5a" stroke-width="0.5" fill="none"/>
<path d="M446.66 33.1V20.2H460.95V21.3" stroke="#5a5a5a" stroke-width="0.5" fill="none"/>
<path d="M436.27 25.9V19.5H453.8V20.2" stroke="#5a5a5a" stroke-width="0.5" fill="none"/>
<path d="M418.96 33.1V19H425.89V33.1" stroke="#5a5a5a" stroke-width="0.5" fill="none"/>
<path d="M422.43 19V18.4H445.04V19.5" stroke="#5a5a5a" stroke-width="0.5" fill="none"/>
<path d="M371.46 21.9V11H433.73V18.4" stroke="#5a5a5a" stroke-width="0.5" fill="none"/>
<path d="M360.1 39.3H359.7V41.3H360.1" stroke="#5a5a5a" stroke-width="0.45" fill="none"/>
<path d="M360.1 43.3H359.66V45.3H360.1M360.1 47.29H359.49V49.29H360.1M359.66 44.3H359.04V48.29H359.49M359.04 46.3H358.5V51.29H360.1" stroke="#5a5a5a" stroke-width="0.45" fill="none"/>
<path d="M360.1 53.29H359.7V55.29H360.1M359.7 54.29H359.3V57.29H360.1M360.1 59.29H359.7V61.29H360.1M359.7 60.29H359.39V63.28H360.1M359.39 61.79H359.24V65.28H360.1M360.1 69.28H359.7V71.28H360.1M360.1 67.28H359.52V70.28H359.7M359.52 68.78H359.12V73.28H360.1M359.24 63.53H358.72V71.03H359.12M359.3 55.79H358.12V67.28H358.72M360.1 77.28H359.7V79.27H360.1M360.1 75.28H359.12V78.28H359.7M358.12 61.54H356.94V76.78H359.12M360.1 83.27H359.7V85.27H360.1M360.1 87.27H359.7V89.27H360.1M359.7 84.27H359.3V88.27H359.7M360.1 81.27H358.87V86.27H359.3M360.1 93.27H359.7V95.27H360.1M360.1 97.26H359.7V99.26H360.1M359.7 98.26H359.3V101.26H360.1M359.7 94.27H358.9V99.76H359.3M360.1 91.27H358.44V97.01H358.9M358.87 83.77H357.79V94.14H358.44M360.1 103.26H359.7V105.26H360.1M360.1 109.26H359.7V111.26H360.1M359.7 110.26H359.3V113.25H360.1M360.1 107.26H358.96V111.76H359.3M359.7 104.26H358.56V109.51H358.96M360.1 115.25H359.69V117.25H360.1M358.56 106.88H358.15V116.25H359.69M360.1 119.25H359.7V121.25H360.1M359.7 120.25H359.3V123.25H360.1M360.1 125.25H359.7V127.25H360.1M359.3 121.75H358.97V126.25H359.7M360.1 129.24H359.7V131.24H360.1M358.97 124H358.57V130.24H359.7M360.1 135.24H359.7V137.24H360.1M359.7 136.24H359.31V139.24H360.1M360.1 133.24H358.87V137.74H359.31M358.57 127.12H358.09V135.49H358.87M358.15 111.57H357.65V131.31H358.09M357.79 88.96H356.47V121.44H357.65M360.1 141.24H359.4V143.24H360.1M356.47 105.2H355.18V142.24H359.4M356.94 69.16H354.1V123.72H355.18" stroke="#5a5a5a" stroke-width="0.45" fill="none"/>
<path d="M358.5 48.79H353.3V96.44H354.1" stroke="#5a5a5a" stroke-width="0.45" fill="none"/>
<path d="M359.7 40.3H351.6V72.62H353.3" stroke="#5a5a5a" stroke-width="0.45" fill="none"/>
<path d="" stroke="#5a5a5a" stroke-width="0.45" fill="none"/>
<path d="M360.1 147.23H359.51V149.23H360.1M359.51 148.23H358.59V151.23H360.1" stroke="#5a5a5a" stroke-width="0.45" fill="none"/>
<path d="M360.1 153.23H359.01V155.23H360.1M359.01 154.23H357.74V157.23H360.1M360.1 159.23H359.61V161.22H360.1M359.61 160.23H359.21V163.22H360.1M360.1 165.22H359.79V167.22H360.1M360.1 169.22H359.86V171.22H360.1M359.86 170.22H359.77V173.22H360.1M359.79 166.22H359.69V171.72H359.77M359.69 168.97H359.41V175.22H360.1M359.41 172.09H359.13V177.22H360.1M359.13 174.65H358.73V179.21H360.1M360.1 181.21H359.7V183.21H360.1M359.7 182.21H359.3V185.21H360.1M360.1 187.21H359.7V189.21H360.1M359.7 188.21H359.3V191.21H360.1M359.3 183.71H358.9V189.71H359.3M358.73 176.93H358.22V186.71H358.9M359.21 161.72H357.24V181.82H358.22M360.1 193.21H359.7V195.2H360.1M359.7 194.2H359.12V197.2H360.1M359.12 195.7H358.57V199.2H360.1M358.57 197.45H357.67V201.2H360.1M357.24 171.77H355.85V199.33H357.67M357.74 155.73H354.48V185.55H355.85" stroke="#5a5a5a" stroke-width="0.45" fill="none"/>
<path d="M358.59 149.73H352.3V170.64H354.48" stroke="#5a5a5a" stroke-width="0.45" fill="none"/>
<path d="M360.1 145.23H349.7V160.19H352.3" stroke="#5a5a5a" stroke-width="0.45" fill="none"/>
<path d="M351.6 56.46H338.2V152.71H349.7" stroke="#5a5a5a" stroke-width="0.5" fill="none"/>
<rect x="60.1" y="220.56" width="13" height="23.94" fill="#fff" stroke="#231f20" stroke-width="1.0"/>
<rect x="78.1" y="240.77" width="13.7" height="3.73" fill="#fff" stroke="#231f20" stroke-width="1.0"/>
<circle cx="66.6" cy="193.98" r="1.25" fill="#111" stroke="none" stroke-width="1"/>
<circle cx="66.6" cy="200.57" r="1.25" fill="#111" stroke="none" stroke-width="1"/>
<circle cx="65.1" cy="205.4" r="1.25" fill="#111" stroke="none" stroke-width="1"/>
<circle cx="68" cy="205.4" r="1.25" fill="#111" stroke="none" stroke-width="1"/>
<circle cx="66.6" cy="225.17" r="1.25" fill="#111" stroke="none" stroke-width="1"/>
<circle cx="65.1" cy="234.83" r="1.25" fill="#111" stroke="none" stroke-width="1"/>
<circle cx="68" cy="236.81" r="1.25" fill="#111" stroke="none" stroke-width="1"/>
<circle cx="65.1" cy="241.86" r="1.25" fill="#111" stroke="none" stroke-width="1"/>
<circle cx="68" cy="241.86" r="1.25" fill="#111" stroke="none" stroke-width="1"/>
<circle cx="80.3" cy="240.33" r="1.25" fill="#111" stroke="none" stroke-width="1"/>
<circle cx="82.3" cy="241.21" r="1.25" fill="#111" stroke="none" stroke-width="1"/>
<circle cx="84.5" cy="239.67" r="1.25" fill="#111" stroke="none" stroke-width="1"/>
<circle cx="86.7" cy="240.99" r="1.25" fill="#111" stroke="none" stroke-width="1"/>
<circle cx="89" cy="240.33" r="1.25" fill="#111" stroke="none" stroke-width="1"/>
<circle cx="83.5" cy="241.86" r="1.25" fill="#111" stroke="none" stroke-width="1"/>
<circle cx="85.5" cy="241.64" r="1.25" fill="#111" stroke="none" stroke-width="1"/>
<circle cx="87.5" cy="241.42" r="1.25" fill="#111" stroke="none" stroke-width="1"/>
<circle cx="84.8" cy="238.79" r="1.25" fill="#111" stroke="none" stroke-width="1"/>
<circle cx="81.5" cy="242.3" r="1.25" fill="#111" stroke="none" stroke-width="1"/>
<circle cx="88" cy="242.3" r="1.25" fill="#111" stroke="none" stroke-width="1"/>
<circle cx="80.5" cy="239.23" r="1.25" fill="#111" stroke="none" stroke-width="1"/>
<circle cx="89.2" cy="239.23" r="1.25" fill="#111" stroke="none" stroke-width="1"/>
<circle cx="82.5" cy="240.11" r="1.25" fill="#111" stroke="none" stroke-width="1"/>
<circle cx="87" cy="240.11" r="1.25" fill="#111" stroke="none" stroke-width="1"/>
<circle cx="84.8" cy="240.77" r="1.25" fill="#111" stroke="none" stroke-width="1"/>
<circle cx="84.8" cy="242.74" r="1.25" fill="#111" stroke="none" stroke-width="1"/>
<line x1="66.6" y1="238.79" x2="66.6" y2="202.32" stroke="#231f20" stroke-width="0.8"/>
<line x1="64.4" y1="202.32" x2="68.8" y2="202.32" stroke="#231f20" stroke-width="0.8"/>
<line x1="64.4" y1="238.79" x2="68.8" y2="238.79" stroke="#231f20" stroke-width="0.8"/>
<line x1="84.95" y1="242.08" x2="84.95" y2="239.45" stroke="#231f20" stroke-width="0.8"/>
<line x1="82.75" y1="239.45" x2="87.15" y2="239.45" stroke="#231f20" stroke-width="0.8"/>
<line x1="82.75" y1="242.08" x2="87.15" y2="242.08" stroke="#231f20" stroke-width="0.8"/>
<line x1="53.2" y1="178.6" x2="53.2" y2="244.5" stroke="#231f20" stroke-width="0.9"/>
<line x1="51" y1="244.5" x2="53.2" y2="244.5" stroke="#231f20" stroke-width="0.9"/>
<text x="50.2" y="247" font-size="7" text-anchor="end" fill="#231f20" stroke="#231f20">0</text>
<line x1="51" y1="222.53" x2="53.2" y2="222.53" stroke="#231f20" stroke-width="0.9"/>
<text x="50.2" y="225.03" font-size="7" text-anchor="end" fill="#231f20" stroke="#231f20">500</text>
<line x1="51" y1="200.57" x2="53.2" y2="200.57" stroke="#231f20" stroke-width="0.9"/>
<text x="50.2" y="203.07" font-size="7" text-anchor="end" fill="#231f20" stroke="#231f20">1,000</text>
<line x1="51" y1="178.6" x2="53.2" y2="178.6" stroke="#231f20" stroke-width="0.9"/>
<text x="50.2" y="181.1" font-size="7" text-anchor="end" fill="#231f20" stroke="#231f20">1,500</text>
<line x1="53.2" y1="244.5" x2="97.5" y2="244.5" stroke="#231f20" stroke-width="1.0"/>
<line x1="66.6" y1="244.5" x2="66.6" y2="246.5" stroke="#231f20" stroke-width="0.8"/>
<line x1="84.95" y1="244.5" x2="84.95" y2="246.5" stroke="#231f20" stroke-width="0.8"/>
<line x1="67" y1="189.4" x2="84.9" y2="189.4" stroke="#231f20" stroke-width="0.8"/>
<text x="75.95" y="189.7" font-size="8" text-anchor="middle" fill="#231f20" stroke="#231f20">*</text>
<text x="76.6" y="171.2" font-size="7" text-anchor="middle" fill="#231f20" stroke="#231f20">CD163</text>
<text x="27.6" y="211" font-size="7" text-anchor="middle" fill="#231f20" stroke="#231f20" transform="rotate(-90 27.6 211)">Normalized counts</text>
<text x="66.6" y="257.1" font-size="7" text-anchor="middle" fill="#231f20" stroke="#231f20">+</text>
<text x="84.95" y="265.6" font-size="7" text-anchor="middle" fill="#231f20" stroke="#231f20">+</text>
<rect x="136.2" y="214.02" width="12.6" height="30.48" fill="#fff" stroke="#231f20" stroke-width="1.0"/>
<rect x="154.5" y="239.56" width="13.5" height="4.94" fill="#fff" stroke="#231f20" stroke-width="1.0"/>
<circle cx="142.6" cy="190.96" r="1.25" fill="#111" stroke="none" stroke-width="1"/>
<circle cx="139.4" cy="199.69" r="1.25" fill="#111" stroke="none" stroke-width="1"/>
<circle cx="145.9" cy="199.69" r="1.25" fill="#111" stroke="none" stroke-width="1"/>
<circle cx="142.6" cy="201.66" r="1.25" fill="#111" stroke="none" stroke-width="1"/>
<circle cx="142.6" cy="207.43" r="1.25" fill="#111" stroke="none" stroke-width="1"/>
<circle cx="142.6" cy="220.61" r="1.25" fill="#111" stroke="none" stroke-width="1"/>
<circle cx="139.4" cy="235.44" r="1.25" fill="#111" stroke="none" stroke-width="1"/>
<circle cx="142.6" cy="236.26" r="1.25" fill="#111" stroke="none" stroke-width="1"/>
<circle cx="145.9" cy="235.44" r="1.25" fill="#111" stroke="none" stroke-width="1"/>
<circle cx="161.7" cy="233.79" r="1.25" fill="#111" stroke="none" stroke-width="1"/>
<circle cx="161.7" cy="237.91" r="1.25" fill="#111" stroke="none" stroke-width="1"/>
<circle cx="156.5" cy="240.22" r="1.25" fill="#111" stroke="none" stroke-width="1"/>
<circle cx="158.5" cy="240.88" r="1.25" fill="#111" stroke="none" stroke-width="1"/>
<circle cx="160.5" cy="239.89" r="1.25" fill="#111" stroke="none" stroke-width="1"/>
<circle cx="162.5" cy="240.55" r="1.25" fill="#111" stroke="none" stroke-width="1"/>
<circle cx="164.5" cy="240.05" r="1.25" fill="#111" stroke="none" stroke-width="1"/>
<circle cx="166.3" cy="240.38" r="1.25" fill="#111" stroke="none" stroke-width="1"/>
<circle cx="158" cy="239.06" r="1.25" fill="#111" stroke="none" stroke-width="1"/>
<circle cx="163" cy="239.06" r="1.25" fill="#111" stroke="none" stroke-width="1"/>
<circle cx="161" cy="241.7" r="1.25" fill="#111" stroke="none" stroke-width="1"/>
<circle cx="157" cy="241.53" r="1.25" fill="#111" stroke="none" stroke-width="1"/>
<circle cx="165.5" cy="241.53" r="1.25" fill="#111" stroke="none" stroke-width="1"/>
<line x1="142.5" y1="231.32" x2="142.5" y2="197.55" stroke="#231f20" stroke-width="0.8"/>
<line x1="140.3" y1="197.55" x2="144.7" y2="197.55" stroke="#231f20" stroke-width="0.8"/>
<line x1="140.3" y1="231.32" x2="144.7" y2="231.32" stroke="#231f20" stroke-width="0.8"/>
<line x1="129" y1="178.6" x2="129" y2="244.5" stroke="#231f20" stroke-width="0.9"/>
<line x1="126.8" y1="244.5" x2="129" y2="244.5" stroke="#231f20" stroke-width="0.9"/>
<text x="126" y="247" font-size="7" text-anchor="end" fill="#231f20" stroke="#231f20">0</text>
<line x1="126.8" y1="228.03" x2="129" y2="228.03" stroke="#231f20" stroke-width="0.9"/>
<text x="126" y="230.53" font-size="7" text-anchor="end" fill="#231f20" stroke="#231f20">100</text>
<line x1="126.8" y1="211.55" x2="129" y2="211.55" stroke="#231f20" stroke-width="0.9"/>
<text x="126" y="214.05" font-size="7" text-anchor="end" fill="#231f20" stroke="#231f20">200</text>
<line x1="126.8" y1="195.07" x2="129" y2="195.07" stroke="#231f20" stroke-width="0.9"/>
<text x="126" y="197.57" font-size="7" text-anchor="end" fill="#231f20" stroke="#231f20">300</text>
<line x1="126.8" y1="178.6" x2="129" y2="178.6" stroke="#231f20" stroke-width="0.9"/>
<text x="126" y="181.1" font-size="7" text-anchor="end" fill="#231f20" stroke="#231f20">400</text>
<line x1="129" y1="244.5" x2="175" y2="244.5" stroke="#231f20" stroke-width="1.0"/>
<line x1="142.5" y1="244.5" x2="142.5" y2="246.5" stroke="#231f20" stroke-width="0.8"/>
<line x1="161.25" y1="244.5" x2="161.25" y2="246.5" stroke="#231f20" stroke-width="0.8"/>
<line x1="141.1" y1="183.6" x2="163.6" y2="183.6" stroke="#231f20" stroke-width="0.8"/>
<text x="152.35" y="183.9" font-size="8" text-anchor="middle" fill="#231f20" stroke="#231f20">**</text>
<text x="151.3" y="171.2" font-size="7" text-anchor="middle" fill="#231f20" stroke="#231f20">MRC1</text>
<text x="110.6" y="211" font-size="7" text-anchor="middle" fill="#231f20" stroke="#231f20" transform="rotate(-90 110.6 211)">Normalized counts</text>
<text x="142.5" y="257.1" font-size="7" text-anchor="middle" fill="#231f20" stroke="#231f20">+</text>
<text x="161.25" y="265.6" font-size="7" text-anchor="middle" fill="#231f20" stroke="#231f20">+</text>
<rect x="212.7" y="218.8" width="12.9" height="25.7" fill="#fff" stroke="#231f20" stroke-width="1.0"/>
<rect x="231.4" y="237.65" width="13.3" height="6.85" fill="#fff" stroke="#231f20" stroke-width="1.0"/>
<circle cx="219.2" cy="183.87" r="1.25" fill="#111" stroke="none" stroke-width="1"/>
<circle cx="219.2" cy="196.13" r="1.25" fill="#111" stroke="none" stroke-width="1"/>
<circle cx="219.2" cy="208.25" r="1.25" fill="#111" stroke="none" stroke-width="1"/>
<circle cx="217.7" cy="221.44" r="1.25" fill="#111" stroke="none" stroke-width="1"/>
<circle cx="220.9" cy="222.75" r="1.25" fill="#111" stroke="none" stroke-width="1"/>
<circle cx="217.7" cy="228.68" r="1.25" fill="#111" stroke="none" stroke-width="1"/>
<circle cx="220.9" cy="228.68" r="1.25" fill="#111" stroke="none" stroke-width="1"/>
<circle cx="217.7" cy="232.24" r="1.25" fill="#111" stroke="none" stroke-width="1"/>
<circle cx="220.9" cy="232.24" r="1.25" fill="#111" stroke="none" stroke-width="1"/>
<circle cx="219.2" cy="237.91" r="1.25" fill="#111" stroke="none" stroke-width="1"/>
<circle cx="233.1" cy="234.35" r="1.25" fill="#111" stroke="none" stroke-width="1"/>
<circle cx="236" cy="235.27" r="1.25" fill="#111" stroke="none" stroke-width="1"/>
<circle cx="240" cy="234.35" r="1.25" fill="#111" stroke="none" stroke-width="1"/>
<circle cx="242.5" cy="233.3" r="1.25" fill="#111" stroke="none" stroke-width="1"/>
<circle cx="236" cy="238.57" r="1.25" fill="#111" stroke="none" stroke-width="1"/>
<circle cx="240" cy="238.57" r="1.25" fill="#111" stroke="none" stroke-width="1"/>
<circle cx="235" cy="241.86" r="1.25" fill="#111" stroke="none" stroke-width="1"/>
<circle cx="240" cy="241.86" r="1.25" fill="#111" stroke="none" stroke-width="1"/>
<circle cx="238" cy="236.59" r="1.25" fill="#111" stroke="none" stroke-width="1"/>
<line x1="219.15" y1="236.2" x2="219.15" y2="201.4" stroke="#231f20" stroke-width="0.8"/>
<line x1="216.95" y1="201.4" x2="221.35" y2="201.4" stroke="#231f20" stroke-width="0.8"/>
<line x1="216.95" y1="236.2" x2="221.35" y2="236.2" stroke="#231f20" stroke-width="0.8"/>
<line x1="205.8" y1="178.6" x2="205.8" y2="244.5" stroke="#231f20" stroke-width="0.9"/>
<line x1="203.6" y1="244.5" x2="205.8" y2="244.5" stroke="#231f20" stroke-width="0.9"/>
<text x="202.8" y="247" font-size="7" text-anchor="end" fill="#231f20" stroke="#231f20">0</text>
<line x1="203.6" y1="231.32" x2="205.8" y2="231.32" stroke="#231f20" stroke-width="0.9"/>
<text x="202.8" y="233.82" font-size="7" text-anchor="end" fill="#231f20" stroke="#231f20">100</text>
<line x1="203.6" y1="218.14" x2="205.8" y2="218.14" stroke="#231f20" stroke-width="0.9"/>
<text x="202.8" y="220.64" font-size="7" text-anchor="end" fill="#231f20" stroke="#231f20">200</text>
<line x1="203.6" y1="204.96" x2="205.8" y2="204.96" stroke="#231f20" stroke-width="0.9"/>
<text x="202.8" y="207.46" font-size="7" text-anchor="end" fill="#231f20" stroke="#231f20">300</text>
<line x1="203.6" y1="191.78" x2="205.8" y2="191.78" stroke="#231f20" stroke-width="0.9"/>
<text x="202.8" y="194.28" font-size="7" text-anchor="end" fill="#231f20" stroke="#231f20">400</text>
<line x1="203.6" y1="178.6" x2="205.8" y2="178.6" stroke="#231f20" stroke-width="0.9"/>
<text x="202.8" y="181.1" font-size="7" text-anchor="end" fill="#231f20" stroke="#231f20">500</text>
<line x1="205.8" y1="244.5" x2="250.8" y2="244.5" stroke="#231f20" stroke-width="1.0"/>
<line x1="219.15" y1="244.5" x2="219.15" y2="246.5" stroke="#231f20" stroke-width="0.8"/>
<line x1="238.05" y1="244.5" x2="238.05" y2="246.5" stroke="#231f20" stroke-width="0.8"/>
<line x1="220.2" y1="179.3" x2="239.6" y2="179.3" stroke="#231f20" stroke-width="0.8"/>
<text x="229.9" y="179.6" font-size="8" text-anchor="middle" fill="#231f20" stroke="#231f20">*</text>
<text x="230" y="171.2" font-size="7" text-anchor="middle" fill="#231f20" stroke="#231f20">CD36</text>
<text x="187.6" y="211" font-size="7" text-anchor="middle" fill="#231f20" stroke="#231f20" transform="rotate(-90 187.6 211)">Normalized counts</text>
<text x="219.15" y="257.1" font-size="7" text-anchor="middle" fill="#231f20" stroke="#231f20">+</text>
<text x="238.05" y="265.6" font-size="7" text-anchor="middle" fill="#231f20" stroke="#231f20">+</text>
<rect x="285.4" y="235.27" width="12.9" height="9.23" fill="#fff" stroke="#231f20" stroke-width="1.0"/>
<rect x="304.6" y="218.14" width="12.9" height="26.36" fill="#fff" stroke="#231f20" stroke-width="1.0"/>
<circle cx="290" cy="230" r="1.25" fill="#111" stroke="none" stroke-width="1"/>
<circle cx="292.2" cy="229.34" r="1.25" fill="#111" stroke="none" stroke-width="1"/>
<circle cx="294.7" cy="230" r="1.25" fill="#111" stroke="none" stroke-width="1"/>
<circle cx="290" cy="231.98" r="1.25" fill="#111" stroke="none" stroke-width="1"/>
<circle cx="294.7" cy="231.98" r="1.25" fill="#111" stroke="none" stroke-width="1"/>
<circle cx="292.2" cy="236.59" r="1.25" fill="#111" stroke="none" stroke-width="1"/>
<circle cx="290" cy="239.23" r="1.25" fill="#111" stroke="none" stroke-width="1"/>
<circle cx="294.7" cy="239.23" r="1.25" fill="#111" stroke="none" stroke-width="1"/>
<circle cx="292.2" cy="241.21" r="1.25" fill="#111" stroke="none" stroke-width="1"/>
<circle cx="311.1" cy="185.19" r="1.25" fill="#111" stroke="none" stroke-width="1"/>
<circle cx="311.1" cy="193.76" r="1.25" fill="#111" stroke="none" stroke-width="1"/>
<circle cx="311.1" cy="218.14" r="1.25" fill="#111" stroke="none" stroke-width="1"/>
<circle cx="308.8" cy="220.12" r="1.25" fill="#111" stroke="none" stroke-width="1"/>
<circle cx="313.4" cy="220.12" r="1.25" fill="#111" stroke="none" stroke-width="1"/>
<circle cx="311.1" cy="228.03" r="1.25" fill="#111" stroke="none" stroke-width="1"/>
<circle cx="311.1" cy="230" r="1.25" fill="#111" stroke="none" stroke-width="1"/>
<circle cx="311.1" cy="234.62" r="1.25" fill="#111" stroke="none" stroke-width="1"/>
<circle cx="309" cy="224.73" r="1.25" fill="#111" stroke="none" stroke-width="1"/>
<line x1="311.05" y1="235.27" x2="311.05" y2="201.66" stroke="#231f20" stroke-width="0.8"/>
<line x1="308.85" y1="201.66" x2="313.25" y2="201.66" stroke="#231f20" stroke-width="0.8"/>
<line x1="308.85" y1="235.27" x2="313.25" y2="235.27" stroke="#231f20" stroke-width="0.8"/>
<line x1="279.3" y1="178.6" x2="279.3" y2="244.5" stroke="#231f20" stroke-width="0.9"/>
<line x1="277.1" y1="244.5" x2="279.3" y2="244.5" stroke="#231f20" stroke-width="0.9"/>
<text x="276.3" y="247" font-size="7" text-anchor="end" fill="#231f20" stroke="#231f20">0</text>
<line x1="277.1" y1="231.32" x2="279.3" y2="231.32" stroke="#231f20" stroke-width="0.9"/>
<text x="276.3" y="233.82" font-size="7" text-anchor="end" fill="#231f20" stroke="#231f20">20</text>
<line x1="277.1" y1="218.14" x2="279.3" y2="218.14" stroke="#231f20" stroke-width="0.9"/>
<text x="276.3" y="220.64" font-size="7" text-anchor="end" fill="#231f20" stroke="#231f20">40</text>
<line x1="277.1" y1="204.96" x2="279.3" y2="204.96" stroke="#231f20" stroke-width="0.9"/>
<text x="276.3" y="207.46" font-size="7" text-anchor="end" fill="#231f20" stroke="#231f20">60</text>
<line x1="277.1" y1="191.78" x2="279.3" y2="191.78" stroke="#231f20" stroke-width="0.9"/>
<text x="276.3" y="194.28" font-size="7" text-anchor="end" fill="#231f20" stroke="#231f20">80</text>
<line x1="277.1" y1="178.6" x2="279.3" y2="178.6" stroke="#231f20" stroke-width="0.9"/>
<text x="276.3" y="181.1" font-size="7" text-anchor="end" fill="#231f20" stroke="#231f20">100</text>
<line x1="279.3" y1="244.5" x2="323.5" y2="244.5" stroke="#231f20" stroke-width="1.0"/>
<line x1="291.85" y1="244.5" x2="291.85" y2="246.5" stroke="#231f20" stroke-width="0.8"/>
<line x1="311.05" y1="244.5" x2="311.05" y2="246.5" stroke="#231f20" stroke-width="0.8"/>
<line x1="289.6" y1="180" x2="314.6" y2="180" stroke="#231f20" stroke-width="0.8"/>
<text x="302.1" y="180.3" font-size="8" text-anchor="middle" fill="#231f20" stroke="#231f20">*</text>
<text x="301.6" y="171.2" font-size="7" text-anchor="middle" fill="#231f20" stroke="#231f20">NOS2</text>
<text x="262.6" y="211" font-size="7" text-anchor="middle" fill="#231f20" stroke="#231f20" transform="rotate(-90 262.6 211)">Normalized counts</text>
<text x="291.85" y="255" font-size="7" text-anchor="middle" fill="#231f20" stroke="#231f20">+</text>
<text x="311.05" y="263.5" font-size="7" text-anchor="middle" fill="#231f20" stroke="#231f20">+</text>
<text x="8" y="256.9" font-size="7.2" text-anchor="start" fill="#231f20" stroke="#231f20">Anti-KLH:</text>
<text x="8" y="266" font-size="7.2" text-anchor="start" fill="#231f20" stroke="#231f20">Anti-ILT3:</text>
<circle cx="50.83" cy="380.46" r="1.7" fill="none" stroke="#3550a8" stroke-width="0.7"/>
<circle cx="57.68" cy="367.83" r="1.7" fill="none" stroke="#3550a8" stroke-width="0.7"/>
<circle cx="54.42" cy="369.17" r="1.7" fill="none" stroke="#3550a8" stroke-width="0.7"/>
<circle cx="44.57" cy="370.46" r="1.7" fill="none" stroke="#3550a8" stroke-width="0.7"/>
<circle cx="45.71" cy="377.11" r="1.7" fill="none" stroke="#3550a8" stroke-width="0.7"/>
<circle cx="50.92" cy="379.57" r="1.7" fill="none" stroke="#3550a8" stroke-width="0.7"/>
<circle cx="51.68" cy="375.91" r="1.7" fill="none" stroke="#3550a8" stroke-width="0.7"/>
<circle cx="44.62" cy="378.89" r="1.7" fill="none" stroke="#3550a8" stroke-width="0.7"/>
<circle cx="51.27" cy="369.97" r="1.7" fill="none" stroke="#3550a8" stroke-width="0.7"/>
<circle cx="54.14" cy="379.1" r="1.7" fill="none" stroke="#3550a8" stroke-width="0.7"/>
<circle cx="56.62" cy="370.75" r="1.7" fill="none" stroke="#3550a8" stroke-width="0.7"/>
<circle cx="53.65" cy="379.33" r="1.7" fill="none" stroke="#3550a8" stroke-width="0.7"/>
<circle cx="56.16" cy="367.67" r="1.7" fill="none" stroke="#3550a8" stroke-width="0.7"/>
<circle cx="49.43" cy="371.36" r="1.7" fill="none" stroke="#3550a8" stroke-width="0.7"/>
<circle cx="56.79" cy="367.67" r="1.7" fill="none" stroke="#3550a8" stroke-width="0.7"/>
<circle cx="53.3" cy="372.19" r="1.7" fill="none" stroke="#3550a8" stroke-width="0.7"/>
<circle cx="46.13" cy="369.17" r="1.7" fill="none" stroke="#3550a8" stroke-width="0.7"/>
<circle cx="54.14" cy="374.74" r="1.7" fill="none" stroke="#3550a8" stroke-width="0.7"/>
<circle cx="55.93" cy="369.47" r="1.7" fill="none" stroke="#3550a8" stroke-width="0.7"/>
<circle cx="57.25" cy="371.04" r="1.7" fill="none" stroke="#3550a8" stroke-width="0.7"/>
<circle cx="51.09" cy="373.81" r="1.7" fill="none" stroke="#3550a8" stroke-width="0.7"/>
<circle cx="44.85" cy="377.03" r="1.7" fill="none" stroke="#3550a8" stroke-width="0.7"/>
<circle cx="47.56" cy="381.55" r="1.7" fill="none" stroke="#3550a8" stroke-width="0.7"/>
<circle cx="45.55" cy="369.82" r="1.7" fill="none" stroke="#3550a8" stroke-width="0.7"/>
<circle cx="45.53" cy="377.68" r="1.7" fill="none" stroke="#3550a8" stroke-width="0.7"/>
<circle cx="52.77" cy="378.31" r="1.7" fill="none" stroke="#3550a8" stroke-width="0.7"/>
<circle cx="52.83" cy="379.51" r="1.7" fill="none" stroke="#3550a8" stroke-width="0.7"/>
<circle cx="53.72" cy="372.02" r="1.7" fill="none" stroke="#3550a8" stroke-width="0.7"/>
<circle cx="55.24" cy="377" r="1.7" fill="none" stroke="#3550a8" stroke-width="0.7"/>
<circle cx="46.69" cy="377.4" r="1.7" fill="none" stroke="#3550a8" stroke-width="0.7"/>
<circle cx="55.07" cy="382.46" r="1.7" fill="none" stroke="#3550a8" stroke-width="0.7"/>
<circle cx="56.87" cy="370.23" r="1.7" fill="none" stroke="#3550a8" stroke-width="0.7"/>
<circle cx="55.52" cy="381.06" r="1.7" fill="none" stroke="#3550a8" stroke-width="0.7"/>
<circle cx="53.9" cy="382.08" r="1.7" fill="none" stroke="#3550a8" stroke-width="0.7"/>
<circle cx="47.23" cy="380.36" r="1.7" fill="none" stroke="#3550a8" stroke-width="0.7"/>
<circle cx="56.94" cy="370.22" r="1.7" fill="none" stroke="#3550a8" stroke-width="0.7"/>
<circle cx="51.37" cy="374.92" r="1.7" fill="none" stroke="#3550a8" stroke-width="0.7"/>
<circle cx="52.72" cy="370.65" r="1.7" fill="none" stroke="#3550a8" stroke-width="0.7"/>
<circle cx="49.11" cy="377.19" r="1.7" fill="none" stroke="#3550a8" stroke-width="0.7"/>
<circle cx="57.05" cy="379.93" r="1.7" fill="none" stroke="#3550a8" stroke-width="0.7"/>
<circle cx="44.33" cy="368.74" r="1.7" fill="none" stroke="#3550a8" stroke-width="0.7"/>
<circle cx="57.13" cy="376.34" r="1.7" fill="none" stroke="#3550a8" stroke-width="0.7"/>
<circle cx="53.65" cy="382.43" r="1.7" fill="none" stroke="#3550a8" stroke-width="0.7"/>
<circle cx="44.8" cy="383.89" r="1.7" fill="none" stroke="#3550a8" stroke-width="0.7"/>
<circle cx="44.94" cy="376.64" r="1.7" fill="none" stroke="#3550a8" stroke-width="0.7"/>
<circle cx="44.21" cy="372.26" r="1.7" fill="none" stroke="#3550a8" stroke-width="0.7"/>
<circle cx="50.49" cy="379.82" r="1.7" fill="none" stroke="#3550a8" stroke-width="0.7"/>
<circle cx="54.68" cy="375.17" r="1.7" fill="none" stroke="#3550a8" stroke-width="0.7"/>
<circle cx="54.38" cy="383.49" r="1.7" fill="none" stroke="#3550a8" stroke-width="0.7"/>
<circle cx="51.73" cy="369.22" r="1.7" fill="none" stroke="#3550a8" stroke-width="0.7"/>
<rect x="42.7" y="367.87" width="16.7" height="17.73" fill="none" stroke="#231f20" stroke-width="1.1"/>
<line x1="51.05" y1="382.54" x2="51.05" y2="353.36" stroke="#231f20" stroke-width="1.1"/>
<line x1="48.45" y1="353.36" x2="53.65" y2="353.36" stroke="#231f20" stroke-width="1.1"/>
<line x1="48.45" y1="382.54" x2="53.65" y2="382.54" stroke="#231f20" stroke-width="1.1"/>
<rect x="75.94" y="373.42" width="3.4" height="3.4" fill="none" stroke="#f3993a" stroke-width="0.7"/>
<rect x="74.74" y="375.19" width="3.4" height="3.4" fill="none" stroke="#f3993a" stroke-width="0.7"/>
<rect x="78.03" y="379.93" width="3.4" height="3.4" fill="none" stroke="#f3993a" stroke-width="0.7"/>
<rect x="70.6" y="373.83" width="3.4" height="3.4" fill="none" stroke="#f3993a" stroke-width="0.7"/>
<rect x="68.8" y="373.28" width="3.4" height="3.4" fill="none" stroke="#f3993a" stroke-width="0.7"/>
<rect x="71.68" y="370.66" width="3.4" height="3.4" fill="none" stroke="#f3993a" stroke-width="0.7"/>
<rect x="70.45" y="370.68" width="3.4" height="3.4" fill="none" stroke="#f3993a" stroke-width="0.7"/>
<rect x="79.58" y="377.86" width="3.4" height="3.4" fill="none" stroke="#f3993a" stroke-width="0.7"/>
<rect x="70.26" y="381.08" width="3.4" height="3.4" fill="none" stroke="#f3993a" stroke-width="0.7"/>
<rect x="70.61" y="378.23" width="3.4" height="3.4" fill="none" stroke="#f3993a" stroke-width="0.7"/>
<rect x="73.91" y="368.86" width="3.4" height="3.4" fill="none" stroke="#f3993a" stroke-width="0.7"/>
<rect x="70.78" y="372.21" width="3.4" height="3.4" fill="none" stroke="#f3993a" stroke-width="0.7"/>
<rect x="71.6" y="377.06" width="3.4" height="3.4" fill="none" stroke="#f3993a" stroke-width="0.7"/>
<rect x="69.87" y="370.6" width="3.4" height="3.4" fill="none" stroke="#f3993a" stroke-width="0.7"/>
<rect x="80.05" y="378.6" width="3.4" height="3.4" fill="none" stroke="#f3993a" stroke-width="0.7"/>
<rect x="76.61" y="372.22" width="3.4" height="3.4" fill="none" stroke="#f3993a" stroke-width="0.7"/>
<rect x="76.29" y="376.47" width="3.4" height="3.4" fill="none" stroke="#f3993a" stroke-width="0.7"/>
<rect x="68.33" y="372.21" width="3.4" height="3.4" fill="none" stroke="#f3993a" stroke-width="0.7"/>
<rect x="73.23" y="376.01" width="3.4" height="3.4" fill="none" stroke="#f3993a" stroke-width="0.7"/>
<rect x="77.66" y="379.4" width="3.4" height="3.4" fill="none" stroke="#f3993a" stroke-width="0.7"/>
<rect x="70.01" y="377.57" width="3.4" height="3.4" fill="none" stroke="#f3993a" stroke-width="0.7"/>
<rect x="80.38" y="375.26" width="3.4" height="3.4" fill="none" stroke="#f3993a" stroke-width="0.7"/>
<rect x="73.96" y="371.2" width="3.4" height="3.4" fill="none" stroke="#f3993a" stroke-width="0.7"/>
<rect x="71.25" y="380.43" width="3.4" height="3.4" fill="none" stroke="#f3993a" stroke-width="0.7"/>
<rect x="70.66" y="380.45" width="3.4" height="3.4" fill="none" stroke="#f3993a" stroke-width="0.7"/>
<rect x="76.86" y="370.98" width="3.4" height="3.4" fill="none" stroke="#f3993a" stroke-width="0.7"/>
<rect x="72.26" y="381.06" width="3.4" height="3.4" fill="none" stroke="#f3993a" stroke-width="0.7"/>
<rect x="67.87" y="379.91" width="3.4" height="3.4" fill="none" stroke="#f3993a" stroke-width="0.7"/>
<rect x="69.23" y="374.82" width="3.4" height="3.4" fill="none" stroke="#f3993a" stroke-width="0.7"/>
<rect x="66.87" y="375.72" width="3.4" height="3.4" fill="none" stroke="#f3993a" stroke-width="0.7"/>
<rect x="71.83" y="379.48" width="3.4" height="3.4" fill="none" stroke="#f3993a" stroke-width="0.7"/>
<rect x="69.7" y="372.92" width="3.4" height="3.4" fill="none" stroke="#f3993a" stroke-width="0.7"/>
<rect x="76.24" y="378.72" width="3.4" height="3.4" fill="none" stroke="#f3993a" stroke-width="0.7"/>
<rect x="73.51" y="370.27" width="3.4" height="3.4" fill="none" stroke="#f3993a" stroke-width="0.7"/>
<rect x="74.03" y="371.12" width="3.4" height="3.4" fill="none" stroke="#f3993a" stroke-width="0.7"/>
<rect x="79.55" y="375.54" width="3.4" height="3.4" fill="none" stroke="#f3993a" stroke-width="0.7"/>
<rect x="68.67" y="381.26" width="3.4" height="3.4" fill="none" stroke="#f3993a" stroke-width="0.7"/>
<rect x="75.12" y="369.11" width="3.4" height="3.4" fill="none" stroke="#f3993a" stroke-width="0.7"/>
<rect x="75.14" y="377.12" width="3.4" height="3.4" fill="none" stroke="#f3993a" stroke-width="0.7"/>
<rect x="67.93" y="371.62" width="3.4" height="3.4" fill="none" stroke="#f3993a" stroke-width="0.7"/>
<rect x="67.93" y="373.37" width="3.4" height="3.4" fill="none" stroke="#f3993a" stroke-width="0.7"/>
<rect x="77.06" y="374.03" width="3.4" height="3.4" fill="none" stroke="#f3993a" stroke-width="0.7"/>
<rect x="78.29" y="380.38" width="3.4" height="3.4" fill="none" stroke="#f3993a" stroke-width="0.7"/>
<rect x="68.21" y="368.9" width="3.4" height="3.4" fill="none" stroke="#f3993a" stroke-width="0.7"/>
<rect x="66.9" y="375.44" width="16.8" height="10.16" fill="none" stroke="#231f20" stroke-width="1.1"/>
<line x1="75.3" y1="381.73" x2="75.3" y2="370.04" stroke="#231f20" stroke-width="1.1"/>
<line x1="72.7" y1="370.04" x2="77.9" y2="370.04" stroke="#231f20" stroke-width="1.1"/>
<line x1="72.7" y1="381.73" x2="77.9" y2="381.73" stroke="#231f20" stroke-width="1.1"/>
<circle cx="116.74" cy="384.13" r="1.7" fill="none" stroke="#3550a8" stroke-width="0.7"/>
<circle cx="114.78" cy="383.66" r="1.7" fill="none" stroke="#3550a8" stroke-width="0.7"/>
<circle cx="114.63" cy="384.92" r="1.7" fill="none" stroke="#3550a8" stroke-width="0.7"/>
<circle cx="117.6" cy="385.1" r="1.7" fill="none" stroke="#3550a8" stroke-width="0.7"/>
<circle cx="122.53" cy="383.78" r="1.7" fill="none" stroke="#3550a8" stroke-width="0.7"/>
<circle cx="109.52" cy="384.8" r="1.7" fill="none" stroke="#3550a8" stroke-width="0.7"/>
<circle cx="122.15" cy="383.61" r="1.7" fill="none" stroke="#3550a8" stroke-width="0.7"/>
<circle cx="117.35" cy="384.38" r="1.7" fill="none" stroke="#3550a8" stroke-width="0.7"/>
<circle cx="120.09" cy="383.62" r="1.7" fill="none" stroke="#3550a8" stroke-width="0.7"/>
<circle cx="109.8" cy="383.66" r="1.7" fill="none" stroke="#3550a8" stroke-width="0.7"/>
<circle cx="112.38" cy="383.66" r="1.7" fill="none" stroke="#3550a8" stroke-width="0.7"/>
<circle cx="109.23" cy="383.61" r="1.7" fill="none" stroke="#3550a8" stroke-width="0.7"/>
<circle cx="111.27" cy="383.41" r="1.7" fill="none" stroke="#3550a8" stroke-width="0.7"/>
<circle cx="121.99" cy="384.17" r="1.7" fill="none" stroke="#3550a8" stroke-width="0.7"/>
<circle cx="111.62" cy="384.68" r="1.7" fill="none" stroke="#3550a8" stroke-width="0.7"/>
<circle cx="120.87" cy="383.85" r="1.7" fill="none" stroke="#3550a8" stroke-width="0.7"/>
<circle cx="119.1" cy="383.56" r="1.7" fill="none" stroke="#3550a8" stroke-width="0.7"/>
<circle cx="112.41" cy="383.91" r="1.7" fill="none" stroke="#3550a8" stroke-width="0.7"/>
<circle cx="109.67" cy="384.12" r="1.7" fill="none" stroke="#3550a8" stroke-width="0.7"/>
<circle cx="116.28" cy="385.15" r="1.7" fill="none" stroke="#3550a8" stroke-width="0.7"/>
<circle cx="116.07" cy="383.89" r="1.7" fill="none" stroke="#3550a8" stroke-width="0.7"/>
<circle cx="112.18" cy="384.51" r="1.7" fill="none" stroke="#3550a8" stroke-width="0.7"/>
<rect x="107.3" y="384.31" width="16.8" height="1.29" fill="none" stroke="#231f20" stroke-width="1.1"/>
<rect x="131.33" y="382.95" width="3.4" height="3.4" fill="none" stroke="#f3993a" stroke-width="0.7"/>
<rect x="144.36" y="383.22" width="3.4" height="3.4" fill="none" stroke="#f3993a" stroke-width="0.7"/>
<rect x="135.25" y="382.32" width="3.4" height="3.4" fill="none" stroke="#f3993a" stroke-width="0.7"/>
<rect x="143.08" y="382.79" width="3.4" height="3.4" fill="none" stroke="#f3993a" stroke-width="0.7"/>
<rect x="143.96" y="382.29" width="3.4" height="3.4" fill="none" stroke="#f3993a" stroke-width="0.7"/>
<rect x="137.76" y="383.37" width="3.4" height="3.4" fill="none" stroke="#f3993a" stroke-width="0.7"/>
<rect x="136.37" y="382.78" width="3.4" height="3.4" fill="none" stroke="#f3993a" stroke-width="0.7"/>
<rect x="130.33" y="383.54" width="3.4" height="3.4" fill="none" stroke="#f3993a" stroke-width="0.7"/>
<rect x="144.13" y="383.36" width="3.4" height="3.4" fill="none" stroke="#f3993a" stroke-width="0.7"/>
<rect x="143.01" y="383.31" width="3.4" height="3.4" fill="none" stroke="#f3993a" stroke-width="0.7"/>
<rect x="141.56" y="382.26" width="3.4" height="3.4" fill="none" stroke="#f3993a" stroke-width="0.7"/>
<rect x="143.95" y="382.35" width="3.4" height="3.4" fill="none" stroke="#f3993a" stroke-width="0.7"/>
<rect x="134.83" y="383.56" width="3.4" height="3.4" fill="none" stroke="#f3993a" stroke-width="0.7"/>
<rect x="135.97" y="383.47" width="3.4" height="3.4" fill="none" stroke="#f3993a" stroke-width="0.7"/>
<rect x="135.37" y="382.8" width="3.4" height="3.4" fill="none" stroke="#f3993a" stroke-width="0.7"/>
<rect x="133.11" y="382.66" width="3.4" height="3.4" fill="none" stroke="#f3993a" stroke-width="0.7"/>
<rect x="143.74" y="382.75" width="3.4" height="3.4" fill="none" stroke="#f3993a" stroke-width="0.7"/>
<rect x="138.12" y="382.5" width="3.4" height="3.4" fill="none" stroke="#f3993a" stroke-width="0.7"/>
<rect x="130.85" y="382.37" width="3.4" height="3.4" fill="none" stroke="#f3993a" stroke-width="0.7"/>
<rect x="131.7" y="382.79" width="3.4" height="3.4" fill="none" stroke="#f3993a" stroke-width="0.7"/>
<rect x="141.78" y="383.57" width="3.4" height="3.4" fill="none" stroke="#f3993a" stroke-width="0.7"/>
<rect x="140.51" y="382.28" width="3.4" height="3.4" fill="none" stroke="#f3993a" stroke-width="0.7"/>
<rect x="130.5" y="384.79" width="17.2" height="0.81" fill="none" stroke="#231f20" stroke-width="1.1"/>
<circle cx="51.5" cy="310" r="1.7" fill="none" stroke="#3550a8" stroke-width="0.7"/>
<circle cx="51.5" cy="329.26" r="1.7" fill="none" stroke="#3550a8" stroke-width="0.7"/>
<circle cx="53.5" cy="346.99" r="1.7" fill="none" stroke="#3550a8" stroke-width="0.7"/>
<circle cx="48.8" cy="350.7" r="1.7" fill="none" stroke="#3550a8" stroke-width="0.7"/>
<circle cx="46.1" cy="366.01" r="1.7" fill="none" stroke="#3550a8" stroke-width="0.7"/>
<rect x="71.2" y="355.69" width="3.4" height="3.4" fill="none" stroke="#f3993a" stroke-width="0.7"/>
<rect x="76.1" y="358.99" width="3.4" height="3.4" fill="none" stroke="#f3993a" stroke-width="0.7"/>
<line x1="34.5" y1="305" x2="34.5" y2="385.6" stroke="#231f20" stroke-width="0.9"/>
<line x1="32.3" y1="385.6" x2="34.5" y2="385.6" stroke="#231f20" stroke-width="0.9"/>
<text x="31.5" y="388.1" font-size="7" text-anchor="end" fill="#231f20" stroke="#231f20">0</text>
<line x1="32.3" y1="369.48" x2="34.5" y2="369.48" stroke="#231f20" stroke-width="0.9"/>
<text x="31.5" y="371.98" font-size="7" text-anchor="end" fill="#231f20" stroke="#231f20">20</text>
<line x1="32.3" y1="353.36" x2="34.5" y2="353.36" stroke="#231f20" stroke-width="0.9"/>
<text x="31.5" y="355.86" font-size="7" text-anchor="end" fill="#231f20" stroke="#231f20">40</text>
<line x1="32.3" y1="337.24" x2="34.5" y2="337.24" stroke="#231f20" stroke-width="0.9"/>
<text x="31.5" y="339.74" font-size="7" text-anchor="end" fill="#231f20" stroke="#231f20">60</text>
<line x1="32.3" y1="321.12" x2="34.5" y2="321.12" stroke="#231f20" stroke-width="0.9"/>
<text x="31.5" y="323.62" font-size="7" text-anchor="end" fill="#231f20" stroke="#231f20">80</text>
<line x1="32.3" y1="305" x2="34.5" y2="305" stroke="#231f20" stroke-width="0.9"/>
<text x="31.5" y="307.5" font-size="7" text-anchor="end" fill="#231f20" stroke="#231f20">100</text>
<line x1="34.5" y1="385.6" x2="156.7" y2="385.6" stroke="#231f20" stroke-width="1.0"/>
<line x1="63.7" y1="385.6" x2="63.7" y2="387.4" stroke="#231f20" stroke-width="0.8"/>
<line x1="127.7" y1="385.6" x2="127.7" y2="387.4" stroke="#231f20" stroke-width="0.8"/>
<text x="97.1" y="284.8" font-size="7" text-anchor="middle" fill="#231f20" stroke="#231f20">CD163</text>
<text x="15.6" y="342.3" font-size="7" text-anchor="middle" fill="#231f20" stroke="#231f20" transform="rotate(-90 15.6 342.3)">FPKM</text>
<text x="65.9" y="300.2" font-size="7" text-anchor="middle" fill="#231f20" stroke="#231f20"><tspan font-style="italic">P</tspan> = 0.007</text>
<line x1="52.5" y1="303.3" x2="79.3" y2="303.3" stroke="#555" stroke-width="0.8"/>
<text x="128.9" y="372.3" font-size="7" text-anchor="middle" fill="#231f20" stroke="#231f20"><tspan font-style="italic">P</tspan> = 0.04</text>
<line x1="115.5" y1="375" x2="142.3" y2="375" stroke="#555" stroke-width="0.8"/>
<circle cx="113.4" cy="313.4" r="1.8" fill="none" stroke="#5a63a8" stroke-width="0.6"/>
<text x="119.1" y="315.9" font-size="7" text-anchor="start" fill="#231f20" stroke="#231f20">FN1-high</text>
<rect x="111.7" y="321.8" width="3.4" height="3.4" fill="none" stroke="#f0b070" stroke-width="0.6"/>
<text x="119.1" y="326" font-size="7" text-anchor="start" fill="#231f20" stroke="#231f20">FN1-low</text>
<text x="63.5" y="398.4" font-size="7" text-anchor="middle" fill="#231f20" stroke="#231f20">ILT3-high</text>
<text x="127.5" y="398.4" font-size="7" text-anchor="middle" fill="#231f20" stroke="#231f20">ILT3-low</text>
<circle cx="213.99" cy="373.6" r="1.7" fill="none" stroke="#3550a8" stroke-width="0.7"/>
<circle cx="209.17" cy="370.51" r="1.7" fill="none" stroke="#3550a8" stroke-width="0.7"/>
<circle cx="219.61" cy="374.31" r="1.7" fill="none" stroke="#3550a8" stroke-width="0.7"/>
<circle cx="217.11" cy="369.4" r="1.7" fill="none" stroke="#3550a8" stroke-width="0.7"/>
<circle cx="217.15" cy="375.32" r="1.7" fill="none" stroke="#3550a8" stroke-width="0.7"/>
<circle cx="209.67" cy="384.85" r="1.7" fill="none" stroke="#3550a8" stroke-width="0.7"/>
<circle cx="219.04" cy="380.36" r="1.7" fill="none" stroke="#3550a8" stroke-width="0.7"/>
<circle cx="213.69" cy="379.33" r="1.7" fill="none" stroke="#3550a8" stroke-width="0.7"/>
<circle cx="214.71" cy="374.65" r="1.7" fill="none" stroke="#3550a8" stroke-width="0.7"/>
<circle cx="213.36" cy="370.48" r="1.7" fill="none" stroke="#3550a8" stroke-width="0.7"/>
<circle cx="221.64" cy="369.43" r="1.7" fill="none" stroke="#3550a8" stroke-width="0.7"/>
<circle cx="220.07" cy="379.26" r="1.7" fill="none" stroke="#3550a8" stroke-width="0.7"/>
<circle cx="218.18" cy="382.87" r="1.7" fill="none" stroke="#3550a8" stroke-width="0.7"/>
<circle cx="210.69" cy="368.85" r="1.7" fill="none" stroke="#3550a8" stroke-width="0.7"/>
<circle cx="209.61" cy="373.98" r="1.7" fill="none" stroke="#3550a8" stroke-width="0.7"/>
<circle cx="210.83" cy="383.02" r="1.7" fill="none" stroke="#3550a8" stroke-width="0.7"/>
<circle cx="209.86" cy="372.05" r="1.7" fill="none" stroke="#3550a8" stroke-width="0.7"/>
<circle cx="212.55" cy="372.92" r="1.7" fill="none" stroke="#3550a8" stroke-width="0.7"/>
<circle cx="214.39" cy="385.24" r="1.7" fill="none" stroke="#3550a8" stroke-width="0.7"/>
<circle cx="212.41" cy="376.21" r="1.7" fill="none" stroke="#3550a8" stroke-width="0.7"/>
<circle cx="209.85" cy="371.02" r="1.7" fill="none" stroke="#3550a8" stroke-width="0.7"/>
<circle cx="211.21" cy="381.46" r="1.7" fill="none" stroke="#3550a8" stroke-width="0.7"/>
<circle cx="218.69" cy="377.33" r="1.7" fill="none" stroke="#3550a8" stroke-width="0.7"/>
<circle cx="213.7" cy="369.42" r="1.7" fill="none" stroke="#3550a8" stroke-width="0.7"/>
<circle cx="220.82" cy="386.35" r="1.7" fill="none" stroke="#3550a8" stroke-width="0.7"/>
<circle cx="222.22" cy="385.74" r="1.7" fill="none" stroke="#3550a8" stroke-width="0.7"/>
<circle cx="209.06" cy="380.14" r="1.7" fill="none" stroke="#3550a8" stroke-width="0.7"/>
<circle cx="209.8" cy="374.9" r="1.7" fill="none" stroke="#3550a8" stroke-width="0.7"/>
<circle cx="221.23" cy="386.21" r="1.7" fill="none" stroke="#3550a8" stroke-width="0.7"/>
<circle cx="220.14" cy="368.72" r="1.7" fill="none" stroke="#3550a8" stroke-width="0.7"/>
<circle cx="211.49" cy="368.82" r="1.7" fill="none" stroke="#3550a8" stroke-width="0.7"/>
<circle cx="217.19" cy="380.84" r="1.7" fill="none" stroke="#3550a8" stroke-width="0.7"/>
<circle cx="218.58" cy="383.72" r="1.7" fill="none" stroke="#3550a8" stroke-width="0.7"/>
<circle cx="211.75" cy="380.96" r="1.7" fill="none" stroke="#3550a8" stroke-width="0.7"/>
<circle cx="218.42" cy="376.38" r="1.7" fill="none" stroke="#3550a8" stroke-width="0.7"/>
<circle cx="219.23" cy="374.81" r="1.7" fill="none" stroke="#3550a8" stroke-width="0.7"/>
<circle cx="218.59" cy="381.45" r="1.7" fill="none" stroke="#3550a8" stroke-width="0.7"/>
<circle cx="215.72" cy="374.13" r="1.7" fill="none" stroke="#3550a8" stroke-width="0.7"/>
<circle cx="213.73" cy="382.99" r="1.7" fill="none" stroke="#3550a8" stroke-width="0.7"/>
<circle cx="221.31" cy="381.25" r="1.7" fill="none" stroke="#3550a8" stroke-width="0.7"/>
<circle cx="218.03" cy="380.91" r="1.7" fill="none" stroke="#3550a8" stroke-width="0.7"/>
<circle cx="220.2" cy="372.36" r="1.7" fill="none" stroke="#3550a8" stroke-width="0.7"/>
<circle cx="213.56" cy="371.86" r="1.7" fill="none" stroke="#3550a8" stroke-width="0.7"/>
<circle cx="216.34" cy="386.03" r="1.7" fill="none" stroke="#3550a8" stroke-width="0.7"/>
<circle cx="222.32" cy="385.38" r="1.7" fill="none" stroke="#3550a8" stroke-width="0.7"/>
<rect x="207.5" y="372.02" width="16.7" height="15.98" fill="none" stroke="#231f20" stroke-width="1.1"/>
<line x1="215.85" y1="383.16" x2="215.85" y2="361.26" stroke="#231f20" stroke-width="1.1"/>
<line x1="213.25" y1="361.26" x2="218.45" y2="361.26" stroke="#231f20" stroke-width="1.1"/>
<line x1="213.25" y1="383.16" x2="218.45" y2="383.16" stroke="#231f20" stroke-width="1.1"/>
<rect x="239.75" y="378.55" width="3.4" height="3.4" fill="none" stroke="#f3993a" stroke-width="0.7"/>
<rect x="231.52" y="378.51" width="3.4" height="3.4" fill="none" stroke="#f3993a" stroke-width="0.7"/>
<rect x="242.86" y="377.02" width="3.4" height="3.4" fill="none" stroke="#f3993a" stroke-width="0.7"/>
<rect x="239.5" y="382.09" width="3.4" height="3.4" fill="none" stroke="#f3993a" stroke-width="0.7"/>
<rect x="237.4" y="378.09" width="3.4" height="3.4" fill="none" stroke="#f3993a" stroke-width="0.7"/>
<rect x="233.41" y="380.45" width="3.4" height="3.4" fill="none" stroke="#f3993a" stroke-width="0.7"/>
<rect x="232.8" y="368.4" width="3.4" height="3.4" fill="none" stroke="#f3993a" stroke-width="0.7"/>
<rect x="238.44" y="375.25" width="3.4" height="3.4" fill="none" stroke="#f3993a" stroke-width="0.7"/>
<rect x="242.15" y="371.85" width="3.4" height="3.4" fill="none" stroke="#f3993a" stroke-width="0.7"/>
<rect x="235.6" y="368.06" width="3.4" height="3.4" fill="none" stroke="#f3993a" stroke-width="0.7"/>
<rect x="239.18" y="366.69" width="3.4" height="3.4" fill="none" stroke="#f3993a" stroke-width="0.7"/>
<rect x="235.29" y="378.44" width="3.4" height="3.4" fill="none" stroke="#f3993a" stroke-width="0.7"/>
<rect x="232.42" y="369.65" width="3.4" height="3.4" fill="none" stroke="#f3993a" stroke-width="0.7"/>
<rect x="240.11" y="369.55" width="3.4" height="3.4" fill="none" stroke="#f3993a" stroke-width="0.7"/>
<rect x="236.69" y="367.42" width="3.4" height="3.4" fill="none" stroke="#f3993a" stroke-width="0.7"/>
<rect x="241.87" y="369.45" width="3.4" height="3.4" fill="none" stroke="#f3993a" stroke-width="0.7"/>
<rect x="231.98" y="369.28" width="3.4" height="3.4" fill="none" stroke="#f3993a" stroke-width="0.7"/>
<rect x="244.67" y="371.05" width="3.4" height="3.4" fill="none" stroke="#f3993a" stroke-width="0.7"/>
<rect x="237.63" y="373.25" width="3.4" height="3.4" fill="none" stroke="#f3993a" stroke-width="0.7"/>
<rect x="235.24" y="381.42" width="3.4" height="3.4" fill="none" stroke="#f3993a" stroke-width="0.7"/>
<rect x="243.82" y="372.8" width="3.4" height="3.4" fill="none" stroke="#f3993a" stroke-width="0.7"/>
<rect x="243.59" y="380.61" width="3.4" height="3.4" fill="none" stroke="#f3993a" stroke-width="0.7"/>
<rect x="237.14" y="369.33" width="3.4" height="3.4" fill="none" stroke="#f3993a" stroke-width="0.7"/>
<rect x="233.44" y="375.13" width="3.4" height="3.4" fill="none" stroke="#f3993a" stroke-width="0.7"/>
<rect x="231.7" y="379.5" width="16.8" height="8.5" fill="none" stroke="#231f20" stroke-width="1.1"/>
<line x1="240.1" y1="385.85" x2="240.1" y2="374.01" stroke="#231f20" stroke-width="1.1"/>
<line x1="237.5" y1="374.01" x2="242.7" y2="374.01" stroke="#231f20" stroke-width="1.1"/>
<line x1="237.5" y1="385.85" x2="242.7" y2="385.85" stroke="#231f20" stroke-width="1.1"/>
<circle cx="279.1" cy="385.37" r="1.7" fill="none" stroke="#3550a8" stroke-width="0.7"/>
<circle cx="280.41" cy="386.37" r="1.7" fill="none" stroke="#3550a8" stroke-width="0.7"/>
<circle cx="276.86" cy="385.75" r="1.7" fill="none" stroke="#3550a8" stroke-width="0.7"/>
<circle cx="277.12" cy="384.86" r="1.7" fill="none" stroke="#3550a8" stroke-width="0.7"/>
<circle cx="276.96" cy="384.89" r="1.7" fill="none" stroke="#3550a8" stroke-width="0.7"/>
<circle cx="274.92" cy="386.41" r="1.7" fill="none" stroke="#3550a8" stroke-width="0.7"/>
<circle cx="281.23" cy="384.92" r="1.7" fill="none" stroke="#3550a8" stroke-width="0.7"/>
<circle cx="285.25" cy="386.81" r="1.7" fill="none" stroke="#3550a8" stroke-width="0.7"/>
<circle cx="282.34" cy="385.19" r="1.7" fill="none" stroke="#3550a8" stroke-width="0.7"/>
<circle cx="276.01" cy="385.31" r="1.7" fill="none" stroke="#3550a8" stroke-width="0.7"/>
<circle cx="284.81" cy="384.88" r="1.7" fill="none" stroke="#3550a8" stroke-width="0.7"/>
<circle cx="276.63" cy="385.55" r="1.7" fill="none" stroke="#3550a8" stroke-width="0.7"/>
<circle cx="279.91" cy="384.9" r="1.7" fill="none" stroke="#3550a8" stroke-width="0.7"/>
<circle cx="284.23" cy="387.68" r="1.7" fill="none" stroke="#3550a8" stroke-width="0.7"/>
<circle cx="286.61" cy="385.29" r="1.7" fill="none" stroke="#3550a8" stroke-width="0.7"/>
<circle cx="277.52" cy="384.88" r="1.7" fill="none" stroke="#3550a8" stroke-width="0.7"/>
<circle cx="275.85" cy="384.95" r="1.7" fill="none" stroke="#3550a8" stroke-width="0.7"/>
<circle cx="281.83" cy="387.66" r="1.7" fill="none" stroke="#3550a8" stroke-width="0.7"/>
<circle cx="284.79" cy="386.79" r="1.7" fill="none" stroke="#3550a8" stroke-width="0.7"/>
<circle cx="274.6" cy="387.24" r="1.7" fill="none" stroke="#3550a8" stroke-width="0.7"/>
<circle cx="274.8" cy="386.39" r="1.7" fill="none" stroke="#3550a8" stroke-width="0.7"/>
<circle cx="277.56" cy="385.01" r="1.7" fill="none" stroke="#3550a8" stroke-width="0.7"/>
<rect x="272.1" y="386.39" width="16.8" height="1.61" fill="none" stroke="#231f20" stroke-width="1.1"/>
<rect x="308.81" y="384.15" width="3.4" height="3.4" fill="none" stroke="#f3993a" stroke-width="0.7"/>
<rect x="302.96" y="384.37" width="3.4" height="3.4" fill="none" stroke="#f3993a" stroke-width="0.7"/>
<rect x="297.78" y="385.9" width="3.4" height="3.4" fill="none" stroke="#f3993a" stroke-width="0.7"/>
<rect x="300.75" y="384.27" width="3.4" height="3.4" fill="none" stroke="#f3993a" stroke-width="0.7"/>
<rect x="306.11" y="384.84" width="3.4" height="3.4" fill="none" stroke="#f3993a" stroke-width="0.7"/>
<rect x="308.87" y="385.64" width="3.4" height="3.4" fill="none" stroke="#f3993a" stroke-width="0.7"/>
<rect x="304.43" y="385.93" width="3.4" height="3.4" fill="none" stroke="#f3993a" stroke-width="0.7"/>
<rect x="298.22" y="385.58" width="3.4" height="3.4" fill="none" stroke="#f3993a" stroke-width="0.7"/>
<rect x="308.99" y="383.66" width="3.4" height="3.4" fill="none" stroke="#f3993a" stroke-width="0.7"/>
<rect x="302.97" y="383.02" width="3.4" height="3.4" fill="none" stroke="#f3993a" stroke-width="0.7"/>
<rect x="308.62" y="384.71" width="3.4" height="3.4" fill="none" stroke="#f3993a" stroke-width="0.7"/>
<rect x="307.34" y="385.02" width="3.4" height="3.4" fill="none" stroke="#f3993a" stroke-width="0.7"/>
<rect x="305.1" y="383.13" width="3.4" height="3.4" fill="none" stroke="#f3993a" stroke-width="0.7"/>
<rect x="300.46" y="383.74" width="3.4" height="3.4" fill="none" stroke="#f3993a" stroke-width="0.7"/>
<rect x="305.46" y="385.72" width="3.4" height="3.4" fill="none" stroke="#f3993a" stroke-width="0.7"/>
<rect x="305.92" y="385.35" width="3.4" height="3.4" fill="none" stroke="#f3993a" stroke-width="0.7"/>
<rect x="299.22" y="385.19" width="3.4" height="3.4" fill="none" stroke="#f3993a" stroke-width="0.7"/>
<rect x="299.14" y="382.73" width="3.4" height="3.4" fill="none" stroke="#f3993a" stroke-width="0.7"/>
<rect x="301.25" y="383.04" width="3.4" height="3.4" fill="none" stroke="#f3993a" stroke-width="0.7"/>
<rect x="297.04" y="385.16" width="3.4" height="3.4" fill="none" stroke="#f3993a" stroke-width="0.7"/>
<rect x="295.26" y="384.38" width="3.4" height="3.4" fill="none" stroke="#f3993a" stroke-width="0.7"/>
<rect x="308.6" y="384.21" width="3.4" height="3.4" fill="none" stroke="#f3993a" stroke-width="0.7"/>
<rect x="295.3" y="386.39" width="17.2" height="1.61" fill="none" stroke="#231f20" stroke-width="1.1"/>
<circle cx="215.8" cy="329.9" r="1.7" fill="none" stroke="#3550a8" stroke-width="0.7"/>
<circle cx="211" cy="353.25" r="1.7" fill="none" stroke="#3550a8" stroke-width="0.7"/>
<circle cx="215.5" cy="353.25" r="1.7" fill="none" stroke="#3550a8" stroke-width="0.7"/>
<circle cx="220.5" cy="357.5" r="1.7" fill="none" stroke="#3550a8" stroke-width="0.7"/>
<circle cx="211.5" cy="357.98" r="1.7" fill="none" stroke="#3550a8" stroke-width="0.7"/>
<line x1="199.3" y1="307.3" x2="199.3" y2="388" stroke="#231f20" stroke-width="0.9"/>
<line x1="197.1" y1="388" x2="199.3" y2="388" stroke="#231f20" stroke-width="0.9"/>
<text x="196.3" y="390.5" font-size="7" text-anchor="end" fill="#231f20" stroke="#231f20">0</text>
<line x1="197.1" y1="361.1" x2="199.3" y2="361.1" stroke="#231f20" stroke-width="0.9"/>
<text x="196.3" y="363.6" font-size="7" text-anchor="end" fill="#231f20" stroke="#231f20">5</text>
<line x1="197.1" y1="334.2" x2="199.3" y2="334.2" stroke="#231f20" stroke-width="0.9"/>
<text x="196.3" y="336.7" font-size="7" text-anchor="end" fill="#231f20" stroke="#231f20">10</text>
<line x1="197.1" y1="307.3" x2="199.3" y2="307.3" stroke="#231f20" stroke-width="0.9"/>
<text x="196.3" y="309.8" font-size="7" text-anchor="end" fill="#231f20" stroke="#231f20">15</text>
<line x1="199.3" y1="388" x2="321.5" y2="388" stroke="#231f20" stroke-width="1.0"/>
<line x1="228.5" y1="388" x2="228.5" y2="389.8" stroke="#231f20" stroke-width="0.8"/>
<line x1="292.5" y1="388" x2="292.5" y2="389.8" stroke="#231f20" stroke-width="0.8"/>
<text x="258.3" y="287.8" font-size="7" text-anchor="middle" fill="#231f20" stroke="#231f20">MRC1</text>
<text x="185.1" y="345" font-size="7" text-anchor="middle" fill="#231f20" stroke="#231f20" transform="rotate(-90 185.1 345)">FPKM</text>
<text x="227.5" y="316.7" font-size="7" text-anchor="middle" fill="#231f20" stroke="#231f20"><tspan font-style="italic">P</tspan> = 0.003</text>
<line x1="214.1" y1="318.9" x2="240.9" y2="318.9" stroke="#555" stroke-width="0.8"/>
<text x="292.1" y="374" font-size="7" text-anchor="middle" fill="#231f20" stroke="#231f20"><tspan font-style="italic">P</tspan> = 0.91</text>
<line x1="278.7" y1="376.7" x2="305.5" y2="376.7" stroke="#555" stroke-width="0.8"/>
<circle cx="275.5" cy="312.5" r="1.8" fill="none" stroke="#5a63a8" stroke-width="0.6"/>
<text x="281.2" y="315" font-size="7" text-anchor="start" fill="#231f20" stroke="#231f20">FN1-high</text>
<rect x="273.8" y="320.9" width="3.4" height="3.4" fill="none" stroke="#f0b070" stroke-width="0.6"/>
<text x="281.2" y="325.1" font-size="7" text-anchor="start" fill="#231f20" stroke="#231f20">FN1-low</text>
<text x="228.3" y="400.2" font-size="7" text-anchor="middle" fill="#231f20" stroke="#231f20">ILT3-high</text>
<text x="292.3" y="400.2" font-size="7" text-anchor="middle" fill="#231f20" stroke="#231f20">ILT3-low</text>
<circle cx="376.75" cy="370.8" r="1.7" fill="none" stroke="#3550a8" stroke-width="0.7"/>
<circle cx="372.46" cy="373.7" r="1.7" fill="none" stroke="#3550a8" stroke-width="0.7"/>
<circle cx="375.38" cy="376.69" r="1.7" fill="none" stroke="#3550a8" stroke-width="0.7"/>
<circle cx="377.77" cy="373.78" r="1.7" fill="none" stroke="#3550a8" stroke-width="0.7"/>
<circle cx="378.64" cy="381.59" r="1.7" fill="none" stroke="#3550a8" stroke-width="0.7"/>
<circle cx="380.02" cy="385.16" r="1.7" fill="none" stroke="#3550a8" stroke-width="0.7"/>
<circle cx="373.06" cy="379.21" r="1.7" fill="none" stroke="#3550a8" stroke-width="0.7"/>
<circle cx="370.1" cy="384.96" r="1.7" fill="none" stroke="#3550a8" stroke-width="0.7"/>
<circle cx="369.04" cy="380.51" r="1.7" fill="none" stroke="#3550a8" stroke-width="0.7"/>
<circle cx="373.64" cy="373.85" r="1.7" fill="none" stroke="#3550a8" stroke-width="0.7"/>
<circle cx="376.24" cy="371.32" r="1.7" fill="none" stroke="#3550a8" stroke-width="0.7"/>
<circle cx="374.44" cy="375.32" r="1.7" fill="none" stroke="#3550a8" stroke-width="0.7"/>
<circle cx="379.63" cy="373.39" r="1.7" fill="none" stroke="#3550a8" stroke-width="0.7"/>
<circle cx="367.51" cy="378.11" r="1.7" fill="none" stroke="#3550a8" stroke-width="0.7"/>
<circle cx="371.47" cy="370.47" r="1.7" fill="none" stroke="#3550a8" stroke-width="0.7"/>
<circle cx="376.43" cy="376.19" r="1.7" fill="none" stroke="#3550a8" stroke-width="0.7"/>
<circle cx="378.44" cy="383.72" r="1.7" fill="none" stroke="#3550a8" stroke-width="0.7"/>
<circle cx="377.43" cy="384.92" r="1.7" fill="none" stroke="#3550a8" stroke-width="0.7"/>
<circle cx="372.62" cy="375.57" r="1.7" fill="none" stroke="#3550a8" stroke-width="0.7"/>
<circle cx="371.58" cy="372.51" r="1.7" fill="none" stroke="#3550a8" stroke-width="0.7"/>
<circle cx="370.8" cy="370.66" r="1.7" fill="none" stroke="#3550a8" stroke-width="0.7"/>
<circle cx="377.71" cy="375.27" r="1.7" fill="none" stroke="#3550a8" stroke-width="0.7"/>
<circle cx="375.92" cy="373.87" r="1.7" fill="none" stroke="#3550a8" stroke-width="0.7"/>
<circle cx="371.92" cy="374.94" r="1.7" fill="none" stroke="#3550a8" stroke-width="0.7"/>
<circle cx="374.6" cy="372.09" r="1.7" fill="none" stroke="#3550a8" stroke-width="0.7"/>
<circle cx="372.83" cy="386.49" r="1.7" fill="none" stroke="#3550a8" stroke-width="0.7"/>
<circle cx="369.81" cy="377.89" r="1.7" fill="none" stroke="#3550a8" stroke-width="0.7"/>
<circle cx="368.4" cy="373.85" r="1.7" fill="none" stroke="#3550a8" stroke-width="0.7"/>
<circle cx="379.47" cy="383.46" r="1.7" fill="none" stroke="#3550a8" stroke-width="0.7"/>
<circle cx="374.99" cy="373.03" r="1.7" fill="none" stroke="#3550a8" stroke-width="0.7"/>
<circle cx="378.75" cy="373.97" r="1.7" fill="none" stroke="#3550a8" stroke-width="0.7"/>
<circle cx="373.9" cy="381.69" r="1.7" fill="none" stroke="#3550a8" stroke-width="0.7"/>
<circle cx="377.21" cy="384.73" r="1.7" fill="none" stroke="#3550a8" stroke-width="0.7"/>
<circle cx="368.95" cy="384.2" r="1.7" fill="none" stroke="#3550a8" stroke-width="0.7"/>
<circle cx="378.33" cy="382.03" r="1.7" fill="none" stroke="#3550a8" stroke-width="0.7"/>
<circle cx="373.72" cy="373.43" r="1.7" fill="none" stroke="#3550a8" stroke-width="0.7"/>
<circle cx="366.63" cy="374.96" r="1.7" fill="none" stroke="#3550a8" stroke-width="0.7"/>
<circle cx="366.52" cy="382.24" r="1.7" fill="none" stroke="#3550a8" stroke-width="0.7"/>
<circle cx="368.83" cy="371.18" r="1.7" fill="none" stroke="#3550a8" stroke-width="0.7"/>
<circle cx="369.82" cy="381.25" r="1.7" fill="none" stroke="#3550a8" stroke-width="0.7"/>
<rect x="365" y="374.57" width="16.7" height="13.33" fill="none" stroke="#231f20" stroke-width="1.1"/>
<line x1="373.35" y1="387.1" x2="373.35" y2="358.19" stroke="#231f20" stroke-width="1.1"/>
<line x1="370.75" y1="358.19" x2="375.95" y2="358.19" stroke="#231f20" stroke-width="1.1"/>
<line x1="370.75" y1="387.1" x2="375.95" y2="387.1" stroke="#231f20" stroke-width="1.1"/>
<rect x="399.37" y="377.39" width="3.4" height="3.4" fill="none" stroke="#f3993a" stroke-width="0.7"/>
<rect x="396.62" y="381.88" width="3.4" height="3.4" fill="none" stroke="#f3993a" stroke-width="0.7"/>
<rect x="397.96" y="378.99" width="3.4" height="3.4" fill="none" stroke="#f3993a" stroke-width="0.7"/>
<rect x="389.6" y="384.19" width="3.4" height="3.4" fill="none" stroke="#f3993a" stroke-width="0.7"/>
<rect x="400.35" y="381.09" width="3.4" height="3.4" fill="none" stroke="#f3993a" stroke-width="0.7"/>
<rect x="390.76" y="379.12" width="3.4" height="3.4" fill="none" stroke="#f3993a" stroke-width="0.7"/>
<rect x="394.74" y="380.05" width="3.4" height="3.4" fill="none" stroke="#f3993a" stroke-width="0.7"/>
<rect x="391.5" y="380.52" width="3.4" height="3.4" fill="none" stroke="#f3993a" stroke-width="0.7"/>
<rect x="397.59" y="379.9" width="3.4" height="3.4" fill="none" stroke="#f3993a" stroke-width="0.7"/>
<rect x="389.49" y="380.58" width="3.4" height="3.4" fill="none" stroke="#f3993a" stroke-width="0.7"/>
<rect x="399.46" y="385.1" width="3.4" height="3.4" fill="none" stroke="#f3993a" stroke-width="0.7"/>
<rect x="398.04" y="377.96" width="3.4" height="3.4" fill="none" stroke="#f3993a" stroke-width="0.7"/>
<rect x="402.77" y="378.57" width="3.4" height="3.4" fill="none" stroke="#f3993a" stroke-width="0.7"/>
<rect x="396.91" y="383.32" width="3.4" height="3.4" fill="none" stroke="#f3993a" stroke-width="0.7"/>
<rect x="398.99" y="382.47" width="3.4" height="3.4" fill="none" stroke="#f3993a" stroke-width="0.7"/>
<rect x="397.99" y="383.82" width="3.4" height="3.4" fill="none" stroke="#f3993a" stroke-width="0.7"/>
<rect x="391.67" y="383.75" width="3.4" height="3.4" fill="none" stroke="#f3993a" stroke-width="0.7"/>
<rect x="392.72" y="382.43" width="3.4" height="3.4" fill="none" stroke="#f3993a" stroke-width="0.7"/>
<rect x="397.62" y="383.11" width="3.4" height="3.4" fill="none" stroke="#f3993a" stroke-width="0.7"/>
<rect x="389.32" y="381.37" width="3.4" height="3.4" fill="none" stroke="#f3993a" stroke-width="0.7"/>
<rect x="393.12" y="383.1" width="3.4" height="3.4" fill="none" stroke="#f3993a" stroke-width="0.7"/>
<rect x="399.38" y="377.54" width="3.4" height="3.4" fill="none" stroke="#f3993a" stroke-width="0.7"/>
<rect x="389.72" y="377.97" width="3.4" height="3.4" fill="none" stroke="#f3993a" stroke-width="0.7"/>
<rect x="392.93" y="382.06" width="3.4" height="3.4" fill="none" stroke="#f3993a" stroke-width="0.7"/>
<rect x="400.55" y="378.92" width="3.4" height="3.4" fill="none" stroke="#f3993a" stroke-width="0.7"/>
<rect x="393.43" y="382.54" width="3.4" height="3.4" fill="none" stroke="#f3993a" stroke-width="0.7"/>
<rect x="396.93" y="381.26" width="3.4" height="3.4" fill="none" stroke="#f3993a" stroke-width="0.7"/>
<rect x="402.08" y="377.59" width="3.4" height="3.4" fill="none" stroke="#f3993a" stroke-width="0.7"/>
<rect x="393.67" y="379.29" width="3.4" height="3.4" fill="none" stroke="#f3993a" stroke-width="0.7"/>
<rect x="392" y="382.91" width="3.4" height="3.4" fill="none" stroke="#f3993a" stroke-width="0.7"/>
<rect x="390" y="384.15" width="3.4" height="3.4" fill="none" stroke="#f3993a" stroke-width="0.7"/>
<rect x="395.51" y="385.09" width="3.4" height="3.4" fill="none" stroke="#f3993a" stroke-width="0.7"/>
<rect x="390.73" y="384.53" width="3.4" height="3.4" fill="none" stroke="#f3993a" stroke-width="0.7"/>
<rect x="402" y="382.51" width="3.4" height="3.4" fill="none" stroke="#f3993a" stroke-width="0.7"/>
<rect x="398.03" y="382.54" width="3.4" height="3.4" fill="none" stroke="#f3993a" stroke-width="0.7"/>
<rect x="394.27" y="379.8" width="3.4" height="3.4" fill="none" stroke="#f3993a" stroke-width="0.7"/>
<rect x="393.02" y="385.36" width="3.4" height="3.4" fill="none" stroke="#f3993a" stroke-width="0.7"/>
<rect x="391.27" y="383.22" width="3.4" height="3.4" fill="none" stroke="#f3993a" stroke-width="0.7"/>
<rect x="397.19" y="378.95" width="3.4" height="3.4" fill="none" stroke="#f3993a" stroke-width="0.7"/>
<rect x="389.94" y="380.32" width="3.4" height="3.4" fill="none" stroke="#f3993a" stroke-width="0.7"/>
<rect x="389.2" y="383.4" width="16.8" height="4.5" fill="none" stroke="#231f20" stroke-width="1.1"/>
<line x1="397.6" y1="387.26" x2="397.6" y2="379.87" stroke="#231f20" stroke-width="1.1"/>
<line x1="395" y1="379.87" x2="400.2" y2="379.87" stroke="#231f20" stroke-width="1.1"/>
<line x1="395" y1="387.26" x2="400.2" y2="387.26" stroke="#231f20" stroke-width="1.1"/>
<circle cx="432.08" cy="383.84" r="1.7" fill="none" stroke="#3550a8" stroke-width="0.7"/>
<circle cx="432.01" cy="380.78" r="1.7" fill="none" stroke="#3550a8" stroke-width="0.7"/>
<circle cx="438.11" cy="382.96" r="1.7" fill="none" stroke="#3550a8" stroke-width="0.7"/>
<circle cx="435.98" cy="383.92" r="1.7" fill="none" stroke="#3550a8" stroke-width="0.7"/>
<circle cx="439.06" cy="387.29" r="1.7" fill="none" stroke="#3550a8" stroke-width="0.7"/>
<circle cx="437.39" cy="385.23" r="1.7" fill="none" stroke="#3550a8" stroke-width="0.7"/>
<circle cx="441.18" cy="381.43" r="1.7" fill="none" stroke="#3550a8" stroke-width="0.7"/>
<circle cx="431.37" cy="384.99" r="1.7" fill="none" stroke="#3550a8" stroke-width="0.7"/>
<circle cx="435.18" cy="380.99" r="1.7" fill="none" stroke="#3550a8" stroke-width="0.7"/>
<circle cx="438.48" cy="386.73" r="1.7" fill="none" stroke="#3550a8" stroke-width="0.7"/>
<circle cx="440.06" cy="382.13" r="1.7" fill="none" stroke="#3550a8" stroke-width="0.7"/>
<circle cx="431.86" cy="387.04" r="1.7" fill="none" stroke="#3550a8" stroke-width="0.7"/>
<rect x="429.6" y="384.05" width="16.8" height="3.85" fill="none" stroke="#231f20" stroke-width="1.1"/>
<line x1="438" y1="387.42" x2="438" y2="379.87" stroke="#231f20" stroke-width="1.1"/>
<line x1="435.4" y1="379.87" x2="440.6" y2="379.87" stroke="#231f20" stroke-width="1.1"/>
<line x1="435.4" y1="387.42" x2="440.6" y2="387.42" stroke="#231f20" stroke-width="1.1"/>
<rect x="466.22" y="382.92" width="3.4" height="3.4" fill="none" stroke="#f3993a" stroke-width="0.7"/>
<rect x="462.56" y="384.34" width="3.4" height="3.4" fill="none" stroke="#f3993a" stroke-width="0.7"/>
<rect x="463.17" y="385.22" width="3.4" height="3.4" fill="none" stroke="#f3993a" stroke-width="0.7"/>
<rect x="458.88" y="382.51" width="3.4" height="3.4" fill="none" stroke="#f3993a" stroke-width="0.7"/>
<rect x="456.97" y="382.39" width="3.4" height="3.4" fill="none" stroke="#f3993a" stroke-width="0.7"/>
<rect x="463.85" y="383.82" width="3.4" height="3.4" fill="none" stroke="#f3993a" stroke-width="0.7"/>
<rect x="461.38" y="383.56" width="3.4" height="3.4" fill="none" stroke="#f3993a" stroke-width="0.7"/>
<rect x="459.22" y="382.71" width="3.4" height="3.4" fill="none" stroke="#f3993a" stroke-width="0.7"/>
<rect x="452.71" y="383.76" width="3.4" height="3.4" fill="none" stroke="#f3993a" stroke-width="0.7"/>
<rect x="462.95" y="385.81" width="3.4" height="3.4" fill="none" stroke="#f3993a" stroke-width="0.7"/>
<rect x="459.69" y="383.52" width="3.4" height="3.4" fill="none" stroke="#f3993a" stroke-width="0.7"/>
<rect x="457.95" y="384.02" width="3.4" height="3.4" fill="none" stroke="#f3993a" stroke-width="0.7"/>
<rect x="460.68" y="383.02" width="3.4" height="3.4" fill="none" stroke="#f3993a" stroke-width="0.7"/>
<rect x="455.37" y="382.17" width="3.4" height="3.4" fill="none" stroke="#f3993a" stroke-width="0.7"/>
<rect x="459.9" y="384.64" width="3.4" height="3.4" fill="none" stroke="#f3993a" stroke-width="0.7"/>
<rect x="464.22" y="383.48" width="3.4" height="3.4" fill="none" stroke="#f3993a" stroke-width="0.7"/>
<rect x="455.95" y="383.59" width="3.4" height="3.4" fill="none" stroke="#f3993a" stroke-width="0.7"/>
<rect x="460.43" y="384.12" width="3.4" height="3.4" fill="none" stroke="#f3993a" stroke-width="0.7"/>
<rect x="465.44" y="383.87" width="3.4" height="3.4" fill="none" stroke="#f3993a" stroke-width="0.7"/>
<rect x="465.32" y="383.81" width="3.4" height="3.4" fill="none" stroke="#f3993a" stroke-width="0.7"/>
<rect x="453.99" y="384.21" width="3.4" height="3.4" fill="none" stroke="#f3993a" stroke-width="0.7"/>
<rect x="454.05" y="385.36" width="3.4" height="3.4" fill="none" stroke="#f3993a" stroke-width="0.7"/>
<rect x="452.8" y="386.29" width="17.2" height="1.61" fill="none" stroke="#231f20" stroke-width="1.1"/>
<circle cx="373.3" cy="318.52" r="1.7" fill="none" stroke="#3550a8" stroke-width="0.7"/>
<circle cx="373.8" cy="341.33" r="1.7" fill="none" stroke="#3550a8" stroke-width="0.7"/>
<circle cx="378.3" cy="346.95" r="1.7" fill="none" stroke="#3550a8" stroke-width="0.7"/>
<circle cx="369.3" cy="349.36" r="1.7" fill="none" stroke="#3550a8" stroke-width="0.7"/>
<circle cx="372.8" cy="351.76" r="1.7" fill="none" stroke="#3550a8" stroke-width="0.7"/>
<circle cx="438" cy="364.93" r="1.7" fill="none" stroke="#3550a8" stroke-width="0.7"/>
<line x1="356.8" y1="307.6" x2="356.8" y2="387.9" stroke="#231f20" stroke-width="0.9"/>
<line x1="354.6" y1="387.9" x2="356.8" y2="387.9" stroke="#231f20" stroke-width="0.9"/>
<text x="353.8" y="390.4" font-size="7" text-anchor="end" fill="#231f20" stroke="#231f20">0</text>
<line x1="354.6" y1="371.84" x2="356.8" y2="371.84" stroke="#231f20" stroke-width="0.9"/>
<text x="353.8" y="374.34" font-size="7" text-anchor="end" fill="#231f20" stroke="#231f20">10</text>
<line x1="354.6" y1="355.78" x2="356.8" y2="355.78" stroke="#231f20" stroke-width="0.9"/>
<text x="353.8" y="358.28" font-size="7" text-anchor="end" fill="#231f20" stroke="#231f20">20</text>
<line x1="354.6" y1="339.72" x2="356.8" y2="339.72" stroke="#231f20" stroke-width="0.9"/>
<text x="353.8" y="342.22" font-size="7" text-anchor="end" fill="#231f20" stroke="#231f20">30</text>
<line x1="354.6" y1="323.66" x2="356.8" y2="323.66" stroke="#231f20" stroke-width="0.9"/>
<text x="353.8" y="326.16" font-size="7" text-anchor="end" fill="#231f20" stroke="#231f20">40</text>
<line x1="354.6" y1="307.6" x2="356.8" y2="307.6" stroke="#231f20" stroke-width="0.9"/>
<text x="353.8" y="310.1" font-size="7" text-anchor="end" fill="#231f20" stroke="#231f20">50</text>
<line x1="356.8" y1="387.9" x2="479" y2="387.9" stroke="#231f20" stroke-width="1.0"/>
<line x1="386" y1="387.9" x2="386" y2="389.7" stroke="#231f20" stroke-width="0.8"/>
<line x1="450" y1="387.9" x2="450" y2="389.7" stroke="#231f20" stroke-width="0.8"/>
<text x="416.8" y="284.8" font-size="7" text-anchor="middle" fill="#231f20" stroke="#231f20">CD36</text>
<text x="339.9" y="345" font-size="7" text-anchor="middle" fill="#231f20" stroke="#231f20" transform="rotate(-90 339.9 345)">FPKM</text>
<text x="383.2" y="309" font-size="7" text-anchor="middle" fill="#231f20" stroke="#231f20"><tspan font-style="italic">P</tspan> = 0.0004</text>
<line x1="369.8" y1="311.3" x2="396.6" y2="311.3" stroke="#555" stroke-width="0.8"/>
<text x="450.2" y="357.3" font-size="7" text-anchor="middle" fill="#231f20" stroke="#231f20"><tspan font-style="italic">P</tspan> = 0.17</text>
<line x1="436.8" y1="359.5" x2="463.6" y2="359.5" stroke="#555" stroke-width="0.8"/>
<circle cx="436.1" cy="313.6" r="1.8" fill="none" stroke="#5a63a8" stroke-width="0.6"/>
<text x="441.8" y="316.1" font-size="7" text-anchor="start" fill="#231f20" stroke="#231f20">FN1-high</text>
<rect x="434.4" y="322" width="3.4" height="3.4" fill="none" stroke="#f0b070" stroke-width="0.6"/>
<text x="441.8" y="326.2" font-size="7" text-anchor="start" fill="#231f20" stroke="#231f20">FN1-low</text>
<text x="385.8" y="400.3" font-size="7" text-anchor="middle" fill="#231f20" stroke="#231f20">ILT3-high</text>
<text x="449.8" y="400.3" font-size="7" text-anchor="middle" fill="#231f20" stroke="#231f20">ILT3-low</text>
<rect x="56.2" y="476.37" width="12.6" height="21.83" fill="#fff" stroke="#231f20" stroke-width="1.0"/>
<rect x="75.3" y="471.56" width="12.9" height="26.64" fill="#fff" stroke="#231f20" stroke-width="1.0"/>
<line x1="55.9" y1="476.37" x2="69.1" y2="476.37" stroke="#111" stroke-width="2.6"/>
<circle cx="78.44" cy="484.07" r="1.3" fill="#111" stroke="none" stroke-width="1"/>
<circle cx="84.51" cy="483.62" r="1.3" fill="#111" stroke="none" stroke-width="1"/>
<circle cx="86.25" cy="481.18" r="1.3" fill="#111" stroke="none" stroke-width="1"/>
<circle cx="81.26" cy="480.45" r="1.3" fill="#111" stroke="none" stroke-width="1"/>
<circle cx="77.42" cy="479.9" r="1.3" fill="#111" stroke="none" stroke-width="1"/>
<circle cx="83.88" cy="478.62" r="1.3" fill="#111" stroke="none" stroke-width="1"/>
<circle cx="79.44" cy="478.61" r="1.3" fill="#111" stroke="none" stroke-width="1"/>
<circle cx="86.81" cy="478.36" r="1.3" fill="#111" stroke="none" stroke-width="1"/>
<circle cx="82.02" cy="478.12" r="1.3" fill="#111" stroke="none" stroke-width="1"/>
<circle cx="76.53" cy="478" r="1.3" fill="#111" stroke="none" stroke-width="1"/>
<circle cx="78.16" cy="477.63" r="1.3" fill="#111" stroke="none" stroke-width="1"/>
<circle cx="85.1" cy="477.58" r="1.3" fill="#111" stroke="none" stroke-width="1"/>
<circle cx="80.66" cy="477.14" r="1.3" fill="#111" stroke="none" stroke-width="1"/>
<circle cx="83.42" cy="476.9" r="1.3" fill="#111" stroke="none" stroke-width="1"/>
<circle cx="86.9" cy="475.38" r="1.3" fill="#111" stroke="none" stroke-width="1"/>
<circle cx="77.45" cy="475.11" r="1.3" fill="#111" stroke="none" stroke-width="1"/>
<circle cx="81.68" cy="475.04" r="1.3" fill="#111" stroke="none" stroke-width="1"/>
<circle cx="84.88" cy="474.92" r="1.3" fill="#111" stroke="none" stroke-width="1"/>
<circle cx="79.3" cy="474.88" r="1.3" fill="#111" stroke="none" stroke-width="1"/>
<circle cx="83.72" cy="474.83" r="1.3" fill="#111" stroke="none" stroke-width="1"/>
<circle cx="80.5" cy="474.38" r="1.3" fill="#111" stroke="none" stroke-width="1"/>
<circle cx="86.7" cy="473.53" r="1.3" fill="#111" stroke="none" stroke-width="1"/>
<circle cx="76.77" cy="473.48" r="1.3" fill="#111" stroke="none" stroke-width="1"/>
<circle cx="82.79" cy="472.03" r="1.3" fill="#111" stroke="none" stroke-width="1"/>
<circle cx="78.66" cy="471.77" r="1.3" fill="#111" stroke="none" stroke-width="1"/>
<circle cx="85.01" cy="471.31" r="1.3" fill="#111" stroke="none" stroke-width="1"/>
<circle cx="76.51" cy="471.03" r="1.3" fill="#111" stroke="none" stroke-width="1"/>
<circle cx="80.69" cy="470.49" r="1.3" fill="#111" stroke="none" stroke-width="1"/>
<circle cx="83.49" cy="470.31" r="1.3" fill="#111" stroke="none" stroke-width="1"/>
<circle cx="86.19" cy="468.68" r="1.3" fill="#111" stroke="none" stroke-width="1"/>
<circle cx="82.2" cy="467.71" r="1.3" fill="#111" stroke="none" stroke-width="1"/>
<circle cx="79.71" cy="467.56" r="1.3" fill="#111" stroke="none" stroke-width="1"/>
<circle cx="76.62" cy="466.99" r="1.3" fill="#111" stroke="none" stroke-width="1"/>
<circle cx="84.2" cy="466.54" r="1.3" fill="#111" stroke="none" stroke-width="1"/>
<circle cx="81.43" cy="465.45" r="1.3" fill="#111" stroke="none" stroke-width="1"/>
<circle cx="84.85" cy="464.24" r="1.3" fill="#111" stroke="none" stroke-width="1"/>
<circle cx="86.94" cy="463.27" r="1.3" fill="#111" stroke="none" stroke-width="1"/>
<circle cx="79.88" cy="461.08" r="1.3" fill="#111" stroke="none" stroke-width="1"/>
<circle cx="80.56" cy="457.81" r="1.3" fill="#111" stroke="none" stroke-width="1"/>
<circle cx="80.17" cy="453.44" r="1.3" fill="#111" stroke="none" stroke-width="1"/>
<circle cx="79.13" cy="446.89" r="1.3" fill="#111" stroke="none" stroke-width="1"/>
<circle cx="85.49" cy="439.25" r="1.3" fill="#111" stroke="none" stroke-width="1"/>
<line x1="81.75" y1="480.73" x2="81.75" y2="461.52" stroke="#231f20" stroke-width="0.8"/>
<line x1="79.55" y1="461.52" x2="83.95" y2="461.52" stroke="#231f20" stroke-width="0.8"/>
<line x1="49" y1="432.7" x2="49" y2="498.2" stroke="#231f20" stroke-width="0.9"/>
<line x1="46.8" y1="498.2" x2="49" y2="498.2" stroke="#231f20" stroke-width="0.9"/>
<text x="46" y="500.7" font-size="7" text-anchor="end" fill="#231f20" stroke="#231f20">0</text>
<line x1="46.8" y1="476.37" x2="49" y2="476.37" stroke="#231f20" stroke-width="0.9"/>
<text x="46" y="478.87" font-size="7" text-anchor="end" fill="#231f20" stroke="#231f20">1</text>
<line x1="46.8" y1="454.53" x2="49" y2="454.53" stroke="#231f20" stroke-width="0.9"/>
<text x="46" y="457.03" font-size="7" text-anchor="end" fill="#231f20" stroke="#231f20">2</text>
<line x1="46.8" y1="432.7" x2="49" y2="432.7" stroke="#231f20" stroke-width="0.9"/>
<text x="46" y="435.2" font-size="7" text-anchor="end" fill="#231f20" stroke="#231f20">3</text>
<line x1="49" y1="498.2" x2="90.5" y2="498.2" stroke="#231f20" stroke-width="1.0"/>
<line x1="62.5" y1="498.2" x2="62.5" y2="500.2" stroke="#231f20" stroke-width="0.8"/>
<line x1="81.75" y1="498.2" x2="81.75" y2="500.2" stroke="#231f20" stroke-width="0.8"/>
<line x1="62.3" y1="431.2" x2="82.8" y2="431.2" stroke="#231f20" stroke-width="0.8"/>
<text x="72.55" y="431.5" font-size="8" text-anchor="middle" fill="#231f20" stroke="#231f20">*</text>
<text x="72.5" y="424.4" font-size="7" text-anchor="middle" fill="#231f20" stroke="#231f20">CCL3</text>
<text x="62.5" y="509.8" font-size="7" text-anchor="middle" fill="#231f20" stroke="#231f20">+</text>
<text x="81.75" y="518.3" font-size="7" text-anchor="middle" fill="#231f20" stroke="#231f20">+</text>
<rect x="114.5" y="476.37" width="13" height="21.83" fill="#fff" stroke="#231f20" stroke-width="1.0"/>
<rect x="133.25" y="472" width="13.5" height="26.2" fill="#fff" stroke="#231f20" stroke-width="1.0"/>
<line x1="114.2" y1="476.37" x2="127.8" y2="476.37" stroke="#111" stroke-width="2.6"/>
<circle cx="137.09" cy="485.18" r="1.3" fill="#111" stroke="none" stroke-width="1"/>
<circle cx="142.98" cy="484.68" r="1.3" fill="#111" stroke="none" stroke-width="1"/>
<circle cx="137.04" cy="481.96" r="1.3" fill="#111" stroke="none" stroke-width="1"/>
<circle cx="143.71" cy="481.13" r="1.3" fill="#111" stroke="none" stroke-width="1"/>
<circle cx="140.86" cy="480.52" r="1.3" fill="#111" stroke="none" stroke-width="1"/>
<circle cx="136.91" cy="479.09" r="1.3" fill="#111" stroke="none" stroke-width="1"/>
<circle cx="142.62" cy="479.08" r="1.3" fill="#111" stroke="none" stroke-width="1"/>
<circle cx="145.15" cy="478.8" r="1.3" fill="#111" stroke="none" stroke-width="1"/>
<circle cx="139.28" cy="478.53" r="1.3" fill="#111" stroke="none" stroke-width="1"/>
<circle cx="134.97" cy="478.4" r="1.3" fill="#111" stroke="none" stroke-width="1"/>
<circle cx="141.07" cy="477.98" r="1.3" fill="#111" stroke="none" stroke-width="1"/>
<circle cx="143.86" cy="477.93" r="1.3" fill="#111" stroke="none" stroke-width="1"/>
<circle cx="137.52" cy="477.43" r="1.3" fill="#111" stroke="none" stroke-width="1"/>
<circle cx="145.25" cy="477.17" r="1.3" fill="#111" stroke="none" stroke-width="1"/>
<circle cx="136.08" cy="475.46" r="1.3" fill="#111" stroke="none" stroke-width="1"/>
<circle cx="141.17" cy="475.16" r="1.3" fill="#111" stroke="none" stroke-width="1"/>
<circle cx="144.19" cy="475.09" r="1.3" fill="#111" stroke="none" stroke-width="1"/>
<circle cx="138.55" cy="474.96" r="1.3" fill="#111" stroke="none" stroke-width="1"/>
<circle cx="142.63" cy="474.91" r="1.3" fill="#111" stroke="none" stroke-width="1"/>
<circle cx="139.9" cy="474.86" r="1.3" fill="#111" stroke="none" stroke-width="1"/>
<circle cx="134.75" cy="474.35" r="1.3" fill="#111" stroke="none" stroke-width="1"/>
<circle cx="137.1" cy="473.41" r="1.3" fill="#111" stroke="none" stroke-width="1"/>
<circle cx="145.28" cy="473.35" r="1.3" fill="#111" stroke="none" stroke-width="1"/>
<circle cx="134.83" cy="471.73" r="1.3" fill="#111" stroke="none" stroke-width="1"/>
<circle cx="143.96" cy="471.43" r="1.3" fill="#111" stroke="none" stroke-width="1"/>
<circle cx="137.69" cy="470.92" r="1.3" fill="#111" stroke="none" stroke-width="1"/>
<circle cx="141.76" cy="470.61" r="1.3" fill="#111" stroke="none" stroke-width="1"/>
<circle cx="139.69" cy="470" r="1.3" fill="#111" stroke="none" stroke-width="1"/>
<circle cx="135.65" cy="469.8" r="1.3" fill="#111" stroke="none" stroke-width="1"/>
<circle cx="144.18" cy="467.98" r="1.3" fill="#111" stroke="none" stroke-width="1"/>
<circle cx="141.32" cy="466.89" r="1.3" fill="#111" stroke="none" stroke-width="1"/>
<circle cx="136.56" cy="466.73" r="1.3" fill="#111" stroke="none" stroke-width="1"/>
<circle cx="138.9" cy="466.54" r="1.3" fill="#111" stroke="none" stroke-width="1"/>
<circle cx="145.06" cy="466.1" r="1.3" fill="#111" stroke="none" stroke-width="1"/>
<circle cx="142.84" cy="465.45" r="1.3" fill="#111" stroke="none" stroke-width="1"/>
<circle cx="139.79" cy="464.36" r="1.3" fill="#111" stroke="none" stroke-width="1"/>
<circle cx="144.48" cy="463.02" r="1.3" fill="#111" stroke="none" stroke-width="1"/>
<circle cx="138.99" cy="462.18" r="1.3" fill="#111" stroke="none" stroke-width="1"/>
<circle cx="136.49" cy="451.26" r="1.3" fill="#111" stroke="none" stroke-width="1"/>
<circle cx="143.92" cy="450.17" r="1.3" fill="#111" stroke="none" stroke-width="1"/>
<line x1="140" y1="479.64" x2="140" y2="464.36" stroke="#231f20" stroke-width="0.8"/>
<line x1="137.8" y1="464.36" x2="142.2" y2="464.36" stroke="#231f20" stroke-width="0.8"/>
<line x1="108.75" y1="432.7" x2="108.75" y2="498.2" stroke="#231f20" stroke-width="0.9"/>
<line x1="106.55" y1="498.2" x2="108.75" y2="498.2" stroke="#231f20" stroke-width="0.9"/>
<text x="105.75" y="500.7" font-size="7" text-anchor="end" fill="#231f20" stroke="#231f20">0</text>
<line x1="106.55" y1="476.37" x2="108.75" y2="476.37" stroke="#231f20" stroke-width="0.9"/>
<text x="105.75" y="478.87" font-size="7" text-anchor="end" fill="#231f20" stroke="#231f20">1</text>
<line x1="106.55" y1="454.53" x2="108.75" y2="454.53" stroke="#231f20" stroke-width="0.9"/>
<text x="105.75" y="457.03" font-size="7" text-anchor="end" fill="#231f20" stroke="#231f20">2</text>
<line x1="106.55" y1="432.7" x2="108.75" y2="432.7" stroke="#231f20" stroke-width="0.9"/>
<text x="105.75" y="435.2" font-size="7" text-anchor="end" fill="#231f20" stroke="#231f20">3</text>
<line x1="108.75" y1="498.2" x2="149.5" y2="498.2" stroke="#231f20" stroke-width="1.0"/>
<line x1="121" y1="498.2" x2="121" y2="500.2" stroke="#231f20" stroke-width="0.8"/>
<line x1="140" y1="498.2" x2="140" y2="500.2" stroke="#231f20" stroke-width="0.8"/>
<line x1="122" y1="439.25" x2="142.5" y2="439.25" stroke="#231f20" stroke-width="0.8"/>
<text x="132.25" y="439.55" font-size="8" text-anchor="middle" fill="#231f20" stroke="#231f20">*</text>
<text x="131.3" y="423.7" font-size="7" text-anchor="middle" fill="#231f20" stroke="#231f20">CCL4</text>
<text x="121" y="509.8" font-size="7" text-anchor="middle" fill="#231f20" stroke="#231f20">+</text>
<text x="140" y="518.3" font-size="7" text-anchor="middle" fill="#231f20" stroke="#231f20">+</text>
<rect x="176.25" y="465.35" width="13.25" height="32.85" fill="#fff" stroke="#231f20" stroke-width="1.0"/>
<rect x="195" y="462.06" width="13" height="36.13" fill="#fff" stroke="#231f20" stroke-width="1.0"/>
<line x1="175.95" y1="465.35" x2="189.8" y2="465.35" stroke="#111" stroke-width="2.6"/>
<circle cx="200.97" cy="476.85" r="1.3" fill="#111" stroke="none" stroke-width="1"/>
<circle cx="201.72" cy="474.43" r="1.3" fill="#111" stroke="none" stroke-width="1"/>
<circle cx="206.7" cy="473.87" r="1.3" fill="#111" stroke="none" stroke-width="1"/>
<circle cx="205.92" cy="470.86" r="1.3" fill="#111" stroke="none" stroke-width="1"/>
<circle cx="201.71" cy="469.94" r="1.3" fill="#111" stroke="none" stroke-width="1"/>
<circle cx="198.37" cy="469.26" r="1.3" fill="#111" stroke="none" stroke-width="1"/>
<circle cx="196.57" cy="467.68" r="1.3" fill="#111" stroke="none" stroke-width="1"/>
<circle cx="206.05" cy="467.67" r="1.3" fill="#111" stroke="none" stroke-width="1"/>
<circle cx="200.99" cy="467.35" r="1.3" fill="#111" stroke="none" stroke-width="1"/>
<circle cx="203.59" cy="467.05" r="1.3" fill="#111" stroke="none" stroke-width="1"/>
<circle cx="198.83" cy="466.91" r="1.3" fill="#111" stroke="none" stroke-width="1"/>
<circle cx="205" cy="466.45" r="1.3" fill="#111" stroke="none" stroke-width="1"/>
<circle cx="197.48" cy="466.39" r="1.3" fill="#111" stroke="none" stroke-width="1"/>
<circle cx="202.19" cy="465.84" r="1.3" fill="#111" stroke="none" stroke-width="1"/>
<circle cx="200.1" cy="465.55" r="1.3" fill="#111" stroke="none" stroke-width="1"/>
<circle cx="197.35" cy="463.66" r="1.3" fill="#111" stroke="none" stroke-width="1"/>
<circle cx="204.13" cy="463.32" r="1.3" fill="#111" stroke="none" stroke-width="1"/>
<circle cx="200.09" cy="463.25" r="1.3" fill="#111" stroke="none" stroke-width="1"/>
<circle cx="206.74" cy="463.1" r="1.3" fill="#111" stroke="none" stroke-width="1"/>
<circle cx="202.17" cy="463.04" r="1.3" fill="#111" stroke="none" stroke-width="1"/>
<circle cx="198.39" cy="462.99" r="1.3" fill="#111" stroke="none" stroke-width="1"/>
<circle cx="205.28" cy="462.43" r="1.3" fill="#111" stroke="none" stroke-width="1"/>
<circle cx="197.02" cy="461.38" r="1.3" fill="#111" stroke="none" stroke-width="1"/>
<circle cx="200.78" cy="461.31" r="1.3" fill="#111" stroke="none" stroke-width="1"/>
<circle cx="205.83" cy="459.51" r="1.3" fill="#111" stroke="none" stroke-width="1"/>
<circle cx="198.47" cy="459.19" r="1.3" fill="#111" stroke="none" stroke-width="1"/>
<circle cx="201.35" cy="458.62" r="1.3" fill="#111" stroke="none" stroke-width="1"/>
<circle cx="203.78" cy="458.27" r="1.3" fill="#111" stroke="none" stroke-width="1"/>
<circle cx="196.42" cy="457.6" r="1.3" fill="#111" stroke="none" stroke-width="1"/>
<circle cx="206.45" cy="457.38" r="1.3" fill="#111" stroke="none" stroke-width="1"/>
<circle cx="201.35" cy="455.36" r="1.3" fill="#111" stroke="none" stroke-width="1"/>
<circle cx="205.23" cy="454.16" r="1.3" fill="#111" stroke="none" stroke-width="1"/>
<circle cx="196.9" cy="453.98" r="1.3" fill="#111" stroke="none" stroke-width="1"/>
<circle cx="200.37" cy="453.27" r="1.3" fill="#111" stroke="none" stroke-width="1"/>
<circle cx="203.64" cy="452.21" r="1.3" fill="#111" stroke="none" stroke-width="1"/>
<circle cx="196.81" cy="451.22" r="1.3" fill="#111" stroke="none" stroke-width="1"/>
<circle cx="201.8" cy="450.57" r="1.3" fill="#111" stroke="none" stroke-width="1"/>
<circle cx="205.6" cy="449.86" r="1.3" fill="#111" stroke="none" stroke-width="1"/>
<circle cx="198.64" cy="449.58" r="1.3" fill="#111" stroke="none" stroke-width="1"/>
<line x1="201.5" y1="468.63" x2="201.5" y2="455.5" stroke="#231f20" stroke-width="0.8"/>
<line x1="199.3" y1="455.5" x2="203.7" y2="455.5" stroke="#231f20" stroke-width="0.8"/>
<line x1="170" y1="432.5" x2="170" y2="498.2" stroke="#231f20" stroke-width="0.9"/>
<line x1="167.8" y1="498.2" x2="170" y2="498.2" stroke="#231f20" stroke-width="0.9"/>
<text x="167" y="500.7" font-size="7" text-anchor="end" fill="#231f20" stroke="#231f20">0</text>
<line x1="167.8" y1="481.77" x2="170" y2="481.77" stroke="#231f20" stroke-width="0.9"/>
<text x="167" y="484.27" font-size="7" text-anchor="end" fill="#231f20" stroke="#231f20">0.5</text>
<line x1="167.8" y1="465.35" x2="170" y2="465.35" stroke="#231f20" stroke-width="0.9"/>
<text x="167" y="467.85" font-size="7" text-anchor="end" fill="#231f20" stroke="#231f20">1.0</text>
<line x1="167.8" y1="448.93" x2="170" y2="448.93" stroke="#231f20" stroke-width="0.9"/>
<text x="167" y="451.43" font-size="7" text-anchor="end" fill="#231f20" stroke="#231f20">1.5</text>
<line x1="167.8" y1="432.5" x2="170" y2="432.5" stroke="#231f20" stroke-width="0.9"/>
<text x="167" y="435" font-size="7" text-anchor="end" fill="#231f20" stroke="#231f20">2.0</text>
<line x1="170" y1="498.2" x2="212" y2="498.2" stroke="#231f20" stroke-width="1.0"/>
<line x1="182.88" y1="498.2" x2="182.88" y2="500.2" stroke="#231f20" stroke-width="0.8"/>
<line x1="201.5" y1="498.2" x2="201.5" y2="500.2" stroke="#231f20" stroke-width="0.8"/>
<line x1="182" y1="438.75" x2="203.75" y2="438.75" stroke="#231f20" stroke-width="0.8"/>
<text x="192.88" y="439.05" font-size="8" text-anchor="middle" fill="#231f20" stroke="#231f20">*</text>
<text x="193" y="423.7" font-size="7" text-anchor="middle" fill="#231f20" stroke="#231f20">CCL5</text>
<text x="182.88" y="509.8" font-size="7" text-anchor="middle" fill="#231f20" stroke="#231f20">+</text>
<text x="201.5" y="518.3" font-size="7" text-anchor="middle" fill="#231f20" stroke="#231f20">+</text>
<rect x="236.75" y="476.37" width="13.25" height="21.83" fill="#fff" stroke="#231f20" stroke-width="1.0"/>
<rect x="255.5" y="470.25" width="13.25" height="27.95" fill="#fff" stroke="#231f20" stroke-width="1.0"/>
<line x1="236.45" y1="476.37" x2="250.3" y2="476.37" stroke="#111" stroke-width="2.6"/>
<circle cx="260.57" cy="478.34" r="1.3" fill="#111" stroke="none" stroke-width="1"/>
<circle cx="264.67" cy="477.29" r="1.3" fill="#111" stroke="none" stroke-width="1"/>
<circle cx="257.08" cy="476.91" r="1.3" fill="#111" stroke="none" stroke-width="1"/>
<circle cx="262.36" cy="475.77" r="1.3" fill="#111" stroke="none" stroke-width="1"/>
<circle cx="258.96" cy="475.24" r="1.3" fill="#111" stroke="none" stroke-width="1"/>
<circle cx="265.6" cy="474.32" r="1.3" fill="#111" stroke="none" stroke-width="1"/>
<circle cx="256.87" cy="474.31" r="1.3" fill="#111" stroke="none" stroke-width="1"/>
<circle cx="261.05" cy="474.21" r="1.3" fill="#111" stroke="none" stroke-width="1"/>
<circle cx="263.55" cy="473.99" r="1.3" fill="#111" stroke="none" stroke-width="1"/>
<circle cx="258.33" cy="473.81" r="1.3" fill="#111" stroke="none" stroke-width="1"/>
<circle cx="267.37" cy="473.55" r="1.3" fill="#111" stroke="none" stroke-width="1"/>
<circle cx="262.2" cy="473.33" r="1.3" fill="#111" stroke="none" stroke-width="1"/>
<circle cx="264.71" cy="473.31" r="1.3" fill="#111" stroke="none" stroke-width="1"/>
<circle cx="259.51" cy="472.93" r="1.3" fill="#111" stroke="none" stroke-width="1"/>
<circle cx="257.05" cy="472.76" r="1.3" fill="#111" stroke="none" stroke-width="1"/>
<circle cx="263.56" cy="472.68" r="1.3" fill="#111" stroke="none" stroke-width="1"/>
<circle cx="266.35" cy="472.45" r="1.3" fill="#111" stroke="none" stroke-width="1"/>
<circle cx="258.43" cy="472.36" r="1.3" fill="#111" stroke="none" stroke-width="1"/>
<circle cx="260.97" cy="472.31" r="1.3" fill="#111" stroke="none" stroke-width="1"/>
<circle cx="264.4" cy="471.45" r="1.3" fill="#111" stroke="none" stroke-width="1"/>
<circle cx="262.52" cy="471.11" r="1.3" fill="#111" stroke="none" stroke-width="1"/>
<circle cx="259.66" cy="470.74" r="1.3" fill="#111" stroke="none" stroke-width="1"/>
<circle cx="257.15" cy="470.73" r="1.3" fill="#111" stroke="none" stroke-width="1"/>
<circle cx="267.4" cy="470.29" r="1.3" fill="#111" stroke="none" stroke-width="1"/>
<circle cx="265.28" cy="470.11" r="1.3" fill="#111" stroke="none" stroke-width="1"/>
<circle cx="261.19" cy="470.1" r="1.3" fill="#111" stroke="none" stroke-width="1"/>
<circle cx="263.11" cy="469.4" r="1.3" fill="#111" stroke="none" stroke-width="1"/>
<circle cx="257.97" cy="468.44" r="1.3" fill="#111" stroke="none" stroke-width="1"/>
<circle cx="266.37" cy="468.21" r="1.3" fill="#111" stroke="none" stroke-width="1"/>
<circle cx="258.35" cy="466.13" r="1.3" fill="#111" stroke="none" stroke-width="1"/>
<circle cx="267.4" cy="463.27" r="1.3" fill="#111" stroke="none" stroke-width="1"/>
<circle cx="257.99" cy="462.18" r="1.3" fill="#111" stroke="none" stroke-width="1"/>
<circle cx="260.63" cy="459.99" r="1.3" fill="#111" stroke="none" stroke-width="1"/>
<circle cx="258.91" cy="457.81" r="1.3" fill="#111" stroke="none" stroke-width="1"/>
<circle cx="267.01" cy="456.72" r="1.3" fill="#111" stroke="none" stroke-width="1"/>
<circle cx="256.89" cy="455.62" r="1.3" fill="#111" stroke="none" stroke-width="1"/>
<line x1="262.12" y1="477.46" x2="262.12" y2="463.27" stroke="#231f20" stroke-width="0.8"/>
<line x1="259.93" y1="463.27" x2="264.32" y2="463.27" stroke="#231f20" stroke-width="0.8"/>
<line x1="230.75" y1="432.7" x2="230.75" y2="498.2" stroke="#231f20" stroke-width="0.9"/>
<line x1="228.55" y1="498.2" x2="230.75" y2="498.2" stroke="#231f20" stroke-width="0.9"/>
<text x="227.75" y="500.7" font-size="7" text-anchor="end" fill="#231f20" stroke="#231f20">0</text>
<line x1="228.55" y1="476.37" x2="230.75" y2="476.37" stroke="#231f20" stroke-width="0.9"/>
<text x="227.75" y="478.87" font-size="7" text-anchor="end" fill="#231f20" stroke="#231f20">1</text>
<line x1="228.55" y1="454.53" x2="230.75" y2="454.53" stroke="#231f20" stroke-width="0.9"/>
<text x="227.75" y="457.03" font-size="7" text-anchor="end" fill="#231f20" stroke="#231f20">2</text>
<line x1="228.55" y1="432.7" x2="230.75" y2="432.7" stroke="#231f20" stroke-width="0.9"/>
<text x="227.75" y="435.2" font-size="7" text-anchor="end" fill="#231f20" stroke="#231f20">3</text>
<line x1="230.75" y1="498.2" x2="271.25" y2="498.2" stroke="#231f20" stroke-width="1.0"/>
<line x1="243.38" y1="498.2" x2="243.38" y2="500.2" stroke="#231f20" stroke-width="0.8"/>
<line x1="262.12" y1="498.2" x2="262.12" y2="500.2" stroke="#231f20" stroke-width="0.8"/>
<line x1="242" y1="443" x2="263.75" y2="443" stroke="#231f20" stroke-width="0.8"/>
<text x="252.88" y="443.3" font-size="8" text-anchor="middle" fill="#231f20" stroke="#231f20">**</text>
<text x="252.5" y="423" font-size="7" text-anchor="middle" fill="#231f20" stroke="#231f20">IL8</text>
<text x="243.38" y="509.8" font-size="7" text-anchor="middle" fill="#231f20" stroke="#231f20">+</text>
<text x="262.12" y="518.3" font-size="7" text-anchor="middle" fill="#231f20" stroke="#231f20">+</text>
<rect x="298.25" y="492.72" width="13" height="5.48" fill="#fff" stroke="#231f20" stroke-width="1.0"/>
<rect x="316.75" y="487.25" width="13.25" height="10.95" fill="#fff" stroke="#231f20" stroke-width="1.0"/>
<line x1="297.95" y1="492.72" x2="311.55" y2="492.72" stroke="#111" stroke-width="2.6"/>
<circle cx="323.68" cy="445.09" r="1.3" fill="#111" stroke="none" stroke-width="1"/>
<circle cx="323.18" cy="459.88" r="1.3" fill="#111" stroke="none" stroke-width="1"/>
<circle cx="322.57" cy="464.8" r="1.3" fill="#111" stroke="none" stroke-width="1"/>
<circle cx="327.89" cy="496.23" r="1.3" fill="#111" stroke="none" stroke-width="1"/>
<circle cx="319.22" cy="495.32" r="1.3" fill="#111" stroke="none" stroke-width="1"/>
<circle cx="325.83" cy="494.96" r="1.3" fill="#111" stroke="none" stroke-width="1"/>
<circle cx="323.65" cy="494.2" r="1.3" fill="#111" stroke="none" stroke-width="1"/>
<circle cx="328.23" cy="493.81" r="1.3" fill="#111" stroke="none" stroke-width="1"/>
<circle cx="321.36" cy="493.53" r="1.3" fill="#111" stroke="none" stroke-width="1"/>
<circle cx="318.18" cy="493.12" r="1.3" fill="#111" stroke="none" stroke-width="1"/>
<circle cx="326.55" cy="493.1" r="1.3" fill="#111" stroke="none" stroke-width="1"/>
<circle cx="324.63" cy="492.29" r="1.3" fill="#111" stroke="none" stroke-width="1"/>
<circle cx="322.72" cy="492.26" r="1.3" fill="#111" stroke="none" stroke-width="1"/>
<circle cx="327.91" cy="492.24" r="1.3" fill="#111" stroke="none" stroke-width="1"/>
<circle cx="319.94" cy="492.15" r="1.3" fill="#111" stroke="none" stroke-width="1"/>
<circle cx="325.89" cy="492.13" r="1.3" fill="#111" stroke="none" stroke-width="1"/>
<circle cx="321.27" cy="492.02" r="1.3" fill="#111" stroke="none" stroke-width="1"/>
<circle cx="318.76" cy="491.95" r="1.3" fill="#111" stroke="none" stroke-width="1"/>
<circle cx="326.89" cy="491.65" r="1.3" fill="#111" stroke="none" stroke-width="1"/>
<circle cx="322.18" cy="491.34" r="1.3" fill="#111" stroke="none" stroke-width="1"/>
<circle cx="323.75" cy="490.98" r="1.3" fill="#111" stroke="none" stroke-width="1"/>
<circle cx="328.35" cy="490.79" r="1.3" fill="#111" stroke="none" stroke-width="1"/>
<circle cx="325.49" cy="490.57" r="1.3" fill="#111" stroke="none" stroke-width="1"/>
<circle cx="319.75" cy="490.55" r="1.3" fill="#111" stroke="none" stroke-width="1"/>
<circle cx="318.21" cy="490.3" r="1.3" fill="#111" stroke="none" stroke-width="1"/>
<circle cx="321.42" cy="490.06" r="1.3" fill="#111" stroke="none" stroke-width="1"/>
<circle cx="324.41" cy="489.91" r="1.3" fill="#111" stroke="none" stroke-width="1"/>
<circle cx="327.03" cy="489.9" r="1.3" fill="#111" stroke="none" stroke-width="1"/>
<circle cx="319.08" cy="488.11" r="1.3" fill="#111" stroke="none" stroke-width="1"/>
<circle cx="324.96" cy="487.25" r="1.3" fill="#111" stroke="none" stroke-width="1"/>
<circle cx="328.18" cy="486.15" r="1.3" fill="#111" stroke="none" stroke-width="1"/>
<circle cx="326.02" cy="483.42" r="1.3" fill="#111" stroke="none" stroke-width="1"/>
<circle cx="327.55" cy="478.49" r="1.3" fill="#111" stroke="none" stroke-width="1"/>
<line x1="323.38" y1="496.01" x2="323.38" y2="476.3" stroke="#231f20" stroke-width="0.8"/>
<line x1="321.18" y1="476.3" x2="325.57" y2="476.3" stroke="#231f20" stroke-width="0.8"/>
<line x1="292" y1="432.5" x2="292" y2="498.2" stroke="#231f20" stroke-width="0.9"/>
<line x1="289.8" y1="498.2" x2="292" y2="498.2" stroke="#231f20" stroke-width="0.9"/>
<text x="289" y="500.7" font-size="7" text-anchor="end" fill="#231f20" stroke="#231f20">0</text>
<line x1="289.8" y1="487.25" x2="292" y2="487.25" stroke="#231f20" stroke-width="0.9"/>
<text x="289" y="489.75" font-size="7" text-anchor="end" fill="#231f20" stroke="#231f20">2</text>
<line x1="289.8" y1="476.3" x2="292" y2="476.3" stroke="#231f20" stroke-width="0.9"/>
<text x="289" y="478.8" font-size="7" text-anchor="end" fill="#231f20" stroke="#231f20">4</text>
<line x1="289.8" y1="465.35" x2="292" y2="465.35" stroke="#231f20" stroke-width="0.9"/>
<text x="289" y="467.85" font-size="7" text-anchor="end" fill="#231f20" stroke="#231f20">6</text>
<line x1="289.8" y1="454.4" x2="292" y2="454.4" stroke="#231f20" stroke-width="0.9"/>
<text x="289" y="456.9" font-size="7" text-anchor="end" fill="#231f20" stroke="#231f20">8</text>
<line x1="289.8" y1="443.45" x2="292" y2="443.45" stroke="#231f20" stroke-width="0.9"/>
<text x="289" y="445.95" font-size="7" text-anchor="end" fill="#231f20" stroke="#231f20">10</text>
<line x1="289.8" y1="432.5" x2="292" y2="432.5" stroke="#231f20" stroke-width="0.9"/>
<text x="289" y="435" font-size="7" text-anchor="end" fill="#231f20" stroke="#231f20">12</text>
<line x1="292" y1="498.2" x2="334.5" y2="498.2" stroke="#231f20" stroke-width="1.0"/>
<line x1="304.75" y1="498.2" x2="304.75" y2="500.2" stroke="#231f20" stroke-width="0.8"/>
<line x1="323.38" y1="498.2" x2="323.38" y2="500.2" stroke="#231f20" stroke-width="0.8"/>
<line x1="303.25" y1="433" x2="323" y2="433" stroke="#231f20" stroke-width="0.8"/>
<text x="313.12" y="433.3" font-size="8" text-anchor="middle" fill="#231f20" stroke="#231f20">**</text>
<text x="311.5" y="423.7" font-size="7" text-anchor="middle" fill="#231f20" stroke="#231f20">CXCL10</text>
<text x="304.75" y="509.8" font-size="7" text-anchor="middle" fill="#231f20" stroke="#231f20">+</text>
<text x="323.38" y="518.3" font-size="7" text-anchor="middle" fill="#231f20" stroke="#231f20">+</text>
<text x="18.7" y="510" font-size="7.2" text-anchor="start" fill="#231f20" stroke="#231f20">Anti-KLH:</text>
<text x="18.7" y="518.7" font-size="7.2" text-anchor="start" fill="#231f20" stroke="#231f20">Anti-ILT3:</text>
<text x="29.8" y="464" font-size="7" text-anchor="middle" fill="#231f20" stroke="#231f20" transform="rotate(-90 29.8 464)">Fold secretion</text>
<text x="38.7" y="463.2" font-size="7" text-anchor="middle" fill="#231f20" stroke="#231f20" transform="rotate(-90 38.7 463.2)">control vs. treated</text>
</svg></body></html>
